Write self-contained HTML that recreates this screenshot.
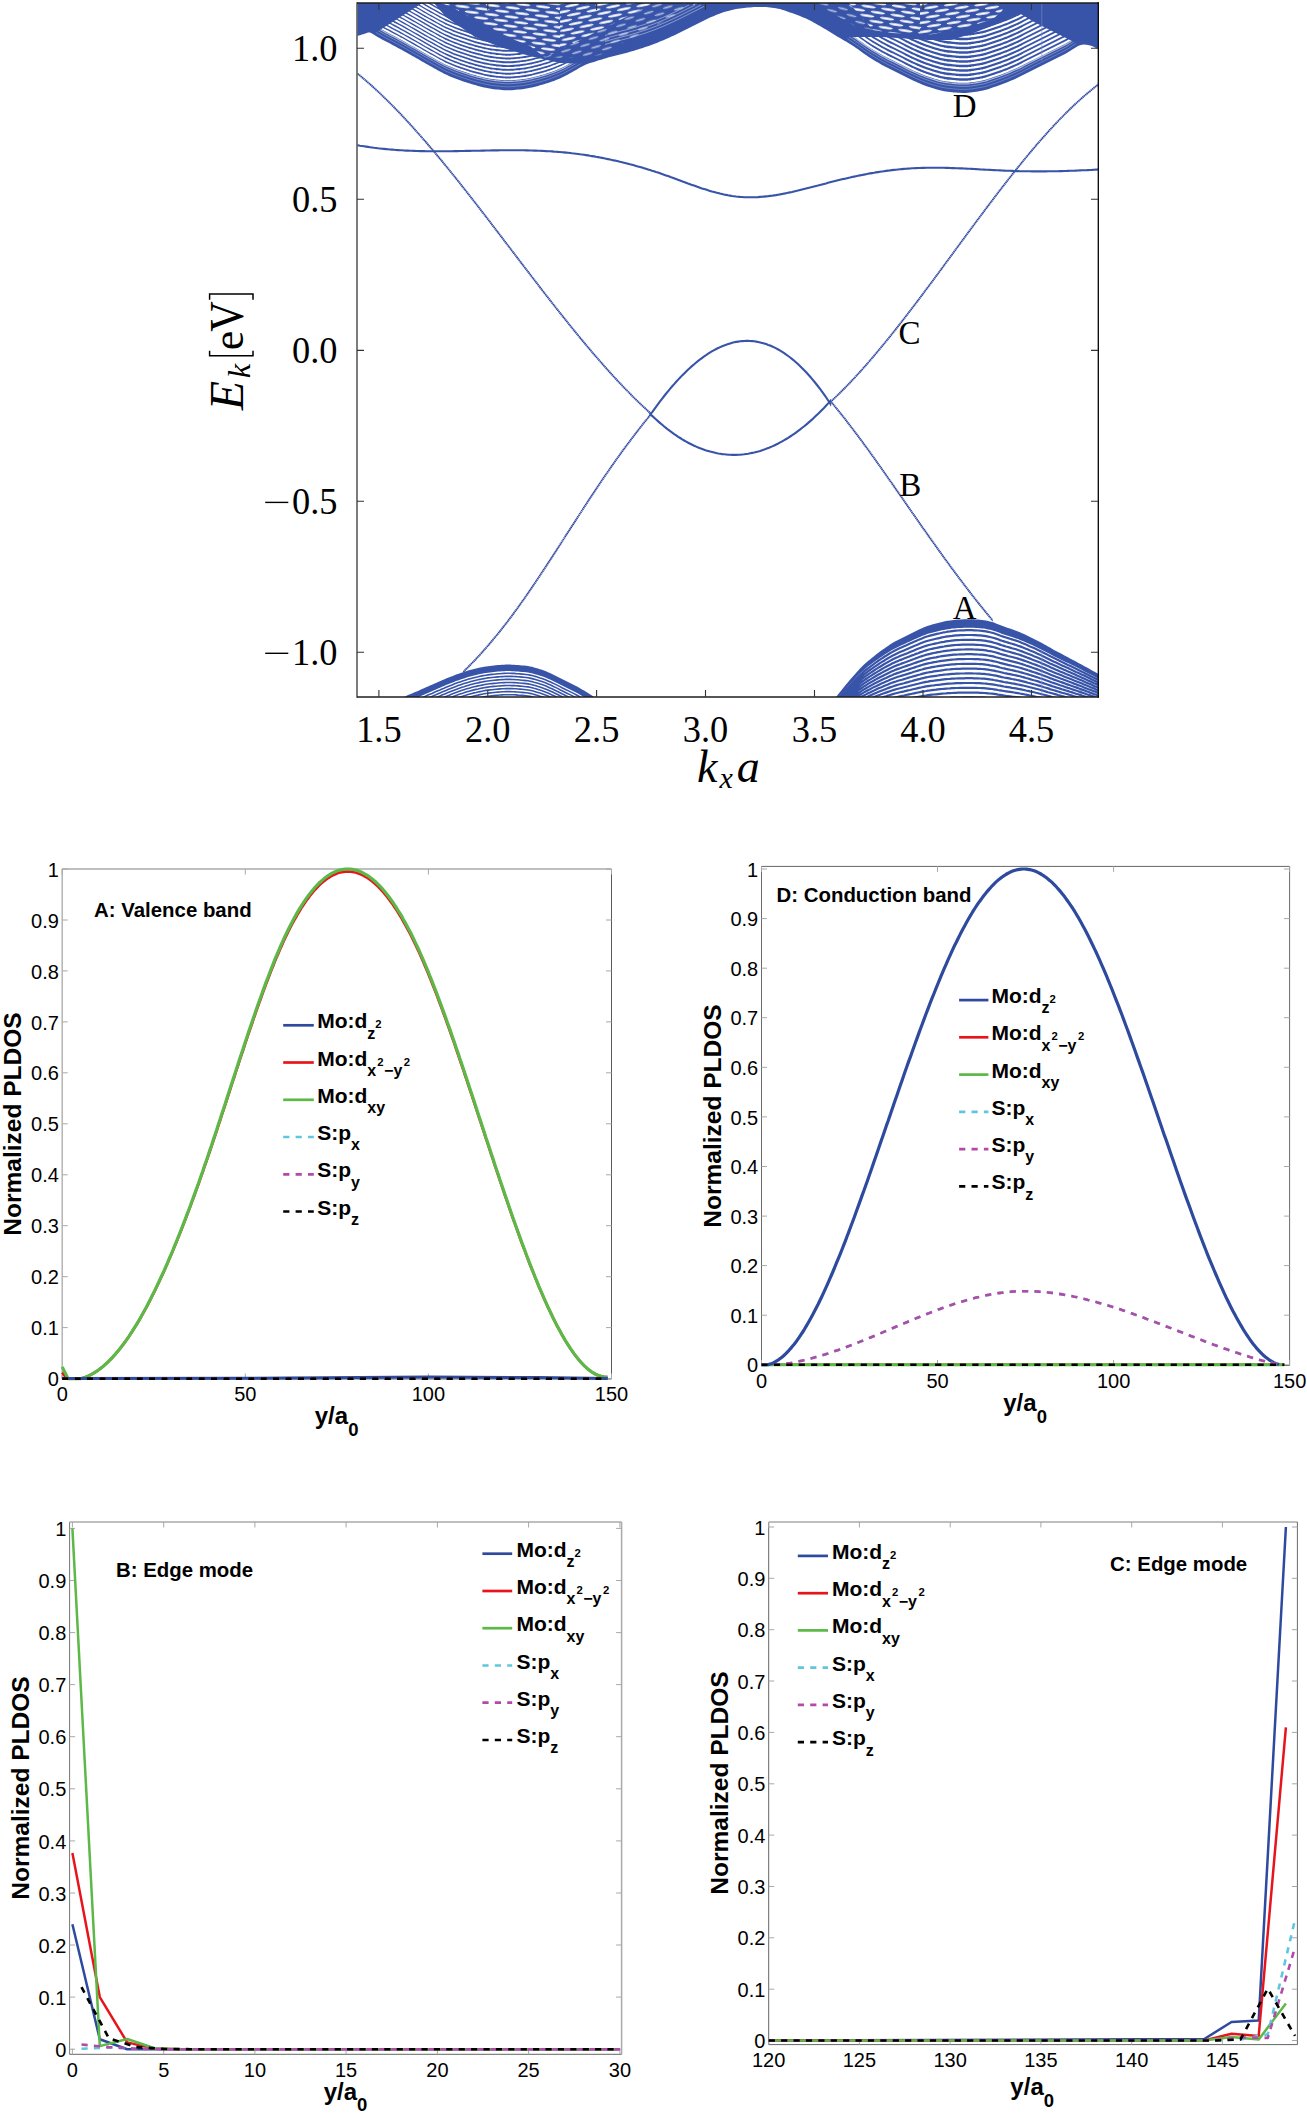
<!DOCTYPE html><html><head><meta charset="utf-8"><style>html,body{margin:0;padding:0;background:#fff;}svg{display:block}</style></head><body>
<svg width="1307" height="2114" viewBox="0 0 1307 2114">
<rect width="100%" height="100%" fill="#fff"/>
<defs>
<clipPath id="frame"><rect x="357" y="3" width="741" height="694"/></clipPath>
<clipPath id="r2"><path d="M372 35 L424 2 L433 2 L446 17 L475 37 L500 47 L530 56 L560 63 L590 64 L590 61.6 L588 62.2 L586 63 L584 63.9 L582 64.9 L580 66.1 L578 67.3 L576 68.4 L574 69.6 L572 70.7 L570 71.8 L568 72.9 L566 74 L564 75 L562 76 L560 76.9 L558 77.8 L556 78.6 L554 79.4 L552 80.1 L550 80.8 L548 81.5 L546 82.1 L544 82.7 L542 83.3 L540 83.8 L538 84.4 L536 84.9 L534 85.4 L532 85.9 L530 86.3 L528 86.7 L526 87.1 L524 87.4 L522 87.7 L520 87.9 L518 88.1 L516 88.3 L514 88.5 L512 88.7 L510 88.8 L508 88.8 L506 88.8 L504 88.7 L502 88.5 L500 88.3 L498 88.1 L496 87.9 L494 87.7 L492 87.4 L490 87.1 L488 86.7 L486 86.3 L484 85.9 L482 85.4 L480 84.9 L478 84.4 L476 83.8 L474 83.3 L472 82.7 L470 82.1 L468 81.5 L466 80.8 L464 80.2 L462 79.5 L460 78.8 L458 78.1 L456 77.3 L454 76.6 L452 75.7 L450 74.9 L448 74 L446 73.1 L444 72.2 L442 71.1 L440 70.1 L438 68.9 L436 67.8 L434 66.7 L432 65.6 L430 64.5 L428 63.3 L426 62.2 L424 61.1 L422 59.9 L420 58.8 L418 57.6 L416 56.5 L414 55.3 L412 54.2 L410 53.1 L408 51.9 L406 50.8 L404 49.7 L402 48.6 L400 47.5 L398 46.4 L396 45.3 L394 44.3 L392 43.2 L390 42.1 L388 41.1 L386 40 L384 38.9 L382 37.9 L380 36.8 L378 35.7 L376 34.5 L374 33.3 L372 32.1Z"/></clipPath>
<clipPath id="r3"><path d="M437 2 L656 2 L545 57.5 L530 46 L515 40 L490 28 L468 16 L450 6Z"/></clipPath>
<clipPath id="r3f"><path d="M656 2 L700 2 L600 55 L575 58 L545 57.5Z"/></clipPath>
<clipPath id="r3u"><path d="M437 2 L700 2 L600 55 L575 58 L545 57.5 L530 46 L515 40 L490 28 L468 16 L450 6Z"/></clipPath>
<clipPath id="r2b"><path d="M846 37 L882 37 L928 40 L951 40 L971 34 L989 27 L1003 21.5 L1011 17 L1020 13.5 L1035 22.5 L1046 28 L1056 33 L1067 38.6 L1076 43 L1076 45.7 L1074 46.9 L1072 48.2 L1070 49.5 L1068 50.8 L1066 52 L1064 53 L1062 54 L1060 55 L1058 56 L1056 57 L1054 58 L1052 59 L1050 60 L1048 60.9 L1046 61.9 L1044 62.9 L1042 63.9 L1040 64.9 L1038 65.9 L1036 66.9 L1034 67.9 L1032 68.9 L1030 70 L1028 71 L1026 72 L1024 73.1 L1022 74.1 L1020 75.1 L1018 76.1 L1016 77 L1014 77.9 L1012 78.8 L1010 79.6 L1008 80.5 L1006 81.3 L1004 82 L1002 82.8 L1000 83.5 L998 84.2 L996 84.9 L994 85.6 L992 86.3 L990 87 L988 87.7 L986 88.3 L984 88.8 L982 89.2 L980 89.6 L978 89.9 L976 90.2 L974 90.6 L972 90.8 L970 91.1 L968 91.3 L966 91.4 L964 91.4 L962 91.4 L960 91.3 L958 91.2 L956 91.1 L954 90.9 L952 90.7 L950 90.5 L948 90.3 L946 90 L944 89.7 L942 89.3 L940 88.8 L938 88.3 L936 87.7 L934 87.1 L932 86.5 L930 85.8 L928 85.2 L926 84.5 L924 83.7 L922 82.9 L920 82.1 L918 81.2 L916 80.3 L914 79.4 L912 78.5 L910 77.6 L908 76.6 L906 75.6 L904 74.6 L902 73.5 L900 72.5 L898 71.5 L896 70.5 L894 69.5 L892 68.6 L890 67.6 L888 66.6 L886 65.6 L884 64.5 L882 63.4 L880 62.3 L878 61.1 L876 59.9 L874 58.7 L872 57.5 L870 56.2 L868 54.9 L866 53.6 L864 52.2 L862 50.7 L860 49.3 L858 47.8 L856 46.4 L854 45.1 L852 43.8 L850 42.5Z"/></clipPath>
<clipPath id="r3b"><path d="M848 2 L1006 2 L1002 11 L993 19 L965 28 L928 35 L892 33 L873 30Z"/></clipPath>
<clipPath id="r3bf"><path d="M812 2 L848 2 L873 30 L855 26 L832 13Z"/></clipPath>
<clipPath id="r3bu"><path d="M812 2 L1006 2 L1002 11 L993 19 L965 28 L928 35 L892 33 L873 30 L855 26 L832 13Z"/></clipPath>
</defs>
<g clip-path="url(#frame)">
<path d="M356 2 L1099 2 L1098 49.3 L1096 48 L1094 47 L1092 46.1 L1090 45.5 L1088 45 L1086 44.7 L1084 44.6 L1082 44.8 L1080 45.3 L1078 46.1 L1076 47.2 L1074 48.4 L1072 49.7 L1070 51 L1068 52.3 L1066 53.5 L1064 54.5 L1062 55.5 L1060 56.5 L1058 57.5 L1056 58.5 L1054 59.5 L1052 60.5 L1050 61.5 L1048 62.4 L1046 63.4 L1044 64.4 L1042 65.4 L1040 66.4 L1038 67.4 L1036 68.4 L1034 69.4 L1032 70.4 L1030 71.5 L1028 72.5 L1026 73.5 L1024 74.6 L1022 75.6 L1020 76.6 L1018 77.6 L1016 78.5 L1014 79.4 L1012 80.3 L1010 81.1 L1008 82 L1006 82.8 L1004 83.5 L1002 84.3 L1000 85 L998 85.7 L996 86.4 L994 87.1 L992 87.8 L990 88.5 L988 89.2 L986 89.8 L984 90.3 L982 90.7 L980 91.1 L978 91.4 L976 91.7 L974 92.1 L972 92.3 L970 92.6 L968 92.8 L966 92.9 L964 92.9 L962 92.9 L960 92.8 L958 92.7 L956 92.6 L954 92.4 L952 92.2 L950 92 L948 91.8 L946 91.5 L944 91.2 L942 90.8 L940 90.3 L938 89.8 L936 89.2 L934 88.6 L932 88 L930 87.3 L928 86.7 L926 86 L924 85.2 L922 84.4 L920 83.6 L918 82.7 L916 81.8 L914 80.9 L912 80 L910 79.1 L908 78.1 L906 77.1 L904 76.1 L902 75 L900 74 L898 73 L896 72 L894 71 L892 70.1 L890 69.1 L888 68.1 L886 67.1 L884 66 L882 64.9 L880 63.8 L878 62.6 L876 61.4 L874 60.2 L872 59 L870 57.7 L868 56.4 L866 55.1 L864 53.7 L862 52.2 L860 50.8 L858 49.3 L856 47.9 L854 46.6 L852 45.3 L850 44 L848 42.8 L846 41.6 L844 40.4 L842 39.2 L840 38.1 L838 36.9 L836 35.7 L834 34.5 L832 33.2 L830 32 L828 30.8 L826 29.6 L824 28.4 L822 27.3 L820 26.1 L818 25 L816 23.8 L814 22.7 L812 21.6 L810 20.5 L808 19.5 L806 18.6 L804 17.7 L802 16.9 L800 16 L798 15.3 L796 14.5 L794 13.8 L792 13.1 L790 12.4 L788 11.7 L786 11 L784 10.3 L782 9.7 L780 9.1 L778 8.7 L776 8.3 L774 8 L772 7.8 L770 7.5 L768 7.3 L766 7.1 L764 7 L762 6.9 L760 6.9 L758 6.9 L756 7 L754 7.1 L752 7.3 L750 7.4 L748 7.6 L746 7.8 L744 8 L742 8.2 L740 8.4 L738 8.7 L736 9 L734 9.4 L732 9.9 L730 10.4 L728 10.9 L726 11.5 L724 12.1 L722 12.7 L720 13.4 L718 14.2 L716 15 L714 15.9 L712 16.7 L710 17.6 L708 18.5 L706 19.5 L704 20.4 L702 21.4 L700 22.4 L698 23.5 L696 24.5 L694 25.5 L692 26.5 L690 27.5 L688 28.5 L686 29.5 L684 30.5 L682 31.5 L680 32.5 L678 33.5 L676 34.5 L674 35.4 L672 36.3 L670 37.3 L668 38.2 L666 39.1 L664 39.9 L662 40.8 L660 41.6 L658 42.4 L656 43.2 L654 44 L652 44.7 L650 45.4 L648 46.2 L646 46.8 L644 47.5 L642 48.2 L640 48.8 L638 49.4 L636 50.1 L634 50.7 L632 51.2 L630 51.8 L628 52.4 L626 52.9 L624 53.4 L622 53.9 L620 54.4 L618 54.9 L616 55.4 L614 56 L612 56.5 L610 57.1 L608 57.6 L606 58.2 L604 58.8 L602 59.4 L600 60 L598 60.6 L596 61.3 L594 61.9 L592 62.5 L590 63.1 L588 63.7 L586 64.5 L584 65.4 L582 66.4 L580 67.6 L578 68.8 L576 69.9 L574 71.1 L572 72.2 L570 73.3 L568 74.4 L566 75.5 L564 76.5 L562 77.5 L560 78.4 L558 79.3 L556 80.1 L554 80.9 L552 81.6 L550 82.3 L548 83 L546 83.6 L544 84.2 L542 84.8 L540 85.3 L538 85.9 L536 86.4 L534 86.9 L532 87.4 L530 87.8 L528 88.2 L526 88.6 L524 88.9 L522 89.2 L520 89.4 L518 89.6 L516 89.8 L514 90 L512 90.2 L510 90.3 L508 90.3 L506 90.3 L504 90.2 L502 90 L500 89.8 L498 89.6 L496 89.4 L494 89.2 L492 88.9 L490 88.6 L488 88.2 L486 87.8 L484 87.4 L482 86.9 L480 86.4 L478 85.9 L476 85.3 L474 84.8 L472 84.2 L470 83.6 L468 83 L466 82.3 L464 81.7 L462 81 L460 80.3 L458 79.6 L456 78.8 L454 78.1 L452 77.2 L450 76.4 L448 75.5 L446 74.6 L444 73.7 L442 72.6 L440 71.6 L438 70.4 L436 69.3 L434 68.2 L432 67.1 L430 66 L428 64.8 L426 63.7 L424 62.6 L422 61.4 L420 60.3 L418 59.1 L416 58 L414 56.8 L412 55.7 L410 54.6 L408 53.4 L406 52.3 L404 51.2 L402 50.1 L400 49 L398 47.9 L396 46.8 L394 45.8 L392 44.7 L390 43.6 L388 42.6 L386 41.5 L384 40.4 L382 39.4 L380 38.3 L378 37.2 L376 36 L374 34.8 L372 33.6 L370 32.4 L368 32.6 L366 33.3 L364 34 L362 34.6 L360 35.2 L358 35.8 L356 36.3Z" fill="#3854a9"/>
<g clip-path="url(#r2)" fill="none" stroke="#fff"><path d="M370 28.9 L373 30.7 L376 32.5 L379 34.2 L382 35.9 L385 37.5 L388 39.1 L391 40.7 L394 42.3 L397 43.8 L400 45.5 L403 47.1 L406 48.8 L409 50.5 L412 52.2 L415 53.9 L418 55.6 L421 57.3 L424 59.1 L427 60.8 L430 62.5 L433 64.1 L436 65.8 L439 67.5 L442 69.1 L445 70.7 L448 72 L451 73.3 L454 74.6 L457 75.7 L460 76.8 L463 77.8 L466 78.8 L469 79.8 L472 80.7 L475 81.6 L478 82.4 L481 83.1 L484 83.9 L487 84.5 L490 85.1 L493 85.5 L496 85.9 L499 86.2 L502 86.5 L505 86.7 L508 86.8 L511 86.7 L514 86.5 L517 86.2 L520 85.9 L523 85.5 L526 85.1 L529 84.5 L532 83.9 L535 83.1 L538 82.4 L541 81.6 L544 80.7 L547 79.8 L550 78.8 L553 77.7 L556 76.6 L559 75.3 L562 74 L565 72.5 L568 70.9 L571 69.3 L574 67.6 L577 65.9 L580 64.1 L583 62.4 L586 61 L589 59.9 L592 59 L595 58.1 L598 57.1" stroke-width="0.8" stroke-opacity="0.3"/><path d="M370 25.9 L373 27.7 L376 29.5 L379 31.2 L382 32.9 L385 34.5 L388 36.1 L391 37.7 L394 39.3 L397 40.8 L400 42.5 L403 44.1 L406 45.8 L409 47.5 L412 49.2 L415 50.9 L418 52.6 L421 54.3 L424 56.1 L427 57.8 L430 59.5 L433 61.1 L436 62.8 L439 64.5 L442 66.1 L445 67.7 L448 69 L451 70.3 L454 71.6 L457 72.7 L460 73.8 L463 74.8 L466 75.8 L469 76.8 L472 77.7 L475 78.6 L478 79.4 L481 80.1 L484 80.9 L487 81.5 L490 82.1 L493 82.5 L496 82.9 L499 83.2 L502 83.5 L505 83.7 L508 83.8 L511 83.7 L514 83.5 L517 83.2 L520 82.9 L523 82.5 L526 82.1 L529 81.5 L532 80.9 L535 80.1 L538 79.4 L541 78.6 L544 77.7 L547 76.8 L550 75.8 L553 74.7 L556 73.6 L559 72.3 L562 71 L565 69.5 L568 67.9 L571 66.3 L574 64.6 L577 62.9 L580 61.1 L583 59.4 L586 58 L589 56.9 L592 56 L595 55.1 L598 54.1" stroke-width="0.9" stroke-opacity="0.35"/><path d="M370 23.6 L373 25.4 L376 27.2 L379 28.9 L382 30.6 L385 32.2 L388 33.8 L391 35.4 L394 37 L397 38.5 L400 40.2 L403 41.8 L406 43.5 L409 45.2 L412 46.9 L415 48.6 L418 50.3 L421 52 L424 53.8 L427 55.5 L430 57.2 L433 58.8 L436 60.5 L439 62.2 L442 63.8 L445 65.4 L448 66.7 L451 68 L454 69.3 L457 70.4 L460 71.5 L463 72.5 L466 73.5 L469 74.5 L472 75.4 L475 76.3 L478 77.1 L481 77.8 L484 78.6 L487 79.2 L490 79.8 L493 80.2 L496 80.6 L499 80.9 L502 81.2 L505 81.4 L508 81.5 L511 81.4 L514 81.2 L517 80.9 L520 80.6 L523 80.2 L526 79.8 L529 79.2 L532 78.6 L535 77.8 L538 77.1 L541 76.3 L544 75.4 L547 74.5 L550 73.5 L553 72.4 L556 71.3 L559 70 L562 68.7 L565 67.2 L568 65.6 L571 64 L574 62.3 L577 60.6 L580 58.8 L583 57.1 L586 55.7 L589 54.6 L592 53.7 L595 52.8 L598 51.8" stroke-width="1.1" stroke-opacity="0.6"/><path d="M370 21.5 L373 23.3 L376 25.1 L379 26.8 L382 28.5 L385 30.1 L388 31.7 L391 33.3 L394 34.9 L397 36.4 L400 38.1 L403 39.7 L406 41.4 L409 43.1 L412 44.8 L415 46.5 L418 48.2 L421 49.9 L424 51.7 L427 53.4 L430 55.1 L433 56.7 L436 58.4 L439 60.1 L442 61.7 L445 63.3 L448 64.6 L451 65.9 L454 67.2 L457 68.3 L460 69.4 L463 70.4 L466 71.4 L469 72.4 L472 73.3 L475 74.2 L478 75 L481 75.7 L484 76.5 L487 77.1 L490 77.7 L493 78.1 L496 78.5 L499 78.8 L502 79.1 L505 79.3 L508 79.4 L511 79.3 L514 79.1 L517 78.8 L520 78.5 L523 78.1 L526 77.7 L529 77.1 L532 76.5 L535 75.7 L538 75 L541 74.2 L544 73.3 L547 72.4 L550 71.4 L553 70.3 L556 69.2 L559 67.9 L562 66.6 L565 65.1 L568 63.5 L571 61.9 L574 60.2 L577 58.5 L580 56.7 L583 55 L586 53.6 L589 52.5 L592 51.6 L595 50.7 L598 49.7" stroke-width="1.9" stroke-opacity="1"/><path d="M370 17.7 L373 19.5 L376 21.3 L379 23 L382 24.7 L385 26.3 L388 27.9 L391 29.5 L394 31.1 L397 32.6 L400 34.3 L403 35.9 L406 37.6 L409 39.3 L412 41 L415 42.7 L418 44.4 L421 46.1 L424 47.9 L427 49.6 L430 51.3 L433 52.9 L436 54.6 L439 56.3 L442 57.9 L445 59.5 L448 60.8 L451 62.1 L454 63.4 L457 64.5 L460 65.6 L463 66.6 L466 67.6 L469 68.6 L472 69.5 L475 70.4 L478 71.2 L481 71.9 L484 72.7 L487 73.3 L490 73.9 L493 74.3 L496 74.7 L499 75 L502 75.3 L505 75.5 L508 75.6 L511 75.5 L514 75.3 L517 75 L520 74.7 L523 74.3 L526 73.9 L529 73.3 L532 72.7 L535 71.9 L538 71.2 L541 70.4 L544 69.5 L547 68.6 L550 67.6 L553 66.5 L556 65.4 L559 64.1 L562 62.8 L565 61.3 L568 59.7 L571 58.1 L574 56.4 L577 54.7 L580 52.9 L583 51.2 L586 49.8 L589 48.7 L592 47.8 L595 46.9 L598 45.9" stroke-width="1.9" stroke-opacity="1"/><path d="M370 13.9 L373 15.7 L376 17.5 L379 19.2 L382 20.9 L385 22.5 L388 24.1 L391 25.7 L394 27.3 L397 28.8 L400 30.5 L403 32.1 L406 33.8 L409 35.5 L412 37.2 L415 38.9 L418 40.6 L421 42.3 L424 44.1 L427 45.8 L430 47.5 L433 49.1 L436 50.8 L439 52.5 L442 54.1 L445 55.7 L448 57 L451 58.3 L454 59.6 L457 60.7 L460 61.8 L463 62.8 L466 63.8 L469 64.8 L472 65.7 L475 66.6 L478 67.4 L481 68.1 L484 68.9 L487 69.5 L490 70.1 L493 70.5 L496 70.9 L499 71.2 L502 71.5 L505 71.7 L508 71.8 L511 71.7 L514 71.5 L517 71.2 L520 70.9 L523 70.5 L526 70.1 L529 69.5 L532 68.9 L535 68.1 L538 67.4 L541 66.6 L544 65.7 L547 64.8 L550 63.8 L553 62.7 L556 61.6 L559 60.3 L562 59 L565 57.5 L568 55.9 L571 54.3 L574 52.6 L577 50.9 L580 49.1 L583 47.4 L586 46 L589 44.9 L592 44 L595 43.1 L598 42.1" stroke-width="1.9" stroke-opacity="1"/><path d="M370 10.1 L373 11.9 L376 13.7 L379 15.4 L382 17.1 L385 18.7 L388 20.3 L391 21.9 L394 23.5 L397 25 L400 26.7 L403 28.3 L406 30 L409 31.7 L412 33.4 L415 35.1 L418 36.8 L421 38.5 L424 40.3 L427 42 L430 43.7 L433 45.3 L436 47 L439 48.7 L442 50.3 L445 51.9 L448 53.2 L451 54.5 L454 55.8 L457 56.9 L460 58 L463 59 L466 60 L469 61 L472 61.9 L475 62.8 L478 63.6 L481 64.3 L484 65.1 L487 65.7 L490 66.3 L493 66.7 L496 67.1 L499 67.4 L502 67.7 L505 67.9 L508 68 L511 67.9 L514 67.7 L517 67.4 L520 67.1 L523 66.7 L526 66.3 L529 65.7 L532 65.1 L535 64.3 L538 63.6 L541 62.8 L544 61.9 L547 61 L550 60 L553 58.9 L556 57.8 L559 56.5 L562 55.2 L565 53.7 L568 52.1 L571 50.5 L574 48.8 L577 47.1 L580 45.3 L583 43.6 L586 42.2 L589 41.1 L592 40.2 L595 39.3 L598 38.3" stroke-width="1.9" stroke-opacity="1"/><path d="M370 6.3 L373 8.1 L376 9.9 L379 11.6 L382 13.3 L385 14.9 L388 16.5 L391 18.1 L394 19.7 L397 21.2 L400 22.9 L403 24.5 L406 26.2 L409 27.9 L412 29.6 L415 31.3 L418 33 L421 34.7 L424 36.5 L427 38.2 L430 39.9 L433 41.5 L436 43.2 L439 44.9 L442 46.5 L445 48.1 L448 49.4 L451 50.7 L454 52 L457 53.1 L460 54.2 L463 55.2 L466 56.2 L469 57.2 L472 58.1 L475 59 L478 59.8 L481 60.5 L484 61.3 L487 61.9 L490 62.5 L493 62.9 L496 63.3 L499 63.6 L502 63.9 L505 64.1 L508 64.2 L511 64.1 L514 63.9 L517 63.6 L520 63.3 L523 62.9 L526 62.5 L529 61.9 L532 61.3 L535 60.5 L538 59.8 L541 59 L544 58.1 L547 57.2 L550 56.2 L553 55.1 L556 54 L559 52.7 L562 51.4 L565 49.9 L568 48.3 L571 46.7 L574 45 L577 43.3 L580 41.5 L583 39.8 L586 38.4 L589 37.3 L592 36.4 L595 35.5 L598 34.5" stroke-width="1.9" stroke-opacity="1"/><path d="M370 2.5 L373 4.3 L376 6.1 L379 7.8 L382 9.5 L385 11.1 L388 12.7 L391 14.3 L394 15.9 L397 17.4 L400 19.1 L403 20.7 L406 22.4 L409 24.1 L412 25.8 L415 27.5 L418 29.2 L421 30.9 L424 32.7 L427 34.4 L430 36.1 L433 37.7 L436 39.4 L439 41.1 L442 42.7 L445 44.3 L448 45.6 L451 46.9 L454 48.2 L457 49.3 L460 50.4 L463 51.4 L466 52.4 L469 53.4 L472 54.3 L475 55.2 L478 56 L481 56.7 L484 57.5 L487 58.1 L490 58.7 L493 59.1 L496 59.5 L499 59.8 L502 60.1 L505 60.3 L508 60.4 L511 60.3 L514 60.1 L517 59.8 L520 59.5 L523 59.1 L526 58.7 L529 58.1 L532 57.5 L535 56.7 L538 56 L541 55.2 L544 54.3 L547 53.4 L550 52.4 L553 51.3 L556 50.2 L559 48.9 L562 47.6 L565 46.1 L568 44.5 L571 42.9 L574 41.2 L577 39.5 L580 37.7 L583 36 L586 34.6 L589 33.5 L592 32.6 L595 31.7 L598 30.7" stroke-width="1.9" stroke-opacity="1"/><path d="M370 -1.3 L373 0.5 L376 2.3 L379 4 L382 5.7 L385 7.3 L388 8.9 L391 10.5 L394 12.1 L397 13.6 L400 15.3 L403 16.9 L406 18.6 L409 20.3 L412 22 L415 23.7 L418 25.4 L421 27.1 L424 28.9 L427 30.6 L430 32.3 L433 33.9 L436 35.6 L439 37.3 L442 38.9 L445 40.5 L448 41.8 L451 43.1 L454 44.4 L457 45.5 L460 46.6 L463 47.6 L466 48.6 L469 49.6 L472 50.5 L475 51.4 L478 52.2 L481 52.9 L484 53.7 L487 54.3 L490 54.9 L493 55.3 L496 55.7 L499 56 L502 56.3 L505 56.5 L508 56.6 L511 56.5 L514 56.3 L517 56 L520 55.7 L523 55.3 L526 54.9 L529 54.3 L532 53.7 L535 52.9 L538 52.2 L541 51.4 L544 50.5 L547 49.6 L550 48.6 L553 47.5 L556 46.4 L559 45.1 L562 43.8 L565 42.3 L568 40.7 L571 39.1 L574 37.4 L577 35.7 L580 33.9 L583 32.2 L586 30.8 L589 29.7 L592 28.8 L595 27.9 L598 26.9" stroke-width="1.9" stroke-opacity="1"/><path d="M370 -5.1 L373 -3.3 L376 -1.5 L379 0.2 L382 1.9 L385 3.5 L388 5.1 L391 6.7 L394 8.3 L397 9.8 L400 11.5 L403 13.1 L406 14.8 L409 16.5 L412 18.2 L415 19.9 L418 21.6 L421 23.3 L424 25.1 L427 26.8 L430 28.5 L433 30.1 L436 31.8 L439 33.5 L442 35.1 L445 36.7 L448 38 L451 39.3 L454 40.6 L457 41.7 L460 42.8 L463 43.8 L466 44.8 L469 45.8 L472 46.7 L475 47.6 L478 48.4 L481 49.1 L484 49.9 L487 50.5 L490 51.1 L493 51.5 L496 51.9 L499 52.2 L502 52.5 L505 52.7 L508 52.8 L511 52.7 L514 52.5 L517 52.2 L520 51.9 L523 51.5 L526 51.1 L529 50.5 L532 49.9 L535 49.1 L538 48.4 L541 47.6 L544 46.7 L547 45.8 L550 44.8 L553 43.7 L556 42.6 L559 41.3 L562 40 L565 38.5 L568 36.9 L571 35.3 L574 33.6 L577 31.9 L580 30.1 L583 28.4 L586 27 L589 25.9 L592 25 L595 24.1 L598 23.1" stroke-width="1.9" stroke-opacity="1"/><path d="M370 -8.9 L373 -7.1 L376 -5.3 L379 -3.6 L382 -1.9 L385 -0.3 L388 1.3 L391 2.9 L394 4.5 L397 6 L400 7.7 L403 9.3 L406 11 L409 12.7 L412 14.4 L415 16.1 L418 17.8 L421 19.5 L424 21.3 L427 23 L430 24.7 L433 26.3 L436 28 L439 29.7 L442 31.3 L445 32.9 L448 34.2 L451 35.5 L454 36.8 L457 37.9 L460 39 L463 40 L466 41 L469 42 L472 42.9 L475 43.8 L478 44.6 L481 45.3 L484 46.1 L487 46.7 L490 47.3 L493 47.7 L496 48.1 L499 48.4 L502 48.7 L505 48.9 L508 49 L511 48.9 L514 48.7 L517 48.4 L520 48.1 L523 47.7 L526 47.3 L529 46.7 L532 46.1 L535 45.3 L538 44.6 L541 43.8 L544 42.9 L547 42 L550 41 L553 39.9 L556 38.8 L559 37.5 L562 36.2 L565 34.7 L568 33.1 L571 31.5 L574 29.8 L577 28.1 L580 26.3 L583 24.6 L586 23.2 L589 22.1 L592 21.2 L595 20.3 L598 19.3" stroke-width="1.9" stroke-opacity="1"/><path d="M370 -12.7 L373 -10.9 L376 -9.1 L379 -7.4 L382 -5.7 L385 -4.1 L388 -2.5 L391 -0.9 L394 0.7 L397 2.2 L400 3.9 L403 5.5 L406 7.2 L409 8.9 L412 10.6 L415 12.3 L418 14 L421 15.7 L424 17.5 L427 19.2 L430 20.9 L433 22.5 L436 24.2 L439 25.9 L442 27.5 L445 29.1 L448 30.4 L451 31.7 L454 33 L457 34.1 L460 35.2 L463 36.2 L466 37.2 L469 38.2 L472 39.1 L475 40 L478 40.8 L481 41.5 L484 42.3 L487 42.9 L490 43.5 L493 43.9 L496 44.3 L499 44.6 L502 44.9 L505 45.1 L508 45.2 L511 45.1 L514 44.9 L517 44.6 L520 44.3 L523 43.9 L526 43.5 L529 42.9 L532 42.3 L535 41.5 L538 40.8 L541 40 L544 39.1 L547 38.2 L550 37.2 L553 36.1 L556 35 L559 33.7 L562 32.4 L565 30.9 L568 29.3 L571 27.7 L574 26 L577 24.3 L580 22.5 L583 20.8 L586 19.4 L589 18.3 L592 17.4 L595 16.5 L598 15.5" stroke-width="1.9" stroke-opacity="1"/><path d="M370 -16.5 L373 -14.7 L376 -12.9 L379 -11.2 L382 -9.5 L385 -7.9 L388 -6.3 L391 -4.7 L394 -3.1 L397 -1.6 L400 0.1 L403 1.7 L406 3.4 L409 5.1 L412 6.8 L415 8.5 L418 10.2 L421 11.9 L424 13.7 L427 15.4 L430 17.1 L433 18.7 L436 20.4 L439 22.1 L442 23.7 L445 25.3 L448 26.6 L451 27.9 L454 29.2 L457 30.3 L460 31.4 L463 32.4 L466 33.4 L469 34.4 L472 35.3 L475 36.2 L478 37 L481 37.7 L484 38.5 L487 39.1 L490 39.7 L493 40.1 L496 40.5 L499 40.8 L502 41.1 L505 41.3 L508 41.4 L511 41.3 L514 41.1 L517 40.8 L520 40.5 L523 40.1 L526 39.7 L529 39.1 L532 38.5 L535 37.7 L538 37 L541 36.2 L544 35.3 L547 34.4 L550 33.4 L553 32.3 L556 31.2 L559 29.9 L562 28.6 L565 27.1 L568 25.5 L571 23.9 L574 22.2 L577 20.5 L580 18.7 L583 17 L586 15.6 L589 14.5 L592 13.6 L595 12.7 L598 11.7" stroke-width="1.9" stroke-opacity="1"/><path d="M370 -20.3 L373 -18.5 L376 -16.7 L379 -15 L382 -13.3 L385 -11.7 L388 -10.1 L391 -8.5 L394 -6.9 L397 -5.4 L400 -3.7 L403 -2.1 L406 -0.4 L409 1.3 L412 3 L415 4.7 L418 6.4 L421 8.1 L424 9.9 L427 11.6 L430 13.3 L433 14.9 L436 16.6 L439 18.3 L442 19.9 L445 21.5 L448 22.8 L451 24.1 L454 25.4 L457 26.5 L460 27.6 L463 28.6 L466 29.6 L469 30.6 L472 31.5 L475 32.4 L478 33.2 L481 33.9 L484 34.7 L487 35.3 L490 35.9 L493 36.3 L496 36.7 L499 37 L502 37.3 L505 37.5 L508 37.6 L511 37.5 L514 37.3 L517 37 L520 36.7 L523 36.3 L526 35.9 L529 35.3 L532 34.7 L535 33.9 L538 33.2 L541 32.4 L544 31.5 L547 30.6 L550 29.6 L553 28.5 L556 27.4 L559 26.1 L562 24.8 L565 23.3 L568 21.7 L571 20.1 L574 18.4 L577 16.7 L580 14.9 L583 13.2 L586 11.8 L589 10.7 L592 9.8 L595 8.9 L598 7.9" stroke-width="1.9" stroke-opacity="1"/><path d="M370 -24.1 L373 -22.3 L376 -20.5 L379 -18.8 L382 -17.1 L385 -15.5 L388 -13.9 L391 -12.3 L394 -10.7 L397 -9.2 L400 -7.5 L403 -5.9 L406 -4.2 L409 -2.5 L412 -0.8 L415 0.9 L418 2.6 L421 4.3 L424 6.1 L427 7.8 L430 9.5 L433 11.1 L436 12.8 L439 14.5 L442 16.1 L445 17.7 L448 19 L451 20.3 L454 21.6 L457 22.7 L460 23.8 L463 24.8 L466 25.8 L469 26.8 L472 27.7 L475 28.6 L478 29.4 L481 30.1 L484 30.9 L487 31.5 L490 32.1 L493 32.5 L496 32.9 L499 33.2 L502 33.5 L505 33.7 L508 33.8 L511 33.7 L514 33.5 L517 33.2 L520 32.9 L523 32.5 L526 32.1 L529 31.5 L532 30.9 L535 30.1 L538 29.4 L541 28.6 L544 27.7 L547 26.8 L550 25.8 L553 24.7 L556 23.6 L559 22.3 L562 21 L565 19.5 L568 17.9 L571 16.3 L574 14.6 L577 12.9 L580 11.1 L583 9.4 L586 8 L589 6.9 L592 6 L595 5.1 L598 4.1" stroke-width="1.9" stroke-opacity="1"/><path d="M370 -27.9 L373 -26.1 L376 -24.3 L379 -22.6 L382 -20.9 L385 -19.3 L388 -17.7 L391 -16.1 L394 -14.5 L397 -13 L400 -11.3 L403 -9.7 L406 -8 L409 -6.3 L412 -4.6 L415 -2.9 L418 -1.2 L421 0.5 L424 2.3 L427 4 L430 5.7 L433 7.3 L436 9 L439 10.7 L442 12.3 L445 13.9 L448 15.2 L451 16.5 L454 17.8 L457 18.9 L460 20 L463 21 L466 22 L469 23 L472 23.9 L475 24.8 L478 25.6 L481 26.3 L484 27.1 L487 27.7 L490 28.3 L493 28.7 L496 29.1 L499 29.4 L502 29.7 L505 29.9 L508 30 L511 29.9 L514 29.7 L517 29.4 L520 29.1 L523 28.7 L526 28.3 L529 27.7 L532 27.1 L535 26.3 L538 25.6 L541 24.8 L544 23.9 L547 23 L550 22 L553 20.9 L556 19.8 L559 18.5 L562 17.2 L565 15.7 L568 14.1 L571 12.5 L574 10.8 L577 9.1 L580 7.3 L583 5.6 L586 4.2 L589 3.1 L592 2.2 L595 1.3 L598 0.3" stroke-width="1.9" stroke-opacity="1"/><path d="M370 -31.7 L373 -29.9 L376 -28.1 L379 -26.4 L382 -24.7 L385 -23.1 L388 -21.5 L391 -19.9 L394 -18.3 L397 -16.8 L400 -15.1 L403 -13.5 L406 -11.8 L409 -10.1 L412 -8.4 L415 -6.7 L418 -5 L421 -3.3 L424 -1.5 L427 0.2 L430 1.9 L433 3.5 L436 5.2 L439 6.9 L442 8.5 L445 10.1 L448 11.4 L451 12.7 L454 14 L457 15.1 L460 16.2 L463 17.2 L466 18.2 L469 19.2 L472 20.1 L475 21 L478 21.8 L481 22.5 L484 23.3 L487 23.9 L490 24.5 L493 24.9 L496 25.3 L499 25.6 L502 25.9 L505 26.1 L508 26.2 L511 26.1 L514 25.9 L517 25.6 L520 25.3 L523 24.9 L526 24.5 L529 23.9 L532 23.3 L535 22.5 L538 21.8 L541 21 L544 20.1 L547 19.2 L550 18.2 L553 17.1 L556 16 L559 14.7 L562 13.4 L565 11.9 L568 10.3 L571 8.7 L574 7 L577 5.3 L580 3.5 L583 1.8 L586 0.4 L589 -0.7 L592 -1.6 L595 -2.5 L598 -3.5" stroke-width="1.9" stroke-opacity="1"/><path d="M370 -35.5 L373 -33.7 L376 -31.9 L379 -30.2 L382 -28.5 L385 -26.9 L388 -25.3 L391 -23.7 L394 -22.1 L397 -20.6 L400 -18.9 L403 -17.3 L406 -15.6 L409 -13.9 L412 -12.2 L415 -10.5 L418 -8.8 L421 -7.1 L424 -5.3 L427 -3.6 L430 -1.9 L433 -0.3 L436 1.4 L439 3.1 L442 4.7 L445 6.3 L448 7.6 L451 8.9 L454 10.2 L457 11.3 L460 12.4 L463 13.4 L466 14.4 L469 15.4 L472 16.3 L475 17.2 L478 18 L481 18.7 L484 19.5 L487 20.1 L490 20.7 L493 21.1 L496 21.5 L499 21.8 L502 22.1 L505 22.3 L508 22.4 L511 22.3 L514 22.1 L517 21.8 L520 21.5 L523 21.1 L526 20.7 L529 20.1 L532 19.5 L535 18.7 L538 18 L541 17.2 L544 16.3 L547 15.4 L550 14.4 L553 13.3 L556 12.2 L559 10.9 L562 9.6 L565 8.1 L568 6.5 L571 4.9 L574 3.2 L577 1.5 L580 -0.3 L583 -2 L586 -3.4 L589 -4.5 L592 -5.4 L595 -6.3 L598 -7.3" stroke-width="1.9" stroke-opacity="1"/><path d="M370 -39.3 L373 -37.5 L376 -35.7 L379 -34 L382 -32.3 L385 -30.7 L388 -29.1 L391 -27.5 L394 -25.9 L397 -24.4 L400 -22.7 L403 -21.1 L406 -19.4 L409 -17.7 L412 -16 L415 -14.3 L418 -12.6 L421 -10.9 L424 -9.1 L427 -7.4 L430 -5.7 L433 -4.1 L436 -2.4 L439 -0.7 L442 0.9 L445 2.5 L448 3.8 L451 5.1 L454 6.4 L457 7.5 L460 8.6 L463 9.6 L466 10.6 L469 11.6 L472 12.5 L475 13.4 L478 14.2 L481 14.9 L484 15.7 L487 16.3 L490 16.9 L493 17.3 L496 17.7 L499 18 L502 18.3 L505 18.5 L508 18.6 L511 18.5 L514 18.3 L517 18 L520 17.7 L523 17.3 L526 16.9 L529 16.3 L532 15.7 L535 14.9 L538 14.2 L541 13.4 L544 12.5 L547 11.6 L550 10.6 L553 9.5 L556 8.4 L559 7.1 L562 5.8 L565 4.3 L568 2.7 L571 1.1 L574 -0.6 L577 -2.3 L580 -4.1 L583 -5.8 L586 -7.2 L589 -8.3 L592 -9.2 L595 -10.1 L598 -11.1" stroke-width="1.9" stroke-opacity="1"/><path d="M370 -43.1 L373 -41.3 L376 -39.5 L379 -37.8 L382 -36.1 L385 -34.5 L388 -32.9 L391 -31.3 L394 -29.7 L397 -28.2 L400 -26.5 L403 -24.9 L406 -23.2 L409 -21.5 L412 -19.8 L415 -18.1 L418 -16.4 L421 -14.7 L424 -12.9 L427 -11.2 L430 -9.5 L433 -7.9 L436 -6.2 L439 -4.5 L442 -2.9 L445 -1.3 L448 0 L451 1.3 L454 2.6 L457 3.7 L460 4.8 L463 5.8 L466 6.8 L469 7.8 L472 8.7 L475 9.6 L478 10.4 L481 11.1 L484 11.9 L487 12.5 L490 13.1 L493 13.5 L496 13.9 L499 14.2 L502 14.5 L505 14.7 L508 14.8 L511 14.7 L514 14.5 L517 14.2 L520 13.9 L523 13.5 L526 13.1 L529 12.5 L532 11.9 L535 11.1 L538 10.4 L541 9.6 L544 8.7 L547 7.8 L550 6.8 L553 5.7 L556 4.6 L559 3.3 L562 2 L565 0.5 L568 -1.1 L571 -2.7 L574 -4.4 L577 -6.1 L580 -7.9 L583 -9.6 L586 -11 L589 -12.1 L592 -13 L595 -13.9 L598 -14.9" stroke-width="1.9" stroke-opacity="1"/><path d="M370 -46.9 L373 -45.1 L376 -43.3 L379 -41.6 L382 -39.9 L385 -38.3 L388 -36.7 L391 -35.1 L394 -33.5 L397 -32 L400 -30.3 L403 -28.7 L406 -27 L409 -25.3 L412 -23.6 L415 -21.9 L418 -20.2 L421 -18.5 L424 -16.7 L427 -15 L430 -13.3 L433 -11.7 L436 -10 L439 -8.3 L442 -6.7 L445 -5.1 L448 -3.8 L451 -2.5 L454 -1.2 L457 -0.1 L460 1 L463 2 L466 3 L469 4 L472 4.9 L475 5.8 L478 6.6 L481 7.3 L484 8.1 L487 8.7 L490 9.3 L493 9.7 L496 10.1 L499 10.4 L502 10.7 L505 10.9 L508 11 L511 10.9 L514 10.7 L517 10.4 L520 10.1 L523 9.7 L526 9.3 L529 8.7 L532 8.1 L535 7.3 L538 6.6 L541 5.8 L544 4.9 L547 4 L550 3 L553 1.9 L556 0.8 L559 -0.5 L562 -1.8 L565 -3.3 L568 -4.9 L571 -6.5 L574 -8.2 L577 -9.9 L580 -11.7 L583 -13.4 L586 -14.8 L589 -15.9 L592 -16.8 L595 -17.7 L598 -18.7" stroke-width="1.9" stroke-opacity="1"/><path d="M370 -50.7 L373 -48.9 L376 -47.1 L379 -45.4 L382 -43.7 L385 -42.1 L388 -40.5 L391 -38.9 L394 -37.3 L397 -35.8 L400 -34.1 L403 -32.5 L406 -30.8 L409 -29.1 L412 -27.4 L415 -25.7 L418 -24 L421 -22.3 L424 -20.5 L427 -18.8 L430 -17.1 L433 -15.5 L436 -13.8 L439 -12.1 L442 -10.5 L445 -8.9 L448 -7.6 L451 -6.3 L454 -5 L457 -3.9 L460 -2.8 L463 -1.8 L466 -0.8 L469 0.2 L472 1.1 L475 2 L478 2.8 L481 3.5 L484 4.3 L487 4.9 L490 5.5 L493 5.9 L496 6.3 L499 6.6 L502 6.9 L505 7.1 L508 7.2 L511 7.1 L514 6.9 L517 6.6 L520 6.3 L523 5.9 L526 5.5 L529 4.9 L532 4.3 L535 3.5 L538 2.8 L541 2 L544 1.1 L547 0.2 L550 -0.8 L553 -1.9 L556 -3 L559 -4.3 L562 -5.6 L565 -7.1 L568 -8.7 L571 -10.3 L574 -12 L577 -13.7 L580 -15.5 L583 -17.2 L586 -18.6 L589 -19.7 L592 -20.6 L595 -21.5 L598 -22.5" stroke-width="1.9" stroke-opacity="1"/><path d="M370 -54.5 L373 -52.7 L376 -50.9 L379 -49.2 L382 -47.5 L385 -45.9 L388 -44.3 L391 -42.7 L394 -41.1 L397 -39.6 L400 -37.9 L403 -36.3 L406 -34.6 L409 -32.9 L412 -31.2 L415 -29.5 L418 -27.8 L421 -26.1 L424 -24.3 L427 -22.6 L430 -20.9 L433 -19.3 L436 -17.6 L439 -15.9 L442 -14.3 L445 -12.7 L448 -11.4 L451 -10.1 L454 -8.8 L457 -7.7 L460 -6.6 L463 -5.6 L466 -4.6 L469 -3.6 L472 -2.7 L475 -1.8 L478 -1 L481 -0.3 L484 0.5 L487 1.1 L490 1.7 L493 2.1 L496 2.5 L499 2.8 L502 3.1 L505 3.3 L508 3.4 L511 3.3 L514 3.1 L517 2.8 L520 2.5 L523 2.1 L526 1.7 L529 1.1 L532 0.5 L535 -0.3 L538 -1 L541 -1.8 L544 -2.7 L547 -3.6 L550 -4.6 L553 -5.7 L556 -6.8 L559 -8.1 L562 -9.4 L565 -10.9 L568 -12.5 L571 -14.1 L574 -15.8 L577 -17.5 L580 -19.3 L583 -21 L586 -22.4 L589 -23.5 L592 -24.4 L595 -25.3 L598 -26.3" stroke-width="1.9" stroke-opacity="1"/><path d="M370 -58.3 L373 -56.5 L376 -54.7 L379 -53 L382 -51.3 L385 -49.7 L388 -48.1 L391 -46.5 L394 -44.9 L397 -43.4 L400 -41.7 L403 -40.1 L406 -38.4 L409 -36.7 L412 -35 L415 -33.3 L418 -31.6 L421 -29.9 L424 -28.1 L427 -26.4 L430 -24.7 L433 -23.1 L436 -21.4 L439 -19.7 L442 -18.1 L445 -16.5 L448 -15.2 L451 -13.9 L454 -12.6 L457 -11.5 L460 -10.4 L463 -9.4 L466 -8.4 L469 -7.4 L472 -6.5 L475 -5.6 L478 -4.8 L481 -4.1 L484 -3.3 L487 -2.7 L490 -2.1 L493 -1.7 L496 -1.3 L499 -1 L502 -0.7 L505 -0.5 L508 -0.4 L511 -0.5 L514 -0.7 L517 -1 L520 -1.3 L523 -1.7 L526 -2.1 L529 -2.7 L532 -3.3 L535 -4.1 L538 -4.8 L541 -5.6 L544 -6.5 L547 -7.4 L550 -8.4 L553 -9.5 L556 -10.6 L559 -11.9 L562 -13.2 L565 -14.7 L568 -16.3 L571 -17.9 L574 -19.6 L577 -21.3 L580 -23.1 L583 -24.8 L586 -26.2 L589 -27.3 L592 -28.2 L595 -29.1 L598 -30.1" stroke-width="1.9" stroke-opacity="1"/></g>
<g clip-path="url(#r2b)" fill="none" stroke="#fff"><path d="M845 37.5 L848 39.3 L851 41.1 L854 43.1 L857 45.1 L860 47.3 L863 49.4 L866 51.6 L869 53.6 L872 55.5 L875 57.3 L878 59.1 L881 60.9 L884 62.5 L887 64.1 L890 65.6 L893 67 L896 68.5 L899 70 L902 71.5 L905 73.1 L908 74.6 L911 76.1 L914 77.4 L917 78.8 L920 80.1 L923 81.3 L926 82.5 L929 83.5 L932 84.5 L935 85.4 L938 86.3 L941 87.1 L944 87.7 L947 88.2 L950 88.5 L953 88.8 L956 89.1 L959 89.3 L962 89.4 L965 89.4 L968 89.3 L971 89 L974 88.6 L977 88.1 L980 87.6 L983 87 L986 86.3 L989 85.3 L992 84.3 L995 83.3 L998 82.2 L1001 81.2 L1004 80 L1007 78.9 L1010 77.6 L1013 76.3 L1016 75 L1019 73.6 L1022 72.1 L1025 70.5 L1028 69 L1031 67.5 L1034 65.9 L1037 64.4 L1040 62.9 L1043 61.4 L1046 59.9 L1049 58.5 L1052 57 L1055 55.5 L1058 54 L1061 52.5 L1064 51 L1067 49.4 L1070 47.5 L1073 45.5 L1076 43.7 L1079 42.2" stroke-width="0.8" stroke-opacity="0.3"/><path d="M845 34.5 L848 36.3 L851 38.1 L854 40.1 L857 42.1 L860 44.3 L863 46.4 L866 48.6 L869 50.6 L872 52.5 L875 54.3 L878 56.1 L881 57.9 L884 59.5 L887 61.1 L890 62.6 L893 64 L896 65.5 L899 67 L902 68.5 L905 70.1 L908 71.6 L911 73.1 L914 74.4 L917 75.8 L920 77.1 L923 78.3 L926 79.5 L929 80.5 L932 81.5 L935 82.4 L938 83.3 L941 84.1 L944 84.7 L947 85.2 L950 85.5 L953 85.8 L956 86.1 L959 86.3 L962 86.4 L965 86.4 L968 86.3 L971 86 L974 85.6 L977 85.1 L980 84.6 L983 84 L986 83.3 L989 82.3 L992 81.3 L995 80.3 L998 79.2 L1001 78.2 L1004 77 L1007 75.9 L1010 74.6 L1013 73.3 L1016 72 L1019 70.6 L1022 69.1 L1025 67.5 L1028 66 L1031 64.5 L1034 62.9 L1037 61.4 L1040 59.9 L1043 58.4 L1046 56.9 L1049 55.5 L1052 54 L1055 52.5 L1058 51 L1061 49.5 L1064 48 L1067 46.4 L1070 44.5 L1073 42.5 L1076 40.7 L1079 39.2" stroke-width="0.9" stroke-opacity="0.35"/><path d="M845 32 L848 33.8 L851 35.6 L854 37.6 L857 39.6 L860 41.8 L863 43.9 L866 46.1 L869 48.1 L872 50 L875 51.8 L878 53.6 L881 55.4 L884 57 L887 58.6 L890 60.1 L893 61.5 L896 63 L899 64.5 L902 66 L905 67.6 L908 69.1 L911 70.6 L914 71.9 L917 73.3 L920 74.6 L923 75.8 L926 77 L929 78 L932 79 L935 79.9 L938 80.8 L941 81.6 L944 82.2 L947 82.7 L950 83 L953 83.3 L956 83.6 L959 83.8 L962 83.9 L965 83.9 L968 83.8 L971 83.5 L974 83.1 L977 82.6 L980 82.1 L983 81.5 L986 80.8 L989 79.8 L992 78.8 L995 77.8 L998 76.7 L1001 75.7 L1004 74.5 L1007 73.4 L1010 72.1 L1013 70.8 L1016 69.5 L1019 68.1 L1022 66.6 L1025 65 L1028 63.5 L1031 62 L1034 60.4 L1037 58.9 L1040 57.4 L1043 55.9 L1046 54.4 L1049 53 L1052 51.5 L1055 50 L1058 48.5 L1061 47 L1064 45.5 L1067 43.9 L1070 42 L1073 40 L1076 38.2 L1079 36.7" stroke-width="1.2" stroke-opacity="0.6"/><path d="M845 29.8 L848 31.6 L851 33.4 L854 35.4 L857 37.4 L860 39.6 L863 41.7 L866 43.9 L869 45.9 L872 47.8 L875 49.6 L878 51.4 L881 53.2 L884 54.8 L887 56.4 L890 57.9 L893 59.3 L896 60.8 L899 62.3 L902 63.8 L905 65.4 L908 66.9 L911 68.4 L914 69.7 L917 71.1 L920 72.4 L923 73.6 L926 74.8 L929 75.8 L932 76.8 L935 77.7 L938 78.6 L941 79.4 L944 80 L947 80.5 L950 80.8 L953 81.1 L956 81.4 L959 81.6 L962 81.7 L965 81.7 L968 81.6 L971 81.3 L974 80.9 L977 80.4 L980 79.9 L983 79.3 L986 78.6 L989 77.6 L992 76.6 L995 75.6 L998 74.5 L1001 73.5 L1004 72.3 L1007 71.2 L1010 69.9 L1013 68.6 L1016 67.3 L1019 65.9 L1022 64.4 L1025 62.8 L1028 61.3 L1031 59.8 L1034 58.2 L1037 56.7 L1040 55.2 L1043 53.7 L1046 52.2 L1049 50.8 L1052 49.3 L1055 47.8 L1058 46.3 L1061 44.8 L1064 43.3 L1067 41.7 L1070 39.8 L1073 37.8 L1076 36 L1079 34.5" stroke-width="2.1" stroke-opacity="1"/><path d="M845 25.3 L848 27.1 L851 28.9 L854 30.9 L857 32.9 L860 35.1 L863 37.2 L866 39.4 L869 41.4 L872 43.3 L875 45.1 L878 46.9 L881 48.7 L884 50.3 L887 51.9 L890 53.4 L893 54.8 L896 56.3 L899 57.8 L902 59.3 L905 60.9 L908 62.4 L911 63.9 L914 65.2 L917 66.6 L920 67.9 L923 69.1 L926 70.3 L929 71.3 L932 72.3 L935 73.2 L938 74.1 L941 74.9 L944 75.5 L947 76 L950 76.3 L953 76.6 L956 76.9 L959 77.1 L962 77.2 L965 77.2 L968 77.1 L971 76.8 L974 76.4 L977 75.9 L980 75.4 L983 74.8 L986 74.1 L989 73.1 L992 72.1 L995 71.1 L998 70 L1001 69 L1004 67.8 L1007 66.7 L1010 65.4 L1013 64.1 L1016 62.8 L1019 61.4 L1022 59.9 L1025 58.3 L1028 56.8 L1031 55.3 L1034 53.7 L1037 52.2 L1040 50.7 L1043 49.2 L1046 47.7 L1049 46.3 L1052 44.8 L1055 43.3 L1058 41.8 L1061 40.3 L1064 38.8 L1067 37.2 L1070 35.3 L1073 33.3 L1076 31.5 L1079 30" stroke-width="2.1" stroke-opacity="1"/><path d="M845 20.8 L848 22.6 L851 24.4 L854 26.4 L857 28.4 L860 30.6 L863 32.7 L866 34.9 L869 36.9 L872 38.8 L875 40.6 L878 42.4 L881 44.2 L884 45.8 L887 47.4 L890 48.9 L893 50.3 L896 51.8 L899 53.3 L902 54.8 L905 56.4 L908 57.9 L911 59.4 L914 60.7 L917 62.1 L920 63.4 L923 64.6 L926 65.8 L929 66.8 L932 67.8 L935 68.7 L938 69.6 L941 70.4 L944 71 L947 71.5 L950 71.8 L953 72.1 L956 72.4 L959 72.6 L962 72.7 L965 72.7 L968 72.6 L971 72.3 L974 71.9 L977 71.4 L980 70.9 L983 70.3 L986 69.6 L989 68.6 L992 67.6 L995 66.6 L998 65.5 L1001 64.5 L1004 63.3 L1007 62.2 L1010 60.9 L1013 59.6 L1016 58.3 L1019 56.9 L1022 55.4 L1025 53.8 L1028 52.3 L1031 50.8 L1034 49.2 L1037 47.7 L1040 46.2 L1043 44.7 L1046 43.2 L1049 41.8 L1052 40.3 L1055 38.8 L1058 37.3 L1061 35.8 L1064 34.3 L1067 32.7 L1070 30.8 L1073 28.8 L1076 27 L1079 25.5" stroke-width="2.1" stroke-opacity="1"/><path d="M845 16.3 L848 18.1 L851 19.9 L854 21.9 L857 23.9 L860 26.1 L863 28.2 L866 30.4 L869 32.4 L872 34.3 L875 36.1 L878 37.9 L881 39.7 L884 41.3 L887 42.9 L890 44.4 L893 45.8 L896 47.3 L899 48.8 L902 50.3 L905 51.9 L908 53.4 L911 54.9 L914 56.2 L917 57.6 L920 58.9 L923 60.1 L926 61.3 L929 62.3 L932 63.3 L935 64.2 L938 65.1 L941 65.9 L944 66.5 L947 67 L950 67.3 L953 67.6 L956 67.9 L959 68.1 L962 68.2 L965 68.2 L968 68.1 L971 67.8 L974 67.4 L977 66.9 L980 66.4 L983 65.8 L986 65.1 L989 64.1 L992 63.1 L995 62.1 L998 61 L1001 60 L1004 58.8 L1007 57.7 L1010 56.4 L1013 55.1 L1016 53.8 L1019 52.4 L1022 50.9 L1025 49.3 L1028 47.8 L1031 46.3 L1034 44.7 L1037 43.2 L1040 41.7 L1043 40.2 L1046 38.7 L1049 37.3 L1052 35.8 L1055 34.3 L1058 32.8 L1061 31.3 L1064 29.8 L1067 28.2 L1070 26.3 L1073 24.3 L1076 22.5 L1079 21" stroke-width="2.1" stroke-opacity="1"/><path d="M845 11.8 L848 13.6 L851 15.4 L854 17.4 L857 19.4 L860 21.6 L863 23.7 L866 25.9 L869 27.9 L872 29.8 L875 31.6 L878 33.4 L881 35.2 L884 36.8 L887 38.4 L890 39.9 L893 41.3 L896 42.8 L899 44.3 L902 45.8 L905 47.4 L908 48.9 L911 50.4 L914 51.7 L917 53.1 L920 54.4 L923 55.6 L926 56.8 L929 57.8 L932 58.8 L935 59.7 L938 60.6 L941 61.4 L944 62 L947 62.5 L950 62.8 L953 63.1 L956 63.4 L959 63.6 L962 63.7 L965 63.7 L968 63.6 L971 63.3 L974 62.9 L977 62.4 L980 61.9 L983 61.3 L986 60.6 L989 59.6 L992 58.6 L995 57.6 L998 56.5 L1001 55.5 L1004 54.3 L1007 53.2 L1010 51.9 L1013 50.6 L1016 49.3 L1019 47.9 L1022 46.4 L1025 44.8 L1028 43.3 L1031 41.8 L1034 40.2 L1037 38.7 L1040 37.2 L1043 35.7 L1046 34.2 L1049 32.8 L1052 31.3 L1055 29.8 L1058 28.3 L1061 26.8 L1064 25.3 L1067 23.7 L1070 21.8 L1073 19.8 L1076 18 L1079 16.5" stroke-width="2.1" stroke-opacity="1"/><path d="M845 7.3 L848 9.1 L851 10.9 L854 12.9 L857 14.9 L860 17.1 L863 19.2 L866 21.4 L869 23.4 L872 25.3 L875 27.1 L878 28.9 L881 30.7 L884 32.3 L887 33.9 L890 35.4 L893 36.8 L896 38.3 L899 39.8 L902 41.3 L905 42.9 L908 44.4 L911 45.9 L914 47.2 L917 48.6 L920 49.9 L923 51.1 L926 52.3 L929 53.3 L932 54.3 L935 55.2 L938 56.1 L941 56.9 L944 57.5 L947 58 L950 58.3 L953 58.6 L956 58.9 L959 59.1 L962 59.2 L965 59.2 L968 59.1 L971 58.8 L974 58.4 L977 57.9 L980 57.4 L983 56.8 L986 56.1 L989 55.1 L992 54.1 L995 53.1 L998 52 L1001 51 L1004 49.8 L1007 48.7 L1010 47.4 L1013 46.1 L1016 44.8 L1019 43.4 L1022 41.9 L1025 40.3 L1028 38.8 L1031 37.3 L1034 35.7 L1037 34.2 L1040 32.7 L1043 31.2 L1046 29.7 L1049 28.3 L1052 26.8 L1055 25.3 L1058 23.8 L1061 22.3 L1064 20.8 L1067 19.2 L1070 17.3 L1073 15.3 L1076 13.5 L1079 12" stroke-width="2.1" stroke-opacity="1"/><path d="M845 2.8 L848 4.6 L851 6.4 L854 8.4 L857 10.4 L860 12.6 L863 14.7 L866 16.9 L869 18.9 L872 20.8 L875 22.6 L878 24.4 L881 26.2 L884 27.8 L887 29.4 L890 30.9 L893 32.3 L896 33.8 L899 35.3 L902 36.8 L905 38.4 L908 39.9 L911 41.4 L914 42.7 L917 44.1 L920 45.4 L923 46.6 L926 47.8 L929 48.8 L932 49.8 L935 50.7 L938 51.6 L941 52.4 L944 53 L947 53.5 L950 53.8 L953 54.1 L956 54.4 L959 54.6 L962 54.7 L965 54.7 L968 54.6 L971 54.3 L974 53.9 L977 53.4 L980 52.9 L983 52.3 L986 51.6 L989 50.6 L992 49.6 L995 48.6 L998 47.5 L1001 46.5 L1004 45.3 L1007 44.2 L1010 42.9 L1013 41.6 L1016 40.3 L1019 38.9 L1022 37.4 L1025 35.8 L1028 34.3 L1031 32.8 L1034 31.2 L1037 29.7 L1040 28.2 L1043 26.7 L1046 25.2 L1049 23.8 L1052 22.3 L1055 20.8 L1058 19.3 L1061 17.8 L1064 16.3 L1067 14.7 L1070 12.8 L1073 10.8 L1076 9 L1079 7.5" stroke-width="2.1" stroke-opacity="1"/><path d="M845 -1.7 L848 0.1 L851 1.9 L854 3.9 L857 5.9 L860 8.1 L863 10.2 L866 12.4 L869 14.4 L872 16.3 L875 18.1 L878 19.9 L881 21.7 L884 23.3 L887 24.9 L890 26.4 L893 27.8 L896 29.3 L899 30.8 L902 32.3 L905 33.9 L908 35.4 L911 36.9 L914 38.2 L917 39.6 L920 40.9 L923 42.1 L926 43.3 L929 44.3 L932 45.3 L935 46.2 L938 47.1 L941 47.9 L944 48.5 L947 49 L950 49.3 L953 49.6 L956 49.9 L959 50.1 L962 50.2 L965 50.2 L968 50.1 L971 49.8 L974 49.4 L977 48.9 L980 48.4 L983 47.8 L986 47.1 L989 46.1 L992 45.1 L995 44.1 L998 43 L1001 42 L1004 40.8 L1007 39.7 L1010 38.4 L1013 37.1 L1016 35.8 L1019 34.4 L1022 32.9 L1025 31.3 L1028 29.8 L1031 28.3 L1034 26.7 L1037 25.2 L1040 23.7 L1043 22.2 L1046 20.7 L1049 19.3 L1052 17.8 L1055 16.3 L1058 14.8 L1061 13.3 L1064 11.8 L1067 10.2 L1070 8.3 L1073 6.3 L1076 4.5 L1079 3" stroke-width="2.1" stroke-opacity="1"/><path d="M845 -6.2 L848 -4.4 L851 -2.6 L854 -0.6 L857 1.4 L860 3.6 L863 5.7 L866 7.9 L869 9.9 L872 11.8 L875 13.6 L878 15.4 L881 17.2 L884 18.8 L887 20.4 L890 21.9 L893 23.3 L896 24.8 L899 26.3 L902 27.8 L905 29.4 L908 30.9 L911 32.4 L914 33.7 L917 35.1 L920 36.4 L923 37.6 L926 38.8 L929 39.8 L932 40.8 L935 41.7 L938 42.6 L941 43.4 L944 44 L947 44.5 L950 44.8 L953 45.1 L956 45.4 L959 45.6 L962 45.7 L965 45.7 L968 45.6 L971 45.3 L974 44.9 L977 44.4 L980 43.9 L983 43.3 L986 42.6 L989 41.6 L992 40.6 L995 39.6 L998 38.5 L1001 37.5 L1004 36.3 L1007 35.2 L1010 33.9 L1013 32.6 L1016 31.3 L1019 29.9 L1022 28.4 L1025 26.8 L1028 25.3 L1031 23.8 L1034 22.2 L1037 20.7 L1040 19.2 L1043 17.7 L1046 16.2 L1049 14.8 L1052 13.3 L1055 11.8 L1058 10.3 L1061 8.8 L1064 7.3 L1067 5.7 L1070 3.8 L1073 1.8 L1076 -0 L1079 -1.5" stroke-width="2.1" stroke-opacity="1"/><path d="M845 -10.7 L848 -8.9 L851 -7.1 L854 -5.1 L857 -3.1 L860 -0.9 L863 1.2 L866 3.4 L869 5.4 L872 7.3 L875 9.1 L878 10.9 L881 12.7 L884 14.3 L887 15.9 L890 17.4 L893 18.8 L896 20.3 L899 21.8 L902 23.3 L905 24.9 L908 26.4 L911 27.9 L914 29.2 L917 30.6 L920 31.9 L923 33.1 L926 34.3 L929 35.3 L932 36.3 L935 37.2 L938 38.1 L941 38.9 L944 39.5 L947 40 L950 40.3 L953 40.6 L956 40.9 L959 41.1 L962 41.2 L965 41.2 L968 41.1 L971 40.8 L974 40.4 L977 39.9 L980 39.4 L983 38.8 L986 38.1 L989 37.1 L992 36.1 L995 35.1 L998 34 L1001 33 L1004 31.8 L1007 30.7 L1010 29.4 L1013 28.1 L1016 26.8 L1019 25.4 L1022 23.9 L1025 22.3 L1028 20.8 L1031 19.3 L1034 17.7 L1037 16.2 L1040 14.7 L1043 13.2 L1046 11.7 L1049 10.3 L1052 8.8 L1055 7.3 L1058 5.8 L1061 4.3 L1064 2.8 L1067 1.2 L1070 -0.7 L1073 -2.7 L1076 -4.5 L1079 -6" stroke-width="2.1" stroke-opacity="1"/><path d="M845 -15.2 L848 -13.4 L851 -11.6 L854 -9.6 L857 -7.6 L860 -5.4 L863 -3.3 L866 -1.1 L869 0.9 L872 2.8 L875 4.6 L878 6.4 L881 8.2 L884 9.8 L887 11.4 L890 12.9 L893 14.3 L896 15.8 L899 17.3 L902 18.8 L905 20.4 L908 21.9 L911 23.4 L914 24.7 L917 26.1 L920 27.4 L923 28.6 L926 29.8 L929 30.8 L932 31.8 L935 32.7 L938 33.6 L941 34.4 L944 35 L947 35.5 L950 35.8 L953 36.1 L956 36.4 L959 36.6 L962 36.7 L965 36.7 L968 36.6 L971 36.3 L974 35.9 L977 35.4 L980 34.9 L983 34.3 L986 33.6 L989 32.6 L992 31.6 L995 30.6 L998 29.5 L1001 28.5 L1004 27.3 L1007 26.2 L1010 24.9 L1013 23.6 L1016 22.3 L1019 20.9 L1022 19.4 L1025 17.8 L1028 16.3 L1031 14.8 L1034 13.2 L1037 11.7 L1040 10.2 L1043 8.7 L1046 7.2 L1049 5.8 L1052 4.3 L1055 2.8 L1058 1.3 L1061 -0.2 L1064 -1.7 L1067 -3.3 L1070 -5.2 L1073 -7.2 L1076 -9 L1079 -10.5" stroke-width="2.1" stroke-opacity="1"/><path d="M845 -19.7 L848 -17.9 L851 -16.1 L854 -14.1 L857 -12.1 L860 -9.9 L863 -7.8 L866 -5.6 L869 -3.6 L872 -1.7 L875 0.1 L878 1.9 L881 3.7 L884 5.3 L887 6.9 L890 8.4 L893 9.8 L896 11.3 L899 12.8 L902 14.3 L905 15.9 L908 17.4 L911 18.9 L914 20.2 L917 21.6 L920 22.9 L923 24.1 L926 25.3 L929 26.3 L932 27.3 L935 28.2 L938 29.1 L941 29.9 L944 30.5 L947 31 L950 31.3 L953 31.6 L956 31.9 L959 32.1 L962 32.2 L965 32.2 L968 32.1 L971 31.8 L974 31.4 L977 30.9 L980 30.4 L983 29.8 L986 29.1 L989 28.1 L992 27.1 L995 26.1 L998 25 L1001 24 L1004 22.8 L1007 21.7 L1010 20.4 L1013 19.1 L1016 17.8 L1019 16.4 L1022 14.9 L1025 13.3 L1028 11.8 L1031 10.3 L1034 8.7 L1037 7.2 L1040 5.7 L1043 4.2 L1046 2.7 L1049 1.3 L1052 -0.2 L1055 -1.7 L1058 -3.2 L1061 -4.7 L1064 -6.2 L1067 -7.8 L1070 -9.7 L1073 -11.7 L1076 -13.5 L1079 -15" stroke-width="2.1" stroke-opacity="1"/><path d="M845 -24.2 L848 -22.4 L851 -20.6 L854 -18.6 L857 -16.6 L860 -14.4 L863 -12.3 L866 -10.1 L869 -8.1 L872 -6.2 L875 -4.4 L878 -2.6 L881 -0.8 L884 0.8 L887 2.4 L890 3.9 L893 5.3 L896 6.8 L899 8.3 L902 9.8 L905 11.4 L908 12.9 L911 14.4 L914 15.7 L917 17.1 L920 18.4 L923 19.6 L926 20.8 L929 21.8 L932 22.8 L935 23.7 L938 24.6 L941 25.4 L944 26 L947 26.5 L950 26.8 L953 27.1 L956 27.4 L959 27.6 L962 27.7 L965 27.7 L968 27.6 L971 27.3 L974 26.9 L977 26.4 L980 25.9 L983 25.3 L986 24.6 L989 23.6 L992 22.6 L995 21.6 L998 20.5 L1001 19.5 L1004 18.3 L1007 17.2 L1010 15.9 L1013 14.6 L1016 13.3 L1019 11.9 L1022 10.4 L1025 8.8 L1028 7.3 L1031 5.8 L1034 4.2 L1037 2.7 L1040 1.2 L1043 -0.3 L1046 -1.8 L1049 -3.2 L1052 -4.7 L1055 -6.2 L1058 -7.7 L1061 -9.2 L1064 -10.7 L1067 -12.3 L1070 -14.2 L1073 -16.2 L1076 -18 L1079 -19.5" stroke-width="2.1" stroke-opacity="1"/><path d="M845 -28.7 L848 -26.9 L851 -25.1 L854 -23.1 L857 -21.1 L860 -18.9 L863 -16.8 L866 -14.6 L869 -12.6 L872 -10.7 L875 -8.9 L878 -7.1 L881 -5.3 L884 -3.7 L887 -2.1 L890 -0.6 L893 0.8 L896 2.3 L899 3.8 L902 5.3 L905 6.9 L908 8.4 L911 9.9 L914 11.2 L917 12.6 L920 13.9 L923 15.1 L926 16.3 L929 17.3 L932 18.3 L935 19.2 L938 20.1 L941 20.9 L944 21.5 L947 22 L950 22.3 L953 22.6 L956 22.9 L959 23.1 L962 23.2 L965 23.2 L968 23.1 L971 22.8 L974 22.4 L977 21.9 L980 21.4 L983 20.8 L986 20.1 L989 19.1 L992 18.1 L995 17.1 L998 16 L1001 15 L1004 13.8 L1007 12.7 L1010 11.4 L1013 10.1 L1016 8.8 L1019 7.4 L1022 5.9 L1025 4.3 L1028 2.8 L1031 1.3 L1034 -0.3 L1037 -1.8 L1040 -3.3 L1043 -4.8 L1046 -6.3 L1049 -7.7 L1052 -9.2 L1055 -10.7 L1058 -12.2 L1061 -13.7 L1064 -15.2 L1067 -16.8 L1070 -18.7 L1073 -20.7 L1076 -22.5 L1079 -24" stroke-width="2.1" stroke-opacity="1"/><path d="M845 -33.2 L848 -31.4 L851 -29.6 L854 -27.6 L857 -25.6 L860 -23.4 L863 -21.3 L866 -19.1 L869 -17.1 L872 -15.2 L875 -13.4 L878 -11.6 L881 -9.8 L884 -8.2 L887 -6.6 L890 -5.1 L893 -3.7 L896 -2.2 L899 -0.7 L902 0.8 L905 2.4 L908 3.9 L911 5.4 L914 6.7 L917 8.1 L920 9.4 L923 10.6 L926 11.8 L929 12.8 L932 13.8 L935 14.7 L938 15.6 L941 16.4 L944 17 L947 17.5 L950 17.8 L953 18.1 L956 18.4 L959 18.6 L962 18.7 L965 18.7 L968 18.6 L971 18.3 L974 17.9 L977 17.4 L980 16.9 L983 16.3 L986 15.6 L989 14.6 L992 13.6 L995 12.6 L998 11.5 L1001 10.5 L1004 9.3 L1007 8.2 L1010 6.9 L1013 5.6 L1016 4.3 L1019 2.9 L1022 1.4 L1025 -0.2 L1028 -1.7 L1031 -3.2 L1034 -4.8 L1037 -6.3 L1040 -7.8 L1043 -9.3 L1046 -10.8 L1049 -12.2 L1052 -13.7 L1055 -15.2 L1058 -16.7 L1061 -18.2 L1064 -19.7 L1067 -21.3 L1070 -23.2 L1073 -25.2 L1076 -27 L1079 -28.5" stroke-width="2.1" stroke-opacity="1"/><path d="M845 -37.7 L848 -35.9 L851 -34.1 L854 -32.1 L857 -30.1 L860 -27.9 L863 -25.8 L866 -23.6 L869 -21.6 L872 -19.7 L875 -17.9 L878 -16.1 L881 -14.3 L884 -12.7 L887 -11.1 L890 -9.6 L893 -8.2 L896 -6.7 L899 -5.2 L902 -3.7 L905 -2.1 L908 -0.6 L911 0.9 L914 2.2 L917 3.6 L920 4.9 L923 6.1 L926 7.3 L929 8.3 L932 9.3 L935 10.2 L938 11.1 L941 11.9 L944 12.5 L947 13 L950 13.3 L953 13.6 L956 13.9 L959 14.1 L962 14.2 L965 14.2 L968 14.1 L971 13.8 L974 13.4 L977 12.9 L980 12.4 L983 11.8 L986 11.1 L989 10.1 L992 9.1 L995 8.1 L998 7 L1001 6 L1004 4.8 L1007 3.7 L1010 2.4 L1013 1.1 L1016 -0.2 L1019 -1.6 L1022 -3.1 L1025 -4.7 L1028 -6.2 L1031 -7.7 L1034 -9.3 L1037 -10.8 L1040 -12.3 L1043 -13.8 L1046 -15.3 L1049 -16.7 L1052 -18.2 L1055 -19.7 L1058 -21.2 L1061 -22.7 L1064 -24.2 L1067 -25.8 L1070 -27.7 L1073 -29.7 L1076 -31.5 L1079 -33" stroke-width="2.1" stroke-opacity="1"/><path d="M845 -42.2 L848 -40.4 L851 -38.6 L854 -36.6 L857 -34.6 L860 -32.4 L863 -30.3 L866 -28.1 L869 -26.1 L872 -24.2 L875 -22.4 L878 -20.6 L881 -18.8 L884 -17.2 L887 -15.6 L890 -14.1 L893 -12.7 L896 -11.2 L899 -9.7 L902 -8.2 L905 -6.6 L908 -5.1 L911 -3.6 L914 -2.3 L917 -0.9 L920 0.4 L923 1.6 L926 2.8 L929 3.8 L932 4.8 L935 5.7 L938 6.6 L941 7.4 L944 8 L947 8.5 L950 8.8 L953 9.1 L956 9.4 L959 9.6 L962 9.7 L965 9.7 L968 9.6 L971 9.3 L974 8.9 L977 8.4 L980 7.9 L983 7.3 L986 6.6 L989 5.6 L992 4.6 L995 3.6 L998 2.5 L1001 1.5 L1004 0.3 L1007 -0.8 L1010 -2.1 L1013 -3.4 L1016 -4.7 L1019 -6.1 L1022 -7.6 L1025 -9.2 L1028 -10.7 L1031 -12.2 L1034 -13.8 L1037 -15.3 L1040 -16.8 L1043 -18.3 L1046 -19.8 L1049 -21.2 L1052 -22.7 L1055 -24.2 L1058 -25.7 L1061 -27.2 L1064 -28.7 L1067 -30.3 L1070 -32.2 L1073 -34.2 L1076 -36 L1079 -37.5" stroke-width="2.1" stroke-opacity="1"/><path d="M845 -46.7 L848 -44.9 L851 -43.1 L854 -41.1 L857 -39.1 L860 -36.9 L863 -34.8 L866 -32.6 L869 -30.6 L872 -28.7 L875 -26.9 L878 -25.1 L881 -23.3 L884 -21.7 L887 -20.1 L890 -18.6 L893 -17.2 L896 -15.7 L899 -14.2 L902 -12.7 L905 -11.1 L908 -9.6 L911 -8.1 L914 -6.8 L917 -5.4 L920 -4.1 L923 -2.9 L926 -1.7 L929 -0.7 L932 0.3 L935 1.2 L938 2.1 L941 2.9 L944 3.5 L947 4 L950 4.3 L953 4.6 L956 4.9 L959 5.1 L962 5.2 L965 5.2 L968 5.1 L971 4.8 L974 4.4 L977 3.9 L980 3.4 L983 2.8 L986 2.1 L989 1.1 L992 0.1 L995 -0.9 L998 -2 L1001 -3 L1004 -4.2 L1007 -5.3 L1010 -6.6 L1013 -7.9 L1016 -9.2 L1019 -10.6 L1022 -12.1 L1025 -13.7 L1028 -15.2 L1031 -16.7 L1034 -18.3 L1037 -19.8 L1040 -21.3 L1043 -22.8 L1046 -24.3 L1049 -25.7 L1052 -27.2 L1055 -28.7 L1058 -30.2 L1061 -31.7 L1064 -33.2 L1067 -34.8 L1070 -36.7 L1073 -38.7 L1076 -40.5 L1079 -42" stroke-width="2.1" stroke-opacity="1"/></g>
<path d="M605 44.5 L608 43.6 L611 42.8 L614 42 L617 41.2 L620 40.4 L623 39.6 L626 38.9 L629 38.1 L632 37.2 L635 36.4 L638 35.4 L641 34.5 L644 33.5 L647 32.5 L650 31.4 L653 30.3 L656 29.2 L659 28 L662 26.8 L665 25.5 L668 24.2 L671 22.8 L674 21.4 L677 20 L680 18.5 L683 17.1 L686 15.5 L689 14 L692 12.5 L695 11 L698 9.5 L701 7.9 L704 6.4 M605 41.5 L608 40.6 L611 39.8 L614 39 L617 38.2 L620 37.4 L623 36.6 L626 35.9 L629 35.1 L632 34.2 L635 33.4 L638 32.4 L641 31.5 L644 30.5 L647 29.5 L650 28.4 L653 27.3 L656 26.2 L659 25 L662 23.8 L665 22.5 L668 21.2 L671 19.8 L674 18.4 L677 17 L680 15.5 L683 14.1 L686 12.5 L689 11 L692 9.5 L695 8 L698 6.5 L701 4.9 M605 38.5 L608 37.6 L611 36.8 L614 36 L617 35.2 L620 34.4 L623 33.6 L626 32.9 L629 32.1 L632 31.2 L635 30.4 L638 29.4 L641 28.5 L644 27.5 L647 26.5 L650 25.4 L653 24.3 L656 23.2 L659 22 L662 20.8 L665 19.5 L668 18.2 L671 16.8 L674 15.4 L677 14 L680 12.5 L683 11.1 L686 9.5 L689 8 L692 6.5 L695 5 M605 35.5 L608 34.6 L611 33.8 L614 33 L617 32.2 L620 31.4 L623 30.6 L626 29.9 L629 29.1 L632 28.2 L635 27.4 L638 26.4 L641 25.5 L644 24.5 L647 23.5 L650 22.4 L653 21.3 L656 20.2 L659 19 L662 17.8 L665 16.5 L668 15.2 L671 13.8 L674 12.4 L677 11 L680 9.5 L683 8.1 L686 6.5 L689 5" fill="none" stroke="#fff" stroke-width="0.9" stroke-opacity="0.45"/>
<defs><pattern id="lA" width="20" height="9.2" patternUnits="userSpaceOnUse" patternTransform="rotate(6.8)"><g fill="#fff" fill-opacity="1.0"><ellipse cx="10.0" cy="2.3" rx="7.2" ry="1.25"/><ellipse cx="0" cy="6.8999999999999995" rx="7.2" ry="1.25"/><ellipse cx="20" cy="6.8999999999999995" rx="7.2" ry="1.25"/></g></pattern><pattern id="lB" width="20" height="9.2" patternUnits="userSpaceOnUse" patternTransform="rotate(-11.3)"><g fill="#fff" fill-opacity="1.0"><ellipse cx="10.0" cy="2.3" rx="7.2" ry="1.25"/><ellipse cx="0" cy="6.8999999999999995" rx="7.2" ry="1.25"/><ellipse cx="20" cy="6.8999999999999995" rx="7.2" ry="1.25"/></g></pattern><pattern id="lBf" width="20" height="9.2" patternUnits="userSpaceOnUse" patternTransform="rotate(-16)"><g fill="#fff" fill-opacity="0.6"><ellipse cx="10.0" cy="2.3" rx="5" ry="1.0"/><ellipse cx="0" cy="6.8999999999999995" rx="5" ry="1.0"/><ellipse cx="20" cy="6.8999999999999995" rx="5" ry="1.0"/></g></pattern><pattern id="lC" width="20" height="9.2" patternUnits="userSpaceOnUse" patternTransform="rotate(8.5)"><g fill="#fff" fill-opacity="1.0"><ellipse cx="10.0" cy="2.3" rx="7.2" ry="1.25"/><ellipse cx="0" cy="6.8999999999999995" rx="7.2" ry="1.25"/><ellipse cx="20" cy="6.8999999999999995" rx="7.2" ry="1.25"/></g></pattern><pattern id="lD" width="20" height="9.2" patternUnits="userSpaceOnUse" patternTransform="rotate(-8.5)"><g fill="#fff" fill-opacity="1.0"><ellipse cx="10.0" cy="2.3" rx="7.2" ry="1.25"/><ellipse cx="0" cy="6.8999999999999995" rx="7.2" ry="1.25"/><ellipse cx="20" cy="6.8999999999999995" rx="7.2" ry="1.25"/></g></pattern><pattern id="lCf" width="20" height="9.2" patternUnits="userSpaceOnUse" patternTransform="rotate(14)"><g fill="#fff" fill-opacity="0.6"><ellipse cx="10.0" cy="2.3" rx="5" ry="1.0"/><ellipse cx="0" cy="6.8999999999999995" rx="5" ry="1.0"/><ellipse cx="20" cy="6.8999999999999995" rx="5" ry="1.0"/></g></pattern></defs>
<clipPath id="xl1"><rect x="0" y="0" width="560" height="200"/></clipPath><clipPath id="xr1"><rect x="560" y="0" width="300" height="200"/></clipPath>
<clipPath id="xl2"><rect x="700" y="0" width="220" height="200"/></clipPath><clipPath id="xr2"><rect x="920" y="0" width="300" height="200"/></clipPath>
<g clip-path="url(#xl1)"><path d="M437 2 L656 2 L545 57.5 L530 46 L515 40 L490 28 L468 16 L450 6Z" fill="url(#lA)"/></g>
<g clip-path="url(#xr1)"><path d="M437 2 L656 2 L545 57.5 L530 46 L515 40 L490 28 L468 16 L450 6Z" fill="url(#lB)"/></g>
<path d="M656 2 L700 2 L600 55 L575 58 L545 57.5Z" fill="url(#lBf)"/>
<g clip-path="url(#xl2)"><path d="M848 2 L1006 2 L1002 11 L993 19 L965 28 L928 35 L892 33 L873 30Z" fill="url(#lC)"/></g>
<g clip-path="url(#xr2)"><path d="M848 2 L1006 2 L1002 11 L993 19 L965 28 L928 35 L892 33 L873 30Z" fill="url(#lD)"/></g>
<path d="M812 2 L848 2 L873 30 L855 26 L832 13Z" fill="url(#lCf)"/>
<path d="M398 700 L400 698.9 L402 697.9 L404 696.9 L406 695.9 L408 695.1 L410 694.2 L412 693.4 L414 692.5 L416 691.7 L418 690.9 L420 690 L422 689.1 L424 688.2 L426 687.3 L428 686.4 L430 685.5 L432 684.7 L434 683.8 L436 682.9 L438 682 L440 681.2 L442 680.3 L444 679.5 L446 678.6 L448 677.8 L450 677 L452 676.2 L454 675.4 L456 674.6 L458 673.9 L460 673.2 L462 672.5 L464 671.9 L466 671.2 L468 670.6 L470 670 L472 669.5 L474 669 L476 668.5 L478 668.1 L480 667.6 L482 667.2 L484 666.8 L486 666.5 L488 666.2 L490 665.9 L492 665.7 L494 665.5 L496 665.3 L498 665.1 L500 665 L502 664.8 L504 664.7 L506 664.6 L508 664.6 L510 664.6 L512 664.7 L514 664.7 L516 664.9 L518 665 L520 665.2 L522 665.4 L524 665.6 L526 665.8 L528 666 L530 666.4 L532 666.8 L534 667.4 L536 667.9 L538 668.5 L540 669.2 L542 669.8 L544 670.5 L546 671.3 L548 672.2 L550 673.1 L552 674 L554 674.9 L556 675.9 L558 676.9 L560 677.9 L562 679 L564 680 L566 681 L568 681.9 L570 682.9 L572 683.9 L574 684.9 L576 686 L578 687.1 L580 688.3 L582 689.4 L584 690.6 L586 691.8 L588 693 L590 694.3 L592 695.6 L594 696.9 L596 698.2 L598 699.6 L600 701 L600 707.5 L598 706.1 L596 704.7 L594 703.4 L592 702.1 L590 700.8 L588 699.5 L586 698.3 L584 697.1 L582 695.9 L580 694.8 L578 693.6 L576 692.5 L574 691.4 L572 690.4 L570 689.4 L568 688.4 L566 687.5 L564 686.5 L562 685.5 L560 684.4 L558 683.4 L556 682.4 L554 681.4 L552 680.5 L550 679.6 L548 678.7 L546 677.8 L544 677 L542 676.3 L540 675.7 L538 675 L536 674.4 L534 673.9 L532 673.3 L530 672.9 L528 672.5 L526 672.3 L524 672.1 L522 671.9 L520 671.7 L518 671.5 L516 671.4 L514 671.2 L512 671.2 L510 671.1 L508 671.1 L506 671.1 L504 671.2 L502 671.3 L500 671.5 L498 671.6 L496 671.8 L494 672 L492 672.2 L490 672.4 L488 672.7 L486 673 L484 673.3 L482 673.7 L480 674.1 L478 674.6 L476 675 L474 675.5 L472 676 L470 676.5 L468 677.1 L466 677.7 L464 678.4 L462 679 L460 679.7 L458 680.4 L456 681.1 L454 681.9 L452 682.7 L450 683.5 L448 684.3 L446 685.1 L444 686 L442 686.8 L440 687.7 L438 688.5 L436 689.4 L434 690.3 L432 691.2 L430 692 L428 692.9 L426 693.8 L424 694.7 L422 695.6 L420 696.5 L418 697.4 L416 698.2 L414 699 L412 699.9 L410 700.7 L408 701.6 L406 702.4 L404 703.4 L402 704.4 L400 705.4 L398 706.5Z" fill="#3854a9"/>
<path d="M398 708.7 L400 707.6 L402 706.6 L404 705.6 L406 704.6 L408 703.8 L410 702.9 L412 702.1 L414 701.2 L416 700.4 L418 699.6 L420 698.7 L422 697.8 L424 696.9 L426 696 L428 695.1 L430 694.2 L432 693.4 L434 692.5 L436 691.6 L438 690.7 L440 689.9 L442 689 L444 688.2 L446 687.3 L448 686.5 L450 685.7 L452 684.9 L454 684.1 L456 683.3 L458 682.6 L460 681.9 L462 681.2 L464 680.6 L466 679.9 L468 679.3 L470 678.7 L472 678.2 L474 677.7 L476 677.2 L478 676.8 L480 676.3 L482 675.9 L484 675.5 L486 675.2 L488 674.9 L490 674.6 L492 674.4 L494 674.2 L496 674 L498 673.8 L500 673.7 L502 673.5 L504 673.4 L506 673.3 L508 673.3 L510 673.3 L512 673.4 L514 673.4 L516 673.6 L518 673.7 L520 673.9 L522 674.1 L524 674.3 L526 674.5 L528 674.7 L530 675.1 L532 675.5 L534 676.1 L536 676.6 L538 677.2 L540 677.9 L542 678.5 L544 679.2 L546 680 L548 680.9 L550 681.8 L552 682.7 L554 683.6 L556 684.6 L558 685.6 L560 686.6 L562 687.7 L564 688.7 L566 689.7 L568 690.6 L570 691.6 L572 692.6 L574 693.6 L576 694.7 L578 695.8 L580 697 L582 698.1 L584 699.3 L586 700.5 L588 701.7 L590 703 L592 704.3 L594 705.6 L596 706.9 L598 708.3 L600 709.7 M398 711.8 L400 710.7 L402 709.6 L404 708.6 L406 707.7 L408 706.8 L410 705.9 L412 705.1 L414 704.3 L416 703.4 L418 702.6 L420 701.8 L422 700.9 L424 700 L426 699.1 L428 698.2 L430 697.3 L432 696.4 L434 695.5 L436 694.7 L438 693.8 L440 692.9 L442 692.1 L444 691.2 L446 690.4 L448 689.6 L450 688.8 L452 688 L454 687.2 L456 686.4 L458 685.6 L460 684.9 L462 684.2 L464 683.6 L466 683 L468 682.4 L470 681.8 L472 681.2 L474 680.7 L476 680.2 L478 679.8 L480 679.4 L482 679 L484 678.6 L486 678.2 L488 677.9 L490 677.7 L492 677.5 L494 677.3 L496 677.1 L498 676.9 L500 676.7 L502 676.6 L504 676.5 L506 676.4 L508 676.4 L510 676.4 L512 676.4 L514 676.5 L516 676.6 L518 676.8 L520 676.9 L522 677.1 L524 677.3 L526 677.5 L528 677.8 L530 678.1 L532 678.6 L534 679.1 L536 679.7 L538 680.3 L540 680.9 L542 681.6 L544 682.3 L546 683.1 L548 683.9 L550 684.8 L552 685.7 L554 686.7 L556 687.6 L558 688.6 L560 689.7 L562 690.7 L564 691.7 L566 692.7 L568 693.7 L570 694.6 L572 695.6 L574 696.7 L576 697.8 L578 698.9 L580 700 L582 701.2 L584 702.3 L586 703.5 L588 704.8 L590 706 L592 707.3 L594 708.6 L596 710 L598 711.3 L600 712.8 M398 714.8 L400 713.7 L402 712.7 L404 711.7 L406 710.7 L408 709.9 L410 709 L412 708.2 L414 707.3 L416 706.5 L418 705.7 L420 704.8 L422 703.9 L424 703 L426 702.1 L428 701.2 L430 700.3 L432 699.5 L434 698.6 L436 697.7 L438 696.8 L440 696 L442 695.1 L444 694.3 L446 693.4 L448 692.6 L450 691.8 L452 691 L454 690.2 L456 689.4 L458 688.7 L460 688 L462 687.3 L464 686.7 L466 686 L468 685.4 L470 684.8 L472 684.3 L474 683.8 L476 683.3 L478 682.9 L480 682.4 L482 682 L484 681.6 L486 681.3 L488 681 L490 680.7 L492 680.5 L494 680.3 L496 680.1 L498 679.9 L500 679.8 L502 679.6 L504 679.5 L506 679.4 L508 679.4 L510 679.4 L512 679.5 L514 679.5 L516 679.7 L518 679.8 L520 680 L522 680.2 L524 680.4 L526 680.6 L528 680.8 L530 681.2 L532 681.6 L534 682.2 L536 682.7 L538 683.3 L540 684 L542 684.6 L544 685.3 L546 686.1 L548 687 L550 687.9 L552 688.8 L554 689.7 L556 690.7 L558 691.7 L560 692.7 L562 693.8 L564 694.8 L566 695.8 L568 696.7 L570 697.7 L572 698.7 L574 699.7 L576 700.8 L578 701.9 L580 703.1 L582 704.2 L584 705.4 L586 706.6 L588 707.8 L590 709.1 L592 710.4 L594 711.7 L596 713 L598 714.4 L600 715.8 M398 717.9 L400 716.8 L402 715.7 L404 714.7 L406 713.8 L408 712.9 L410 712 L412 711.2 L414 710.4 L416 709.5 L418 708.7 L420 707.9 L422 707 L424 706.1 L426 705.2 L428 704.3 L430 703.4 L432 702.5 L434 701.6 L436 700.8 L438 699.9 L440 699 L442 698.2 L444 697.3 L446 696.5 L448 695.7 L450 694.9 L452 694.1 L454 693.3 L456 692.5 L458 691.7 L460 691 L462 690.3 L464 689.7 L466 689.1 L468 688.5 L470 687.9 L472 687.3 L474 686.8 L476 686.4 L478 685.9 L480 685.5 L482 685.1 L484 684.7 L486 684.3 L488 684 L490 683.8 L492 683.6 L494 683.4 L496 683.2 L498 683 L500 682.8 L502 682.7 L504 682.6 L506 682.5 L508 682.5 L510 682.5 L512 682.5 L514 682.6 L516 682.7 L518 682.9 L520 683 L522 683.2 L524 683.4 L526 683.6 L528 683.9 L530 684.2 L532 684.7 L534 685.2 L536 685.8 L538 686.4 L540 687 L542 687.7 L544 688.4 L546 689.2 L548 690 L550 690.9 L552 691.8 L554 692.8 L556 693.7 L558 694.7 L560 695.8 L562 696.8 L564 697.8 L566 698.8 L568 699.8 L570 700.7 L572 701.7 L574 702.8 L576 703.9 L578 705 L580 706.1 L582 707.3 L584 708.4 L586 709.6 L588 710.9 L590 712.1 L592 713.4 L594 714.7 L596 716.1 L598 717.4 L600 718.9 M398 720.9 L400 719.8 L402 718.8 L404 717.8 L406 716.8 L408 716 L410 715.1 L412 714.3 L414 713.4 L416 712.6 L418 711.8 L420 710.9 L422 710 L424 709.1 L426 708.2 L428 707.3 L430 706.4 L432 705.6 L434 704.7 L436 703.8 L438 702.9 L440 702.1 L442 701.2 L444 700.4 L446 699.5 L448 698.7 L450 697.9 L452 697.1 L454 696.3 L456 695.5 L458 694.8 L460 694.1 L462 693.4 L464 692.8 L466 692.1 L468 691.5 L470 690.9 L472 690.4 L474 689.9 L476 689.4 L478 689 L480 688.5 L482 688.1 L484 687.7 L486 687.4 L488 687.1 L490 686.8 L492 686.6 L494 686.4 L496 686.2 L498 686 L500 685.9 L502 685.7 L504 685.6 L506 685.5 L508 685.5 L510 685.5 L512 685.6 L514 685.6 L516 685.8 L518 685.9 L520 686.1 L522 686.3 L524 686.5 L526 686.7 L528 686.9 L530 687.3 L532 687.7 L534 688.3 L536 688.8 L538 689.4 L540 690.1 L542 690.7 L544 691.4 L546 692.2 L548 693.1 L550 694 L552 694.9 L554 695.8 L556 696.8 L558 697.8 L560 698.8 L562 699.9 L564 700.9 L566 701.9 L568 702.8 L570 703.8 L572 704.8 L574 705.8 L576 706.9 L578 708 L580 709.2 L582 710.3 L584 711.5 L586 712.7 L588 713.9 L590 715.2 L592 716.5 L594 717.8 L596 719.1 L598 720.5 L600 721.9 M398 724 L400 722.9 L402 721.8 L404 720.8 L406 719.9 L408 719 L410 718.1 L412 717.3 L414 716.5 L416 715.6 L418 714.8 L420 714 L422 713.1 L424 712.2 L426 711.3 L428 710.4 L430 709.5 L432 708.6 L434 707.7 L436 706.9 L438 706 L440 705.1 L442 704.3 L444 703.4 L446 702.6 L448 701.8 L450 701 L452 700.2 L454 699.4 L456 698.6 L458 697.8 L460 697.1 L462 696.4 L464 695.8 L466 695.2 L468 694.6 L470 694 L472 693.4 L474 692.9 L476 692.5 L478 692 L480 691.6 L482 691.2 L484 690.8 L486 690.4 L488 690.1 L490 689.9 L492 689.7 L494 689.5 L496 689.3 L498 689.1 L500 688.9 L502 688.8 L504 688.7 L506 688.6 L508 688.6 L510 688.6 L512 688.6 L514 688.7 L516 688.8 L518 689 L520 689.1 L522 689.3 L524 689.5 L526 689.7 L528 690 L530 690.3 L532 690.8 L534 691.3 L536 691.9 L538 692.5 L540 693.1 L542 693.8 L544 694.5 L546 695.3 L548 696.1 L550 697 L552 697.9 L554 698.9 L556 699.8 L558 700.8 L560 701.9 L562 702.9 L564 703.9 L566 704.9 L568 705.9 L570 706.8 L572 707.8 L574 708.9 L576 710 L578 711.1 L580 712.2 L582 713.4 L584 714.5 L586 715.7 L588 717 L590 718.2 L592 719.5 L594 720.8 L596 722.2 L598 723.5 L600 725 M398 727 L400 725.9 L402 724.9 L404 723.9 L406 722.9 L408 722.1 L410 721.2 L412 720.4 L414 719.5 L416 718.7 L418 717.9 L420 717 L422 716.1 L424 715.2 L426 714.3 L428 713.4 L430 712.5 L432 711.7 L434 710.8 L436 709.9 L438 709 L440 708.2 L442 707.3 L444 706.5 L446 705.6 L448 704.8 L450 704 L452 703.2 L454 702.4 L456 701.6 L458 700.9 L460 700.2 L462 699.5 L464 698.9 L466 698.2 L468 697.6 L470 697 L472 696.5 L474 696 L476 695.5 L478 695.1 L480 694.6 L482 694.2 L484 693.8 L486 693.5 L488 693.2 L490 692.9 L492 692.7 L494 692.5 L496 692.3 L498 692.1 L500 692 L502 691.8 L504 691.7 L506 691.6 L508 691.6 L510 691.6 L512 691.7 L514 691.7 L516 691.9 L518 692 L520 692.2 L522 692.4 L524 692.6 L526 692.8 L528 693 L530 693.4 L532 693.8 L534 694.4 L536 694.9 L538 695.5 L540 696.2 L542 696.8 L544 697.5 L546 698.3 L548 699.2 L550 700.1 L552 701 L554 701.9 L556 702.9 L558 703.9 L560 704.9 L562 706 L564 707 L566 708 L568 708.9 L570 709.9 L572 710.9 L574 711.9 L576 713 L578 714.1 L580 715.3 L582 716.4 L584 717.6 L586 718.8 L588 720 L590 721.3 L592 722.6 L594 723.9 L596 725.2 L598 726.6 L600 728 M398 730 L400 729 L402 727.9 L404 726.9 L406 726 L408 725.1 L410 724.2 L412 723.4 L414 722.6 L416 721.7 L418 720.9 L420 720 L422 719.2 L424 718.3 L426 717.4 L428 716.5 L430 715.6 L432 714.7 L434 713.8 L436 713 L438 712.1 L440 711.2 L442 710.4 L444 709.5 L446 708.7 L448 707.9 L450 707 L452 706.3 L454 705.5 L456 704.7 L458 703.9 L460 703.2 L462 702.5 L464 701.9 L466 701.3 L468 700.7 L470 700.1 L472 699.5 L474 699 L476 698.5 L478 698.1 L480 697.7 L482 697.3 L484 696.9 L486 696.5 L488 696.2 L490 696 L492 695.8 L494 695.6 L496 695.4 L498 695.2 L500 695 L502 694.9 L504 694.8 L506 694.7 L508 694.7 L510 694.7 L512 694.7 L514 694.8 L516 694.9 L518 695.1 L520 695.2 L522 695.4 L524 695.6 L526 695.8 L528 696.1 L530 696.4 L532 696.9 L534 697.4 L536 698 L538 698.6 L540 699.2 L542 699.9 L544 700.6 L546 701.4 L548 702.2 L550 703.1 L552 704 L554 705 L556 705.9 L558 706.9 L560 708 L562 709 L564 710 L566 711 L568 712 L570 712.9 L572 713.9 L574 715 L576 716.1 L578 717.2 L580 718.3 L582 719.5 L584 720.6 L586 721.8 L588 723.1 L590 724.3 L592 725.6 L594 726.9 L596 728.3 L598 729.6 L600 731 M398 733.1 L400 732 L402 731 L404 730 L406 729 L408 728.2 L410 727.3 L412 726.5 L414 725.6 L416 724.8 L418 724 L420 723.1 L422 722.2 L424 721.3 L426 720.4 L428 719.5 L430 718.6 L432 717.8 L434 716.9 L436 716 L438 715.1 L440 714.3 L442 713.4 L444 712.6 L446 711.7 L448 710.9 L450 710.1 L452 709.3 L454 708.5 L456 707.7 L458 707 L460 706.3 L462 705.6 L464 705 L466 704.3 L468 703.7 L470 703.1 L472 702.6 L474 702.1 L476 701.6 L478 701.2 L480 700.7 L482 700.3 L484 699.9 L486 699.6 L488 699.3 L490 699 L492 698.8 L494 698.6 L496 698.4 L498 698.2 L500 698.1 L502 697.9 L504 697.8 L506 697.7 L508 697.7 L510 697.7 L512 697.8 L514 697.8 L516 698 L518 698.1 L520 698.3 L522 698.5 L524 698.7 L526 698.9 L528 699.1 L530 699.5 L532 699.9 L534 700.5 L536 701 L538 701.6 L540 702.3 L542 702.9 L544 703.6 L546 704.4 L548 705.3 L550 706.2 L552 707.1 L554 708 L556 709 L558 710 L560 711 L562 712.1 L564 713.1 L566 714.1 L568 715 L570 716 L572 717 L574 718 L576 719.1 L578 720.2 L580 721.4 L582 722.5 L584 723.7 L586 724.9 L588 726.1 L590 727.4 L592 728.7 L594 730 L596 731.3 L598 732.7 L600 734.1" fill="none" stroke="#3854a9" stroke-width="1.6"/>
<path d="M826 710 L828 707.3 L830 704.7 L832 702.1 L834 699.5 L836 696.9 L838 694.4 L840 691.9 L842 689.4 L844 687 L846 684.5 L848 682.2 L850 679.8 L852 677.5 L854 675.2 L856 672.9 L858 670.7 L860 668.5 L862 666.5 L864 664.6 L866 662.8 L868 661.1 L870 659.4 L872 657.8 L874 656.2 L876 654.6 L878 653.1 L880 651.6 L882 650.1 L884 648.7 L886 647.3 L888 645.9 L890 644.6 L892 643.3 L894 642.1 L896 640.9 L898 639.9 L900 638.9 L902 637.9 L904 636.9 L906 635.9 L908 634.9 L910 633.9 L912 632.9 L914 632 L916 631 L918 630.1 L920 629.1 L922 628.2 L924 627.3 L926 626.5 L928 625.8 L930 625.2 L932 624.6 L934 624 L936 623.5 L938 623 L940 622.5 L942 622 L944 621.6 L946 621.1 L948 620.8 L950 620.5 L952 620.2 L954 619.9 L956 619.7 L958 619.6 L960 619.5 L962 619.4 L964 619.3 L966 619.2 L968 619.2 L970 619.2 L972 619.2 L974 619.3 L976 619.4 L978 619.6 L980 619.7 L982 619.9 L984 620.2 L986 620.6 L988 621 L990 621.5 L992 622 L994 622.6 L996 623.4 L998 624.2 L1000 625 L1002 625.8 L1004 626.6 L1006 627.3 L1008 627.9 L1010 628.6 L1012 629.3 L1014 630 L1016 630.7 L1018 631.5 L1020 632.3 L1022 633.2 L1024 634.1 L1026 635.1 L1028 636 L1030 637 L1032 637.9 L1034 638.9 L1036 639.9 L1038 640.9 L1040 642 L1042 643 L1044 644.2 L1046 645.3 L1048 646.5 L1050 647.6 L1052 648.8 L1054 649.9 L1056 651 L1058 652 L1060 653.1 L1062 654.1 L1064 655.2 L1066 656.3 L1068 657.3 L1070 658.4 L1072 659.5 L1074 660.5 L1076 661.6 L1078 662.7 L1080 663.8 L1082 664.8 L1084 665.9 L1086 667 L1088 668.1 L1090 669.2 L1092 670.4 L1094 671.5 L1096 672.6 L1098 673.8 L1100 675 L1100 679.6 L1098 678.5 L1096 677.4 L1094 676.3 L1092 675.3 L1090 674.2 L1088 673.2 L1086 672.2 L1084 671.2 L1082 670.1 L1080 669.1 L1078 668.1 L1076 667.1 L1074 666.1 L1072 665.1 L1070 664.1 L1068 663.1 L1066 662.2 L1064 661.2 L1062 660.2 L1060 659.2 L1058 658.2 L1056 657.2 L1054 656.2 L1052 655.2 L1050 654.1 L1048 653.1 L1046 652 L1044 650.9 L1042 649.9 L1040 648.9 L1038 647.9 L1036 646.9 L1034 646 L1032 645.1 L1030 644.2 L1028 643.3 L1026 642.4 L1024 641.5 L1022 640.7 L1020 639.9 L1018 639.1 L1016 638.4 L1014 637.7 L1012 637.1 L1010 636.4 L1008 635.8 L1006 635.2 L1004 634.5 L1002 633.9 L1000 633.1 L998 632.3 L996 631.6 L994 630.9 L992 630.3 L990 629.8 L988 629.4 L986 629 L984 628.6 L982 628.4 L980 628.2 L978 628 L976 627.9 L974 627.8 L972 627.7 L970 627.7 L968 627.7 L966 627.7 L964 627.8 L962 627.9 L960 627.9 L958 628 L956 628.2 L954 628.4 L952 628.6 L950 628.9 L948 629.2 L946 629.5 L944 629.9 L942 630.3 L940 630.8 L938 631.2 L936 631.7 L934 632.2 L932 632.7 L930 633.2 L928 633.8 L926 634.5 L924 635.2 L922 636 L920 636.9 L918 637.8 L916 638.7 L914 639.6 L912 640.5 L910 641.4 L908 642.3 L906 643.3 L904 644.2 L902 645.1 L900 646 L898 646.9 L896 647.9 L894 649 L892 650.1 L890 651.3 L888 652.6 L886 653.8 L884 655.1 L882 656.5 L880 657.8 L878 659.2 L876 660.6 L874 662.1 L872 663.6 L870 665.1 L868 666.6 L866 668.2 L864 669.9 L862 671.7 L860 673.5 L858 675.5 L856 677.6 L854 679.7 L852 681.9 L850 684.1 L848 686.2 L846 688.4 L844 690.7 L842 693 L840 695.3 L838 697.6 L836 700 L834 702.3 L832 704.7 L830 707.2 L828 709.6 L826 712.1Z" fill="#3854a9"/>
<path d="M826 712.7 L828 710.3 L830 707.9 L832 705.5 L834 703.2 L836 700.8 L838 698.6 L840 696.3 L842 694 L844 691.8 L846 689.6 L848 687.4 L850 685.3 L852 683.2 L854 681.1 L856 679 L858 677 L860 675 L862 673.2 L864 671.4 L866 669.8 L868 668.3 L870 666.8 L872 665.3 L874 663.8 L876 662.4 L878 661 L880 659.6 L882 658.3 L884 657 L886 655.8 L888 654.5 L890 653.3 L892 652.1 L894 651 L896 650 L898 649 L900 648.1 L902 647.2 L904 646.3 L906 645.4 L908 644.5 L910 643.6 L912 642.7 L914 641.8 L916 640.9 L918 640.1 L920 639.2 L922 638.4 L924 637.6 L926 636.8 L928 636.2 L930 635.6 L932 635.1 L934 634.6 L936 634.1 L938 633.7 L940 633.2 L942 632.8 L944 632.3 L946 632 L948 631.6 L950 631.4 L952 631.1 L954 630.9 L956 630.7 L958 630.5 L960 630.4 L962 630.4 L964 630.3 L966 630.2 L968 630.2 L970 630.2 L972 630.2 L974 630.3 L976 630.4 L978 630.5 L980 630.7 L982 630.8 L984 631.1 L986 631.4 L988 631.8 L990 632.3 L992 632.8 L994 633.3 L996 634 L998 634.7 L1000 635.5 L1002 636.2 L1004 636.9 L1006 637.5 L1008 638.1 L1010 638.8 L1012 639.4 L1014 640 L1016 640.6 L1018 641.3 L1020 642.1 L1022 642.9 L1024 643.7 L1026 644.6 L1028 645.5 L1030 646.4 L1032 647.2 L1034 648.1 L1036 649 L1038 649.9 L1040 650.9 L1042 651.9 L1044 652.9 L1046 653.9 L1048 655 L1050 656 L1052 657.1 L1054 658.1 L1056 659.1 L1058 660 L1060 661 L1062 662 L1064 662.9 L1066 663.9 L1068 664.9 L1070 665.8 L1072 666.8 L1074 667.8 L1076 668.7 L1078 669.7 L1080 670.7 L1082 671.7 L1084 672.7 L1086 673.7 L1088 674.7 L1090 675.7 L1092 676.7 L1094 677.7 L1096 678.8 L1098 679.8 L1100 680.9 M826 713.9 L828 711.6 L830 709.3 L832 707 L834 704.8 L836 702.6 L838 700.4 L840 698.2 L842 696 L844 693.9 L846 691.8 L848 689.7 L850 687.7 L852 685.7 L854 683.6 L856 681.7 L858 679.7 L860 677.9 L862 676.1 L864 674.4 L866 672.9 L868 671.4 L870 670 L872 668.6 L874 667.2 L876 665.8 L878 664.5 L880 663.2 L882 661.9 L884 660.7 L886 659.4 L888 658.2 L890 657.1 L892 656 L894 654.9 L896 653.9 L898 653 L900 652.1 L902 651.3 L904 650.4 L906 649.6 L908 648.7 L910 647.8 L912 646.9 L914 646.1 L916 645.3 L918 644.4 L920 643.6 L922 642.8 L924 642 L926 641.3 L928 640.7 L930 640.2 L932 639.7 L934 639.2 L936 638.7 L938 638.3 L940 637.9 L942 637.4 L944 637 L946 636.7 L948 636.4 L950 636.1 L952 635.9 L954 635.6 L956 635.4 L958 635.3 L960 635.2 L962 635.2 L964 635.1 L966 635 L968 635 L970 635 L972 635 L974 635.1 L976 635.2 L978 635.3 L980 635.4 L982 635.6 L984 635.9 L986 636.2 L988 636.6 L990 637 L992 637.5 L994 638 L996 638.6 L998 639.3 L1000 640.1 L1002 640.8 L1004 641.4 L1006 642 L1008 642.6 L1010 643.2 L1012 643.8 L1014 644.4 L1016 645 L1018 645.7 L1020 646.4 L1022 647.1 L1024 647.9 L1026 648.8 L1028 649.6 L1030 650.5 L1032 651.3 L1034 652.1 L1036 653 L1038 653.9 L1040 654.8 L1042 655.7 L1044 656.7 L1046 657.7 L1048 658.7 L1050 659.7 L1052 660.7 L1054 661.7 L1056 662.6 L1058 663.5 L1060 664.5 L1062 665.4 L1064 666.3 L1066 667.2 L1068 668.1 L1070 669.1 L1072 670 L1074 670.9 L1076 671.9 L1078 672.8 L1080 673.7 L1082 674.7 L1084 675.6 L1086 676.6 L1088 677.5 L1090 678.5 L1092 679.5 L1094 680.4 L1096 681.4 L1098 682.5 L1100 683.5 M826 715.1 L828 712.9 L830 710.7 L832 708.5 L834 706.4 L836 704.3 L838 702.2 L840 700.1 L842 698 L844 696 L846 694 L848 692 L850 690.1 L852 688.2 L854 686.2 L856 684.3 L858 682.5 L860 680.7 L862 679 L864 677.4 L866 675.9 L868 674.5 L870 673.2 L872 671.8 L874 670.5 L876 669.2 L878 667.9 L880 666.7 L882 665.5 L884 664.3 L886 663.1 L888 662 L890 660.9 L892 659.8 L894 658.8 L896 657.8 L898 657 L900 656.1 L902 655.3 L904 654.5 L906 653.7 L908 652.9 L910 652 L912 651.2 L914 650.4 L916 649.6 L918 648.8 L920 648 L922 647.2 L924 646.5 L926 645.9 L928 645.3 L930 644.7 L932 644.3 L934 643.8 L936 643.4 L938 643 L940 642.5 L942 642.1 L944 641.8 L946 641.4 L948 641.1 L950 640.9 L952 640.6 L954 640.4 L956 640.2 L958 640.1 L960 640 L962 639.9 L964 639.9 L966 639.8 L968 639.8 L970 639.8 L972 639.8 L974 639.9 L976 640 L978 640.1 L980 640.2 L982 640.4 L984 640.6 L986 640.9 L988 641.3 L990 641.7 L992 642.1 L994 642.7 L996 643.3 L998 643.9 L1000 644.6 L1002 645.3 L1004 645.9 L1006 646.5 L1008 647 L1010 647.6 L1012 648.2 L1014 648.7 L1016 649.3 L1018 650 L1020 650.7 L1022 651.4 L1024 652.2 L1026 653 L1028 653.8 L1030 654.5 L1032 655.3 L1034 656.2 L1036 657 L1038 657.8 L1040 658.7 L1042 659.6 L1044 660.5 L1046 661.5 L1048 662.4 L1050 663.4 L1052 664.3 L1054 665.2 L1056 666.1 L1058 667 L1060 667.9 L1062 668.8 L1064 669.7 L1066 670.5 L1068 671.4 L1070 672.3 L1072 673.2 L1074 674.1 L1076 675 L1078 675.9 L1080 676.8 L1082 677.7 L1084 678.6 L1086 679.5 L1088 680.4 L1090 681.3 L1092 682.2 L1094 683.2 L1096 684.1 L1098 685.1 L1100 686.1 M826 716.3 L828 714.2 L830 712.1 L832 710 L834 708 L836 706 L838 704 L840 702 L842 700.1 L844 698.1 L846 696.2 L848 694.3 L850 692.5 L852 690.6 L854 688.8 L856 687 L858 685.2 L860 683.5 L862 681.9 L864 680.4 L866 679 L868 677.7 L870 676.4 L872 675.1 L874 673.8 L876 672.6 L878 671.4 L880 670.2 L882 669 L884 667.9 L886 666.8 L888 665.7 L890 664.7 L892 663.6 L894 662.7 L896 661.8 L898 660.9 L900 660.1 L902 659.4 L904 658.6 L906 657.8 L908 657 L910 656.2 L912 655.4 L914 654.7 L916 653.9 L918 653.2 L920 652.4 L922 651.7 L924 651 L926 650.4 L928 649.8 L930 649.3 L932 648.8 L934 648.4 L936 648 L938 647.6 L940 647.2 L942 646.8 L944 646.5 L946 646.1 L948 645.8 L950 645.6 L952 645.4 L954 645.2 L956 645 L958 644.9 L960 644.8 L962 644.7 L964 644.7 L966 644.6 L968 644.6 L970 644.6 L972 644.6 L974 644.7 L976 644.8 L978 644.9 L980 645 L982 645.2 L984 645.4 L986 645.7 L988 646 L990 646.4 L992 646.8 L994 647.3 L996 647.9 L998 648.5 L1000 649.2 L1002 649.8 L1004 650.4 L1006 651 L1008 651.5 L1010 652 L1012 652.6 L1014 653.1 L1016 653.7 L1018 654.3 L1020 654.9 L1022 655.6 L1024 656.4 L1026 657.1 L1028 657.9 L1030 658.6 L1032 659.4 L1034 660.2 L1036 661 L1038 661.8 L1040 662.6 L1042 663.4 L1044 664.3 L1046 665.2 L1048 666.1 L1050 667.1 L1052 667.9 L1054 668.8 L1056 669.7 L1058 670.5 L1060 671.4 L1062 672.2 L1064 673 L1066 673.9 L1068 674.7 L1070 675.6 L1072 676.4 L1074 677.2 L1076 678.1 L1078 678.9 L1080 679.8 L1082 680.6 L1084 681.5 L1086 682.4 L1088 683.2 L1090 684.1 L1092 685 L1094 685.9 L1096 686.8 L1098 687.7 L1100 688.7 M826 717.5 L828 715.5 L830 713.5 L832 711.5 L834 709.6 L836 707.7 L838 705.8 L840 703.9 L842 702.1 L844 700.2 L846 698.4 L848 696.6 L850 694.9 L852 693.1 L854 691.4 L856 689.7 L858 688 L860 686.4 L862 684.9 L864 683.4 L866 682.1 L868 680.8 L870 679.6 L872 678.4 L874 677.2 L876 676 L878 674.8 L880 673.7 L882 672.6 L884 671.5 L886 670.5 L888 669.5 L890 668.4 L892 667.5 L894 666.6 L896 665.7 L898 664.9 L900 664.2 L902 663.4 L904 662.7 L906 662 L908 661.2 L910 660.5 L912 659.7 L914 659 L916 658.2 L918 657.5 L920 656.8 L922 656.1 L924 655.5 L926 654.9 L928 654.3 L930 653.9 L932 653.4 L934 653 L936 652.6 L938 652.2 L940 651.9 L942 651.5 L944 651.2 L946 650.9 L948 650.6 L950 650.4 L952 650.1 L954 649.9 L956 649.8 L958 649.7 L960 649.6 L962 649.5 L964 649.5 L966 649.4 L968 649.4 L970 649.4 L972 649.4 L974 649.5 L976 649.6 L978 649.7 L980 649.8 L982 649.9 L984 650.1 L986 650.4 L988 650.8 L990 651.1 L992 651.5 L994 652 L996 652.5 L998 653.1 L1000 653.8 L1002 654.4 L1004 654.9 L1006 655.4 L1008 656 L1010 656.5 L1012 657 L1014 657.5 L1016 658 L1018 658.6 L1020 659.2 L1022 659.9 L1024 660.6 L1026 661.3 L1028 662 L1030 662.7 L1032 663.5 L1034 664.2 L1036 664.9 L1038 665.7 L1040 666.5 L1042 667.3 L1044 668.1 L1046 669 L1048 669.9 L1050 670.7 L1052 671.6 L1054 672.4 L1056 673.2 L1058 674 L1060 674.8 L1062 675.6 L1064 676.4 L1066 677.2 L1068 678 L1070 678.8 L1072 679.6 L1074 680.4 L1076 681.2 L1078 682 L1080 682.8 L1082 683.6 L1084 684.5 L1086 685.3 L1088 686.1 L1090 686.9 L1092 687.8 L1094 688.6 L1096 689.5 L1098 690.3 L1100 691.2 M826 718.7 L828 716.8 L830 714.9 L832 713.1 L834 711.2 L836 709.4 L838 707.6 L840 705.8 L842 704.1 L844 702.3 L846 700.6 L848 698.9 L850 697.3 L852 695.6 L854 694 L856 692.3 L858 690.7 L860 689.2 L862 687.8 L864 686.4 L866 685.2 L868 683.9 L870 682.8 L872 681.6 L874 680.5 L876 679.4 L878 678.3 L880 677.2 L882 676.2 L884 675.2 L886 674.2 L888 673.2 L890 672.2 L892 671.3 L894 670.5 L896 669.6 L898 668.9 L900 668.2 L902 667.5 L904 666.8 L906 666.1 L908 665.4 L910 664.7 L912 664 L914 663.3 L916 662.6 L918 661.9 L920 661.2 L922 660.6 L924 660 L926 659.4 L928 658.9 L930 658.4 L932 658 L934 657.6 L936 657.3 L938 656.9 L940 656.5 L942 656.2 L944 655.9 L946 655.6 L948 655.3 L950 655.1 L952 654.9 L954 654.7 L956 654.6 L958 654.5 L960 654.4 L962 654.3 L964 654.3 L966 654.2 L968 654.2 L970 654.2 L972 654.2 L974 654.3 L976 654.4 L978 654.5 L980 654.6 L982 654.7 L984 654.9 L986 655.2 L988 655.5 L990 655.8 L992 656.2 L994 656.6 L996 657.2 L998 657.7 L1000 658.3 L1002 658.9 L1004 659.4 L1006 659.9 L1008 660.4 L1010 660.9 L1012 661.4 L1014 661.9 L1016 662.4 L1018 662.9 L1020 663.5 L1022 664.1 L1024 664.8 L1026 665.5 L1028 666.1 L1030 666.8 L1032 667.5 L1034 668.2 L1036 668.9 L1038 669.6 L1040 670.4 L1042 671.1 L1044 671.9 L1046 672.7 L1048 673.6 L1050 674.4 L1052 675.2 L1054 676 L1056 676.8 L1058 677.5 L1060 678.3 L1062 679 L1064 679.8 L1066 680.5 L1068 681.3 L1070 682 L1072 682.8 L1074 683.6 L1076 684.3 L1078 685.1 L1080 685.8 L1082 686.6 L1084 687.4 L1086 688.2 L1088 689 L1090 689.7 L1092 690.5 L1094 691.3 L1096 692.1 L1098 693 L1100 693.8 M826 719.9 L828 718.1 L830 716.3 L832 714.6 L834 712.8 L836 711.1 L838 709.4 L840 707.7 L842 706.1 L844 704.4 L846 702.8 L848 701.2 L850 699.7 L852 698.1 L854 696.5 L856 695 L858 693.5 L860 692.1 L862 690.7 L864 689.4 L866 688.2 L868 687.1 L870 686 L872 684.9 L874 683.8 L876 682.8 L878 681.7 L880 680.7 L882 679.7 L884 678.8 L886 677.9 L888 676.9 L890 676 L892 675.2 L894 674.3 L896 673.6 L898 672.9 L900 672.2 L902 671.5 L904 670.9 L906 670.2 L908 669.6 L910 668.9 L912 668.2 L914 667.6 L916 666.9 L918 666.3 L920 665.6 L922 665 L924 664.4 L926 663.9 L928 663.4 L930 663 L932 662.6 L934 662.2 L936 661.9 L938 661.5 L940 661.2 L942 660.9 L944 660.6 L946 660.3 L948 660.1 L950 659.9 L952 659.7 L954 659.5 L956 659.3 L958 659.2 L960 659.2 L962 659.1 L964 659.1 L966 659 L968 659 L970 659 L972 659 L974 659.1 L976 659.1 L978 659.2 L980 659.3 L982 659.5 L984 659.7 L986 659.9 L988 660.2 L990 660.5 L992 660.9 L994 661.3 L996 661.8 L998 662.3 L1000 662.9 L1002 663.4 L1004 663.9 L1006 664.4 L1008 664.9 L1010 665.3 L1012 665.8 L1014 666.2 L1016 666.7 L1018 667.2 L1020 667.8 L1022 668.4 L1024 669 L1026 669.6 L1028 670.3 L1030 670.9 L1032 671.6 L1034 672.2 L1036 672.9 L1038 673.6 L1040 674.3 L1042 675 L1044 675.7 L1046 676.5 L1048 677.3 L1050 678.1 L1052 678.8 L1054 679.6 L1056 680.3 L1058 681 L1060 681.7 L1062 682.4 L1064 683.1 L1066 683.9 L1068 684.6 L1070 685.3 L1072 686 L1074 686.7 L1076 687.4 L1078 688.1 L1080 688.9 L1082 689.6 L1084 690.3 L1086 691.1 L1088 691.8 L1090 692.6 L1092 693.3 L1094 694.1 L1096 694.8 L1098 695.6 L1100 696.4 M826 721.1 L828 719.4 L830 717.7 L832 716.1 L834 714.4 L836 712.8 L838 711.2 L840 709.7 L842 708.1 L844 706.5 L846 705 L848 703.5 L850 702 L852 700.6 L854 699.1 L856 697.7 L858 696.3 L860 694.9 L862 693.6 L864 692.4 L866 691.3 L868 690.2 L870 689.2 L872 688.1 L874 687.1 L876 686.2 L878 685.2 L880 684.2 L882 683.3 L884 682.4 L886 681.5 L888 680.7 L890 679.8 L892 679 L894 678.2 L896 677.5 L898 676.8 L900 676.2 L902 675.6 L904 675 L906 674.4 L908 673.7 L910 673.1 L912 672.5 L914 671.8 L916 671.2 L918 670.6 L920 670 L922 669.5 L924 668.9 L926 668.4 L928 668 L930 667.6 L932 667.2 L934 666.8 L936 666.5 L938 666.2 L940 665.9 L942 665.6 L944 665.3 L946 665 L948 664.8 L950 664.6 L952 664.4 L954 664.3 L956 664.1 L958 664 L960 664 L962 663.9 L964 663.9 L966 663.8 L968 663.8 L970 663.8 L972 663.8 L974 663.9 L976 663.9 L978 664 L980 664.1 L982 664.2 L984 664.4 L986 664.7 L988 664.9 L990 665.3 L992 665.6 L994 666 L996 666.4 L998 666.9 L1000 667.5 L1002 668 L1004 668.4 L1006 668.9 L1008 669.3 L1010 669.7 L1012 670.2 L1014 670.6 L1016 671.1 L1018 671.5 L1020 672.1 L1022 672.6 L1024 673.2 L1026 673.8 L1028 674.4 L1030 675 L1032 675.6 L1034 676.2 L1036 676.9 L1038 677.5 L1040 678.2 L1042 678.8 L1044 679.5 L1046 680.3 L1048 681 L1050 681.7 L1052 682.5 L1054 683.1 L1056 683.8 L1058 684.5 L1060 685.2 L1062 685.8 L1064 686.5 L1066 687.2 L1068 687.9 L1070 688.5 L1072 689.2 L1074 689.9 L1076 690.5 L1078 691.2 L1080 691.9 L1082 692.6 L1084 693.3 L1086 694 L1088 694.7 L1090 695.4 L1092 696.1 L1094 696.8 L1096 697.5 L1098 698.2 L1100 699 M826 722.3 L828 720.7 L830 719.1 L832 717.6 L834 716 L836 714.5 L838 713 L840 711.6 L842 710.1 L844 708.7 L846 707.2 L848 705.8 L850 704.4 L852 703.1 L854 701.7 L856 700.3 L858 699 L860 697.7 L862 696.5 L864 695.4 L866 694.4 L868 693.3 L870 692.4 L872 691.4 L874 690.5 L876 689.5 L878 688.6 L880 687.7 L882 686.9 L884 686 L886 685.2 L888 684.4 L890 683.6 L892 682.8 L894 682.1 L896 681.5 L898 680.8 L900 680.2 L902 679.7 L904 679.1 L906 678.5 L908 677.9 L910 677.3 L912 676.7 L914 676.1 L916 675.6 L918 675 L920 674.5 L922 673.9 L924 673.4 L926 672.9 L928 672.5 L930 672.1 L932 671.8 L934 671.4 L936 671.1 L938 670.8 L940 670.6 L942 670.3 L944 670 L946 669.7 L948 669.5 L950 669.4 L952 669.2 L954 669 L956 668.9 L958 668.8 L960 668.8 L962 668.7 L964 668.7 L966 668.6 L968 668.6 L970 668.6 L972 668.6 L974 668.7 L976 668.7 L978 668.8 L980 668.9 L982 669 L984 669.2 L986 669.4 L988 669.7 L990 670 L992 670.3 L994 670.6 L996 671.1 L998 671.5 L1000 672 L1002 672.5 L1004 673 L1006 673.4 L1008 673.8 L1010 674.2 L1012 674.6 L1014 675 L1016 675.4 L1018 675.8 L1020 676.3 L1022 676.9 L1024 677.4 L1026 678 L1028 678.5 L1030 679.1 L1032 679.7 L1034 680.3 L1036 680.8 L1038 681.4 L1040 682.1 L1042 682.7 L1044 683.4 L1046 684 L1048 684.7 L1050 685.4 L1052 686.1 L1054 686.7 L1056 687.4 L1058 688 L1060 688.6 L1062 689.3 L1064 689.9 L1066 690.5 L1068 691.1 L1070 691.8 L1072 692.4 L1074 693 L1076 693.7 L1078 694.3 L1080 694.9 L1082 695.6 L1084 696.2 L1086 696.9 L1088 697.5 L1090 698.2 L1092 698.8 L1094 699.5 L1096 700.2 L1098 700.9 L1100 701.6 M826 723.5 L828 722 L830 720.5 L832 719.1 L834 717.7 L836 716.3 L838 714.9 L840 713.5 L842 712.1 L844 710.8 L846 709.4 L848 708.1 L850 706.8 L852 705.5 L854 704.3 L856 703 L858 701.8 L860 700.6 L862 699.5 L864 698.4 L866 697.4 L868 696.5 L870 695.6 L872 694.7 L874 693.8 L876 692.9 L878 692.1 L880 691.3 L882 690.5 L884 689.7 L886 688.9 L888 688.1 L890 687.4 L892 686.7 L894 686 L896 685.4 L898 684.8 L900 684.2 L902 683.7 L904 683.2 L906 682.6 L908 682.1 L910 681.5 L912 681 L914 680.4 L916 679.9 L918 679.4 L920 678.9 L922 678.3 L924 677.9 L926 677.4 L928 677 L930 676.7 L932 676.4 L934 676.1 L936 675.8 L938 675.5 L940 675.2 L942 675 L944 674.7 L946 674.5 L948 674.3 L950 674.1 L952 673.9 L954 673.8 L956 673.7 L958 673.6 L960 673.5 L962 673.5 L964 673.5 L966 673.4 L968 673.4 L970 673.4 L972 673.4 L974 673.5 L976 673.5 L978 673.6 L980 673.7 L982 673.8 L984 673.9 L986 674.2 L988 674.4 L990 674.7 L992 675 L994 675.3 L996 675.7 L998 676.1 L1000 676.6 L1002 677.1 L1004 677.5 L1006 677.8 L1008 678.2 L1010 678.6 L1012 679 L1014 679.3 L1016 679.7 L1018 680.2 L1020 680.6 L1022 681.1 L1024 681.6 L1026 682.1 L1028 682.7 L1030 683.2 L1032 683.7 L1034 684.3 L1036 684.8 L1038 685.4 L1040 685.9 L1042 686.5 L1044 687.2 L1046 687.8 L1048 688.4 L1050 689.1 L1052 689.7 L1054 690.3 L1056 690.9 L1058 691.5 L1060 692.1 L1062 692.7 L1064 693.2 L1066 693.8 L1068 694.4 L1070 695 L1072 695.6 L1074 696.2 L1076 696.8 L1078 697.4 L1080 698 L1082 698.6 L1084 699.2 L1086 699.8 L1088 700.4 L1090 701 L1092 701.6 L1094 702.2 L1096 702.9 L1098 703.5 L1100 704.2 M826 724.7 L828 723.3 L830 721.9 L832 720.6 L834 719.3 L836 718 L838 716.7 L840 715.4 L842 714.1 L844 712.9 L846 711.6 L848 710.4 L850 709.2 L852 708 L854 706.8 L856 705.7 L858 704.5 L860 703.4 L862 702.4 L864 701.4 L866 700.5 L868 699.6 L870 698.8 L872 697.9 L874 697.1 L876 696.3 L878 695.5 L880 694.8 L882 694 L884 693.3 L886 692.6 L888 691.9 L890 691.2 L892 690.5 L894 689.9 L896 689.3 L898 688.8 L900 688.3 L902 687.8 L904 687.3 L906 686.8 L908 686.3 L910 685.7 L912 685.2 L914 684.7 L916 684.2 L918 683.8 L920 683.3 L922 682.8 L924 682.3 L926 681.9 L928 681.6 L930 681.2 L932 680.9 L934 680.7 L936 680.4 L938 680.1 L940 679.9 L942 679.6 L944 679.4 L946 679.2 L948 679 L950 678.9 L952 678.7 L954 678.6 L956 678.5 L958 678.4 L960 678.3 L962 678.3 L964 678.3 L966 678.2 L968 678.2 L970 678.2 L972 678.2 L974 678.3 L976 678.3 L978 678.4 L980 678.5 L982 678.6 L984 678.7 L986 678.9 L988 679.1 L990 679.4 L992 679.6 L994 680 L996 680.3 L998 680.7 L1000 681.2 L1002 681.6 L1004 682 L1006 682.3 L1008 682.7 L1010 683 L1012 683.4 L1014 683.7 L1016 684.1 L1018 684.5 L1020 684.9 L1022 685.3 L1024 685.8 L1026 686.3 L1028 686.8 L1030 687.3 L1032 687.8 L1034 688.3 L1036 688.8 L1038 689.3 L1040 689.8 L1042 690.4 L1044 691 L1046 691.6 L1048 692.2 L1050 692.7 L1052 693.3 L1054 693.9 L1056 694.4 L1058 695 L1060 695.5 L1062 696.1 L1064 696.6 L1066 697.2 L1068 697.7 L1070 698.3 L1072 698.8 L1074 699.3 L1076 699.9 L1078 700.4 L1080 701 L1082 701.6 L1084 702.1 L1086 702.7 L1088 703.2 L1090 703.8 L1092 704.4 L1094 704.9 L1096 705.5 L1098 706.1 L1100 706.7 M826 725.8 L828 724.6 L830 723.3 L832 722.1 L834 720.9 L836 719.7 L838 718.5 L840 717.3 L842 716.1 L844 715 L846 713.8 L848 712.7 L850 711.6 L852 710.5 L854 709.4 L856 708.3 L858 707.3 L860 706.3 L862 705.3 L864 704.4 L866 703.6 L868 702.8 L870 702 L872 701.2 L874 700.5 L876 699.7 L878 699 L880 698.3 L882 697.6 L884 696.9 L886 696.3 L888 695.6 L890 695 L892 694.4 L894 693.8 L896 693.3 L898 692.8 L900 692.3 L902 691.8 L904 691.4 L906 690.9 L908 690.4 L910 690 L912 689.5 L914 689 L916 688.6 L918 688.1 L920 687.7 L922 687.2 L924 686.8 L926 686.4 L928 686.1 L930 685.8 L932 685.5 L934 685.3 L936 685 L938 684.8 L940 684.6 L942 684.3 L944 684.1 L946 683.9 L948 683.7 L950 683.6 L952 683.5 L954 683.3 L956 683.2 L958 683.2 L960 683.1 L962 683.1 L964 683 L966 683 L968 683 L970 683 L972 683 L974 683 L976 683.1 L978 683.2 L980 683.2 L982 683.3 L984 683.5 L986 683.6 L988 683.9 L990 684.1 L992 684.3 L994 684.6 L996 685 L998 685.4 L1000 685.7 L1002 686.1 L1004 686.5 L1006 686.8 L1008 687.1 L1010 687.4 L1012 687.8 L1014 688.1 L1016 688.4 L1018 688.8 L1020 689.2 L1022 689.6 L1024 690 L1026 690.5 L1028 690.9 L1030 691.4 L1032 691.8 L1034 692.3 L1036 692.8 L1038 693.2 L1040 693.7 L1042 694.3 L1044 694.8 L1046 695.3 L1048 695.9 L1050 696.4 L1052 697 L1054 697.5 L1056 698 L1058 698.5 L1060 699 L1062 699.5 L1064 700 L1066 700.5 L1068 701 L1070 701.5 L1072 702 L1074 702.5 L1076 703 L1078 703.5 L1080 704 L1082 704.5 L1084 705.1 L1086 705.6 L1088 706.1 L1090 706.6 L1092 707.1 L1094 707.7 L1096 708.2 L1098 708.8 L1100 709.3 M826 727 L828 725.9 L830 724.7 L832 723.6 L834 722.5 L836 721.4 L838 720.3 L840 719.2 L842 718.1 L844 717.1 L846 716 L848 715 L850 714 L852 713 L854 712 L856 711 L858 710 L860 709.1 L862 708.2 L864 707.4 L866 706.6 L868 705.9 L870 705.2 L872 704.5 L874 703.8 L876 703.1 L878 702.4 L880 701.8 L882 701.2 L884 700.6 L886 699.9 L888 699.4 L890 698.8 L892 698.2 L894 697.7 L896 697.2 L898 696.7 L900 696.3 L902 695.9 L904 695.5 L906 695 L908 694.6 L910 694.2 L912 693.7 L914 693.3 L916 692.9 L918 692.5 L920 692.1 L922 691.7 L924 691.3 L926 691 L928 690.6 L930 690.4 L932 690.1 L934 689.9 L936 689.7 L938 689.4 L940 689.2 L942 689 L944 688.8 L946 688.6 L948 688.5 L950 688.4 L952 688.2 L954 688.1 L956 688 L958 688 L960 687.9 L962 687.9 L964 687.8 L966 687.8 L968 687.8 L970 687.8 L972 687.8 L974 687.8 L976 687.9 L978 688 L980 688 L982 688.1 L984 688.2 L986 688.4 L988 688.6 L990 688.8 L992 689 L994 689.3 L996 689.6 L998 690 L1000 690.3 L1002 690.7 L1004 691 L1006 691.3 L1008 691.6 L1010 691.9 L1012 692.2 L1014 692.5 L1016 692.8 L1018 693.1 L1020 693.5 L1022 693.8 L1024 694.2 L1026 694.7 L1028 695.1 L1030 695.5 L1032 695.9 L1034 696.3 L1036 696.7 L1038 697.2 L1040 697.6 L1042 698.1 L1044 698.6 L1046 699.1 L1048 699.6 L1050 700.1 L1052 700.6 L1054 701.1 L1056 701.5 L1058 702 L1060 702.4 L1062 702.9 L1064 703.4 L1066 703.8 L1068 704.3 L1070 704.7 L1072 705.2 L1074 705.7 L1076 706.1 L1078 706.6 L1080 707.1 L1082 707.5 L1084 708 L1086 708.5 L1088 708.9 L1090 709.4 L1092 709.9 L1094 710.4 L1096 710.9 L1098 711.4 L1100 711.9 M826 728.2 L828 727.2 L830 726.1 L832 725.1 L834 724.1 L836 723.1 L838 722.1 L840 721.1 L842 720.2 L844 719.2 L846 718.2 L848 717.3 L850 716.4 L852 715.5 L854 714.6 L856 713.7 L858 712.8 L860 711.9 L862 711.2 L864 710.4 L866 709.7 L868 709 L870 708.4 L872 707.7 L874 707.1 L876 706.5 L878 705.9 L880 705.3 L882 704.7 L884 704.2 L886 703.6 L888 703.1 L890 702.6 L892 702.1 L894 701.6 L896 701.1 L898 700.7 L900 700.3 L902 699.9 L904 699.6 L906 699.2 L908 698.8 L910 698.4 L912 698 L914 697.6 L916 697.2 L918 696.9 L920 696.5 L922 696.1 L924 695.8 L926 695.5 L928 695.2 L930 694.9 L932 694.7 L934 694.5 L936 694.3 L938 694.1 L940 693.9 L942 693.7 L944 693.5 L946 693.4 L948 693.2 L950 693.1 L952 693 L954 692.9 L956 692.8 L958 692.7 L960 692.7 L962 692.7 L964 692.6 L966 692.6 L968 692.6 L970 692.6 L972 692.6 L974 692.6 L976 692.7 L978 692.7 L980 692.8 L982 692.9 L984 693 L986 693.1 L988 693.3 L990 693.5 L992 693.7 L994 693.9 L996 694.2 L998 694.6 L1000 694.9 L1002 695.2 L1004 695.5 L1006 695.8 L1008 696 L1010 696.3 L1012 696.6 L1014 696.8 L1016 697.1 L1018 697.4 L1020 697.7 L1022 698.1 L1024 698.4 L1026 698.8 L1028 699.2 L1030 699.6 L1032 700 L1034 700.3 L1036 700.7 L1038 701.1 L1040 701.5 L1042 702 L1044 702.4 L1046 702.8 L1048 703.3 L1050 703.8 L1052 704.2 L1054 704.6 L1056 705.1 L1058 705.5 L1060 705.9 L1062 706.3 L1064 706.7 L1066 707.1 L1068 707.6 L1070 708 L1072 708.4 L1074 708.8 L1076 709.2 L1078 709.7 L1080 710.1 L1082 710.5 L1084 710.9 L1086 711.4 L1088 711.8 L1090 712.2 L1092 712.7 L1094 713.1 L1096 713.6 L1098 714 L1100 714.5 M826 729.4 L828 728.5 L830 727.5 L832 726.6 L834 725.7 L836 724.8 L838 723.9 L840 723 L842 722.2 L844 721.3 L846 720.4 L848 719.6 L850 718.8 L852 718 L854 717.1 L856 716.3 L858 715.5 L860 714.8 L862 714.1 L864 713.4 L866 712.8 L868 712.2 L870 711.6 L872 711 L874 710.4 L876 709.9 L878 709.4 L880 708.8 L882 708.3 L884 707.8 L886 707.3 L888 706.8 L890 706.4 L892 705.9 L894 705.5 L896 705.1 L898 704.7 L900 704.3 L902 704 L904 703.7 L906 703.3 L908 703 L910 702.6 L912 702.2 L914 701.9 L916 701.6 L918 701.2 L920 700.9 L922 700.6 L924 700.3 L926 700 L928 699.7 L930 699.5 L932 699.3 L934 699.1 L936 698.9 L938 698.7 L940 698.6 L942 698.4 L944 698.2 L946 698.1 L948 698 L950 697.9 L952 697.7 L954 697.7 L956 697.6 L958 697.5 L960 697.5 L962 697.5 L964 697.4 L966 697.4 L968 697.4 L970 697.4 L972 697.4 L974 697.4 L976 697.5 L978 697.5 L980 697.6 L982 697.6 L984 697.7 L986 697.9 L988 698 L990 698.2 L992 698.4 L994 698.6 L996 698.9 L998 699.2 L1000 699.5 L1002 699.7 L1004 700 L1006 700.2 L1008 700.5 L1010 700.7 L1012 701 L1014 701.2 L1016 701.5 L1018 701.7 L1020 702 L1022 702.3 L1024 702.7 L1026 703 L1028 703.3 L1030 703.7 L1032 704 L1034 704.4 L1036 704.7 L1038 705.1 L1040 705.4 L1042 705.8 L1044 706.2 L1046 706.6 L1048 707 L1050 707.4 L1052 707.8 L1054 708.2 L1056 708.6 L1058 709 L1060 709.4 L1062 709.7 L1064 710.1 L1066 710.5 L1068 710.8 L1070 711.2 L1072 711.6 L1074 712 L1076 712.4 L1078 712.7 L1080 713.1 L1082 713.5 L1084 713.9 L1086 714.3 L1088 714.7 L1090 715 L1092 715.4 L1094 715.8 L1096 716.2 L1098 716.7 L1100 717.1 M826 730.6 L828 729.8 L830 728.9 L832 728.1 L834 727.3 L836 726.5 L838 725.7 L840 724.9 L842 724.2 L844 723.4 L846 722.6 L848 721.9 L850 721.2 L852 720.4 L854 719.7 L856 719 L858 718.3 L860 717.6 L862 717 L864 716.4 L866 715.8 L868 715.3 L870 714.8 L872 714.3 L874 713.8 L876 713.3 L878 712.8 L880 712.3 L882 711.9 L884 711.4 L886 711 L888 710.6 L890 710.1 L892 709.7 L894 709.4 L896 709 L898 708.7 L900 708.4 L902 708.1 L904 707.8 L906 707.4 L908 707.1 L910 706.8 L912 706.5 L914 706.2 L916 705.9 L918 705.6 L920 705.3 L922 705 L924 704.7 L926 704.5 L928 704.3 L930 704.1 L932 703.9 L934 703.7 L936 703.5 L938 703.4 L940 703.2 L942 703.1 L944 702.9 L946 702.8 L948 702.7 L950 702.6 L952 702.5 L954 702.4 L956 702.4 L958 702.3 L960 702.3 L962 702.3 L964 702.2 L966 702.2 L968 702.2 L970 702.2 L972 702.2 L974 702.2 L976 702.3 L978 702.3 L980 702.4 L982 702.4 L984 702.5 L986 702.6 L988 702.8 L990 702.9 L992 703.1 L994 703.3 L996 703.5 L998 703.8 L1000 704 L1002 704.3 L1004 704.5 L1006 704.7 L1008 704.9 L1010 705.1 L1012 705.4 L1014 705.6 L1016 705.8 L1018 706 L1020 706.3 L1022 706.6 L1024 706.9 L1026 707.2 L1028 707.5 L1030 707.8 L1032 708.1 L1034 708.4 L1036 708.7 L1038 709 L1040 709.3 L1042 709.7 L1044 710 L1046 710.4 L1048 710.7 L1050 711.1 L1052 711.5 L1054 711.8 L1056 712.1 L1058 712.5 L1060 712.8 L1062 713.1 L1064 713.5 L1066 713.8 L1068 714.1 L1070 714.5 L1072 714.8 L1074 715.1 L1076 715.5 L1078 715.8 L1080 716.1 L1082 716.5 L1084 716.8 L1086 717.2 L1088 717.5 L1090 717.9 L1092 718.2 L1094 718.6 L1096 718.9 L1098 719.3 L1100 719.7 M826 731.8 L828 731.1 L830 730.4 L832 729.6 L834 728.9 L836 728.2 L838 727.5 L840 726.9 L842 726.2 L844 725.5 L846 724.9 L848 724.2 L850 723.6 L852 722.9 L854 722.3 L856 721.7 L858 721.1 L860 720.5 L862 719.9 L864 719.4 L866 718.9 L868 718.4 L870 718 L872 717.5 L874 717.1 L876 716.7 L878 716.3 L880 715.9 L882 715.5 L884 715.1 L886 714.7 L888 714.3 L890 713.9 L892 713.6 L894 713.3 L896 712.9 L898 712.6 L900 712.4 L902 712.1 L904 711.8 L906 711.6 L908 711.3 L910 711 L912 710.8 L914 710.5 L916 710.2 L918 710 L920 709.7 L922 709.5 L924 709.2 L926 709 L928 708.8 L930 708.6 L932 708.5 L934 708.3 L936 708.2 L938 708 L940 707.9 L942 707.8 L944 707.6 L946 707.5 L948 707.4 L950 707.3 L952 707.3 L954 707.2 L956 707.1 L958 707.1 L960 707.1 L962 707 L964 707 L966 707 L968 707 L970 707 L972 707 L974 707 L976 707.1 L978 707.1 L980 707.1 L982 707.2 L984 707.3 L986 707.4 L988 707.5 L990 707.6 L992 707.8 L994 707.9 L996 708.1 L998 708.4 L1000 708.6 L1002 708.8 L1004 709 L1006 709.2 L1008 709.4 L1010 709.6 L1012 709.8 L1014 709.9 L1016 710.1 L1018 710.3 L1020 710.6 L1022 710.8 L1024 711.1 L1026 711.3 L1028 711.6 L1030 711.9 L1032 712.1 L1034 712.4 L1036 712.7 L1038 712.9 L1040 713.2 L1042 713.5 L1044 713.8 L1046 714.1 L1048 714.5 L1050 714.8 L1052 715.1 L1054 715.4 L1056 715.7 L1058 716 L1060 716.3 L1062 716.5 L1064 716.8 L1066 717.1 L1068 717.4 L1070 717.7 L1072 718 L1074 718.3 L1076 718.6 L1078 718.9 L1080 719.2 L1082 719.5 L1084 719.8 L1086 720.1 L1088 720.4 L1090 720.7 L1092 721 L1094 721.3 L1096 721.6 L1098 721.9 L1100 722.2" fill="none" stroke="#3854a9" stroke-width="2.2"/>
<path d="M1041.8 3 V61 M1041.8 650 V697" stroke="#7d8fca" stroke-width="0.6"/>
<path d="M356 73.5 L358 74 L360 75.6 L362 77.3 L364 79 L366 80.7 L368 82.5 L370 84.2 L372 86 L374 87.8 L376 89.7 L378 91.5 L380 93.4 L382 95.3 L384 97.3 L386 99.2 L388 101.2 L390 103.2 L392 105.2 L394 107.2 L396 109.3 L398 111.3 L400 113.4 L402 115.5 L404 117.7 L406 119.8 L408 122 L410 124.2 L412 126.4 L414 128.6 L416 130.8 L418 133.1 L420 135.3 L422 137.6 L424 139.9 L426 142.2 L428 144.6 L430 146.9 L432 149.2 L434 151.6 L436 154 L438 156.4 L440 158.8 L442 161.2 L444 163.6 L446 166.1 L448 168.5 L450 171 L452 173.5 L454 175.9 L456 178.4 L458 180.9 L460 183.4 L462 186 L464 188.5 L466 191 L468 193.6 L470 196.1 L472 198.7 L474 201.2 L476 203.8 L478 206.4 L480 209 L482 211.6 L484 214.1 L486 216.7 L488 219.3 L490 221.9 L492 224.6 L494 227.2 L496 229.8 L498 232.4 L500 235 L502 237.6 L504 240.3 L506 242.9 L508 245.5 L510 248.1 L512 250.8 L514 253.4 L516 256 L518 258.6 L520 261.3 L522 263.9 L524 266.5 L526 269.1 L528 271.7 L530 274.3 L532 276.9 L534 279.5 L536 282.1 L538 284.7 L540 287.3 L542 289.9 L544 292.5 L546 295.1 L548 297.6 L550 300.2 L552 302.8 L554 305.3 L556 307.9 L558 310.4 L560 312.9 L562 315.4 L564 317.9 L566 320.4 L568 322.9 L570 325.4 L572 327.9 L574 330.3 L576 332.8 L578 335.2 L580 337.7 L582 340.1 L584 342.5 L586 344.9 L588 347.3 L590 349.6 L592 352 L594 354.3 L596 356.6 L598 358.9 L600 361.2 L602 363.5 L604 365.8 L606 368 L608 370.3 L610 372.5 L612 374.7 L614 376.9 L616 379 L618 381.2 L620 383.3 L622 385.4 L624 387.5 L626 389.6 L628 391.6 L630 393.6 L632 395.7 L634 397.7 L636 399.6 L638 401.6 L640 403.5 L642 405.4 L644 407.3 L646 409.1 L648 411 L650 412.8 L650.2 414.2" fill="none" stroke="#3049a2" stroke-width="1.9" stroke-dasharray="1.4 0.4"/>
<path d="M830.3 401.9 L832.3 400.2 L834.3 398.3 L836.3 396.4 L838.3 394.5 L840.3 392.5 L842.3 390.5 L844.3 388.5 L846.3 386.5 L848.3 384.4 L850.3 382.3 L852.3 380.2 L854.3 378.1 L856.3 375.9 L858.3 373.7 L860.3 371.5 L862.3 369.3 L864.3 367 L866.3 364.8 L868.3 362.5 L870.3 360.2 L872.3 357.8 L874.3 355.5 L876.3 353.1 L878.3 350.7 L880.3 348.3 L882.3 345.9 L884.3 343.5 L886.3 341 L888.3 338.6 L890.3 336.1 L892.3 333.6 L894.3 331.1 L896.3 328.6 L898.3 326 L900.3 323.5 L902.3 320.9 L904.3 318.3 L906.3 315.7 L908.3 313.1 L910.3 310.5 L912.3 307.9 L914.3 305.3 L916.3 302.7 L918.3 300 L920.3 297.4 L922.3 294.7 L924.3 292 L926.3 289.3 L928.3 286.7 L930.3 284 L932.3 281.3 L934.3 278.6 L936.3 275.9 L938.3 273.2 L940.3 270.5 L942.3 267.8 L944.3 265 L946.3 262.3 L948.3 259.6 L950.3 256.9 L952.3 254.2 L954.3 251.4 L956.3 248.7 L958.3 246 L960.3 243.3 L962.3 240.6 L964.3 237.8 L966.3 235.1 L968.3 232.4 L970.3 229.7 L972.3 227 L974.3 224.3 L976.3 221.6 L978.3 218.9 L980.3 216.2 L982.3 213.6 L984.3 210.9 L986.3 208.2 L988.3 205.6 L990.3 202.9 L992.3 200.3 L994.3 197.6 L996.3 195 L998.3 192.4 L1000.3 189.8 L1002.3 187.2 L1004.3 184.6 L1006.3 182.1 L1008.3 179.5 L1010.3 177 L1012.3 174.4 L1014.3 171.9 L1016.3 169.4 L1018.3 166.9 L1020.3 164.4 L1022.3 162 L1024.3 159.5 L1026.3 157.1 L1028.3 154.7 L1030.3 152.3 L1032.3 149.9 L1034.3 147.6 L1036.3 145.2 L1038.3 142.9 L1040.3 140.6 L1042.3 138.3 L1044.3 136.1 L1046.3 133.9 L1048.3 131.6 L1050.3 129.4 L1052.3 127.3 L1054.3 125.1 L1056.3 123 L1058.3 120.9 L1060.3 118.8 L1062.3 116.8 L1064.3 114.7 L1066.3 112.7 L1068.3 110.8 L1070.3 108.8 L1072.3 106.9 L1074.3 105 L1076.3 103.1 L1078.3 101.3 L1080.3 99.5 L1082.3 97.7 L1084.3 95.9 L1086.3 94.2 L1088.3 92.5 L1090.3 90.9 L1092.3 89.2 L1094.3 87.6 L1096.3 86.1 L1098.3 84.5 L1099 84" fill="none" stroke="#3049a2" stroke-width="1.9" stroke-dasharray="1.4 0.4"/>
<path d="M830.3 401.9 L832.3 403.3 L834.3 405.7 L836.3 408.2 L838.3 410.6 L840.3 413.1 L842.3 415.6 L844.3 418.1 L846.3 420.7 L848.3 423.3 L850.3 425.9 L852.3 428.5 L854.3 431.1 L856.3 433.8 L858.3 436.4 L860.3 439.1 L862.3 441.8 L864.3 444.6 L866.3 447.3 L868.3 450 L870.3 452.8 L872.3 455.6 L874.3 458.4 L876.3 461.2 L878.3 464 L880.3 466.8 L882.3 469.7 L884.3 472.5 L886.3 475.3 L888.3 478.2 L890.3 481.1 L892.3 483.9 L894.3 486.8 L896.3 489.7 L898.3 492.6 L900.3 495.4 L902.3 498.3 L904.3 501.2 L906.3 504.1 L908.3 507 L910.3 509.8 L912.3 512.7 L914.3 515.6 L916.3 518.5 L918.3 521.3 L920.3 524.2 L922.3 527.1 L924.3 529.9 L926.3 532.7 L928.3 535.6 L930.3 538.4 L932.3 541.2 L934.3 544 L936.3 546.8 L938.3 549.6 L940.3 552.4 L942.3 555.2 L944.3 558 L946.3 560.7 L948.3 563.4 L950.3 566.2 L952.3 568.9 L954.3 571.6 L956.3 574.3 L958.3 577 L960.3 579.6 L962.3 582.3 L964.3 584.9 L966.3 587.5 L968.3 590.1 L970.3 592.7 L972.3 595.3 L974.3 597.8 L976.3 600.4 L978.3 602.9 L980.3 605.4 L982.3 607.9 L984.3 610.3 L986.3 612.8 L988.3 615.2 L990.3 617.6 L992.3 620 L992.4 619.9" fill="none" stroke="#3049a2" stroke-width="1.9" stroke-dasharray="1.4 0.4"/>
<path d="M463.5 672 L465.5 669.6 L467.5 667.7 L469.5 665.7 L471.5 663.6 L473.5 661.6 L475.5 659.5 L477.5 657.3 L479.5 655.2 L481.5 653 L483.5 650.7 L485.5 648.5 L487.5 646.2 L489.5 643.9 L491.5 641.5 L493.5 639.1 L495.5 636.7 L497.5 634.3 L499.5 631.8 L501.5 629.3 L503.5 626.7 L505.5 624.2 L507.5 621.6 L509.5 618.9 L511.5 616.3 L513.5 613.6 L515.5 610.8 L517.5 608.1 L519.5 605.3 L521.5 602.5 L523.5 599.7 L525.5 596.8 L527.5 593.9 L529.5 591 L531.5 588.1 L533.5 585.1 L535.5 582.2 L537.5 579.2 L539.5 576.2 L541.5 573.1 L543.5 570.1 L545.5 567.1 L547.5 564 L549.5 560.9 L551.5 557.9 L553.5 554.8 L555.5 551.7 L557.5 548.6 L559.5 545.5 L561.5 542.4 L563.5 539.3 L565.5 536.1 L567.5 533 L569.5 529.9 L571.5 526.8 L573.5 523.7 L575.5 520.6 L577.5 517.5 L579.5 514.4 L581.5 511.3 L583.5 508.2 L585.5 505.2 L587.5 502.1 L589.5 499 L591.5 496 L593.5 493 L595.5 490 L597.5 487 L599.5 484 L601.5 481 L603.5 478 L605.5 475.1 L607.5 472.2 L609.5 469.3 L611.5 466.4 L613.5 463.6 L615.5 460.8 L617.5 457.9 L619.5 455.2 L621.5 452.4 L623.5 449.6 L625.5 446.9 L627.5 444.2 L629.5 441.6 L631.5 438.9 L633.5 436.3 L635.5 433.6 L637.5 431.1 L639.5 428.5 L641.5 425.9 L643.5 423.4 L645.5 420.9 L647.5 418.5 L649.5 416 L650.2 414.2" fill="none" stroke="#3049a2" stroke-width="1.9" stroke-dasharray="1.4 0.4"/>
<path d="M650.2 414.2 L652.2 415.9 L654.2 417.7 L656.2 419.6 L658.2 421.4 L660.2 423.1 L662.2 424.8 L664.2 426.5 L666.2 428.1 L668.2 429.7 L670.2 431.2 L672.2 432.6 L674.2 434.1 L676.2 435.4 L678.2 436.8 L680.2 438 L682.2 439.3 L684.2 440.5 L686.2 441.6 L688.2 442.7 L690.2 443.7 L692.2 444.7 L694.2 445.7 L696.2 446.6 L698.2 447.5 L700.2 448.3 L702.2 449 L704.2 449.7 L706.2 450.4 L708.2 451 L710.2 451.6 L712.2 452.1 L714.2 452.6 L716.2 453.1 L718.2 453.5 L720.2 453.8 L722.2 454.1 L724.2 454.3 L726.2 454.5 L728.2 454.7 L730.2 454.8 L732.2 454.9 L734.2 454.9 L736.2 454.9 L738.2 454.8 L740.2 454.7 L742.2 454.5 L744.2 454.3 L746.2 454 L748.2 453.7 L750.2 453.3 L752.2 452.9 L754.2 452.5 L756.2 452 L758.2 451.5 L760.2 450.9 L762.2 450.2 L764.2 449.6 L766.2 448.8 L768.2 448.1 L770.2 447.2 L772.2 446.4 L774.2 445.5 L776.2 444.5 L778.2 443.5 L780.2 442.4 L782.2 441.3 L784.2 440.2 L786.2 439 L788.2 437.8 L790.2 436.5 L792.2 435.2 L794.2 433.8 L796.2 432.4 L798.2 430.9 L800.2 429.4 L802.2 427.8 L804.2 426.2 L806.2 424.6 L808.2 422.9 L810.2 421.1 L812.2 419.4 L814.2 417.5 L816.2 415.6 L818.2 413.7 L820.2 411.7 L822.2 409.7 L824.2 407.7 L826.2 405.5 L828.2 403.4 L830.2 401.2 L830.3 401.9" fill="none" stroke="#3854a9" stroke-width="2.1"/>
<path d="M650.2 414.2 L652.2 412.1 L654.2 409.3 L656.2 406.6 L658.2 403.9 L660.2 401.2 L662.2 398.6 L664.2 396 L666.2 393.5 L668.2 391.1 L670.2 388.7 L672.2 386.3 L674.2 384.1 L676.2 381.8 L678.2 379.6 L680.2 377.5 L682.2 375.4 L684.2 373.4 L686.2 371.4 L688.2 369.5 L690.2 367.7 L692.2 365.9 L694.2 364.2 L696.2 362.5 L698.2 360.9 L700.2 359.3 L702.2 357.8 L704.2 356.4 L706.2 355 L708.2 353.7 L710.2 352.4 L712.2 351.2 L714.2 350.1 L716.2 349 L718.2 348 L720.2 347.1 L722.2 346.2 L724.2 345.4 L726.2 344.7 L728.2 344 L730.2 343.4 L732.2 342.8 L734.2 342.3 L736.2 341.9 L738.2 341.6 L740.2 341.3 L742.2 341.1 L744.2 341 L746.2 340.9 L748.2 340.9 L750.2 341 L752.2 341.1 L754.2 341.3 L756.2 341.6 L758.2 342 L760.2 342.4 L762.2 342.9 L764.2 343.5 L766.2 344.1 L768.2 344.9 L770.2 345.6 L772.2 346.5 L774.2 347.4 L776.2 348.4 L778.2 349.5 L780.2 350.7 L782.2 351.9 L784.2 353.2 L786.2 354.6 L788.2 356 L790.2 357.5 L792.2 359.1 L794.2 360.8 L796.2 362.5 L798.2 364.3 L800.2 366.2 L802.2 368.2 L804.2 370.2 L806.2 372.3 L808.2 374.5 L810.2 376.8 L812.2 379.1 L814.2 381.5 L816.2 384 L818.2 386.5 L820.2 389.2 L822.2 391.9 L824.2 394.7 L826.2 397.5 L828.2 400.5 L830.2 403.5 L830.3 401.9" fill="none" stroke="#3854a9" stroke-width="2.1"/>
<path d="M356 145.4 L358 145.3 L360 145.7 L362 146 L364 146.3 L366 146.6 L368 146.9 L370 147.2 L372 147.5 L374 147.8 L376 148 L378 148.3 L380 148.5 L382 148.7 L384 148.9 L386 149.1 L388 149.3 L390 149.5 L392 149.6 L394 149.8 L396 150 L398 150.1 L400 150.2 L402 150.3 L404 150.5 L406 150.6 L408 150.6 L410 150.7 L412 150.8 L414 150.9 L416 151 L418 151 L420 151.1 L422 151.1 L424 151.1 L426 151.2 L428 151.2 L430 151.2 L432 151.2 L434 151.3 L436 151.3 L438 151.3 L440 151.3 L442 151.3 L444 151.2 L446 151.2 L448 151.2 L450 151.2 L452 151.2 L454 151.1 L456 151.1 L458 151.1 L460 151 L462 151 L464 151 L466 150.9 L468 150.9 L470 150.9 L472 150.8 L474 150.8 L476 150.7 L478 150.7 L480 150.7 L482 150.6 L484 150.6 L486 150.5 L488 150.5 L490 150.5 L492 150.4 L494 150.4 L496 150.4 L498 150.4 L500 150.3 L502 150.3 L504 150.3 L506 150.3 L508 150.3 L510 150.3 L512 150.3 L514 150.3 L516 150.3 L518 150.3 L520 150.3 L522 150.3 L524 150.3 L526 150.4 L528 150.4 L530 150.5 L532 150.5 L534 150.6 L536 150.6 L538 150.7 L540 150.8 L542 150.9 L544 151 L546 151.1 L548 151.2 L550 151.3 L552 151.4 L554 151.6 L556 151.7 L558 151.9 L560 152 L562 152.2 L564 152.4 L566 152.6 L568 152.8 L570 153 L572 153.3 L574 153.5 L576 153.7 L578 154 L580 154.3 L582 154.5 L584 154.8 L586 155.1 L588 155.4 L590 155.8 L592 156.1 L594 156.4 L596 156.8 L598 157.1 L600 157.5 L602 157.9 L604 158.3 L606 158.7 L608 159.1 L610 159.5 L612 159.9 L614 160.4 L616 160.8 L618 161.3 L620 161.8 L622 162.2 L624 162.7 L626 163.2 L628 163.7 L630 164.3 L632 164.8 L634 165.3 L636 165.9 L638 166.5 L640 167 L642 167.6 L644 168.2 L646 168.8 L648 169.4 L650 170 L652 170.7 L654 171.3 L656 172 L658 172.6 L660 173.3 L662 174 L664 174.7 L666 175.4 L668 176.1 L670 176.8 L672 177.6 L674 178.3 L676 179 L678 179.8 L680 180.5 L682 181.3 L684 182 L686 182.7 L688 183.5 L690 184.2 L692 184.9 L694 185.6 L696 186.3 L698 187 L700 187.7 L702 188.4 L704 189 L706 189.6 L708 190.3 L710 190.9 L712 191.5 L714 192 L716 192.6 L718 193.1 L720 193.6 L722 194 L724 194.5 L726 194.9 L728 195.3 L730 195.6 L732 196 L734 196.2 L736 196.5 L738 196.7 L740 196.9 L742 197 L744 197.2 L746 197.2 L748 197.3 L750 197.3 L752 197.3 L754 197.2 L756 197.2 L758 197.1 L760 196.9 L762 196.8 L764 196.6 L766 196.4 L768 196.2 L770 195.9 L772 195.7 L774 195.4 L776 195.1 L778 194.7 L780 194.4 L782 194 L784 193.6 L786 193.2 L788 192.8 L790 192.4 L792 192 L794 191.5 L796 191 L798 190.6 L800 190.1 L802 189.6 L804 189.1 L806 188.6 L808 188.1 L810 187.6 L812 187 L814 186.5 L816 186 L818 185.5 L820 184.9 L822 184.4 L824 183.9 L826 183.4 L828 182.8 L830 182.3 L832 181.8 L834 181.3 L836 180.8 L838 180.3 L840 179.8 L842 179.3 L844 178.9 L846 178.4 L848 177.9 L850 177.5 L852 177 L854 176.6 L856 176.2 L858 175.8 L860 175.4 L862 175 L864 174.6 L866 174.2 L868 173.8 L870 173.4 L872 173.1 L874 172.8 L876 172.4 L878 172.1 L880 171.8 L882 171.5 L884 171.2 L886 170.9 L888 170.6 L890 170.4 L892 170.1 L894 169.9 L896 169.7 L898 169.5 L900 169.3 L902 169.1 L904 168.9 L906 168.8 L908 168.6 L910 168.5 L912 168.3 L914 168.2 L916 168.1 L918 168 L920 168 L922 167.9 L924 167.9 L926 167.8 L928 167.8 L930 167.8 L932 167.7 L934 167.7 L936 167.7 L938 167.8 L940 167.8 L942 167.8 L944 167.8 L946 167.9 L948 167.9 L950 168 L952 168.1 L954 168.1 L956 168.2 L958 168.3 L960 168.4 L962 168.4 L964 168.5 L966 168.6 L968 168.7 L970 168.8 L972 168.9 L974 169 L976 169.1 L978 169.2 L980 169.4 L982 169.5 L984 169.6 L986 169.7 L988 169.8 L990 169.9 L992 170 L994 170.1 L996 170.2 L998 170.3 L1000 170.4 L1002 170.5 L1004 170.6 L1006 170.7 L1008 170.8 L1010 170.8 L1012 170.9 L1014 171 L1016 171.1 L1018 171.1 L1020 171.2 L1022 171.2 L1024 171.3 L1026 171.3 L1028 171.3 L1030 171.3 L1032 171.4 L1034 171.4 L1036 171.4 L1038 171.4 L1040 171.4 L1042 171.4 L1044 171.4 L1046 171.4 L1048 171.3 L1050 171.3 L1052 171.3 L1054 171.3 L1056 171.2 L1058 171.2 L1060 171.1 L1062 171.1 L1064 171 L1066 171 L1068 170.9 L1070 170.8 L1072 170.8 L1074 170.7 L1076 170.6 L1078 170.5 L1080 170.4 L1082 170.3 L1084 170.3 L1086 170.2 L1088 170.1 L1090 170 L1092 169.9 L1094 169.7 L1096 169.6 L1098 169.5 L1099 169.7" fill="none" stroke="#3854a9" stroke-width="2.1"/>
</g>
<path d="M357 2.2 V697.8" stroke="#666" stroke-width="1.7"/>
<path d="M357 3 H1098.7" stroke="#1e1e1e" stroke-width="1.5"/>
<path d="M357 697 H1098.7" stroke="#1e1e1e" stroke-width="1.5"/>
<path d="M1098.3 2.3 V697.7" stroke="#000" stroke-width="1.3"/>
<path d="M378.9 697 v-7 M378.9 3 v7 M487.8 697 v-7 M487.8 3 v7 M596.6 697 v-7 M596.6 3 v7 M705.5 697 v-7 M705.5 3 v7 M814.5 697 v-7 M814.5 3 v7 M923 697 v-7 M923 3 v7 M1031.5 697 v-7 M1031.5 3 v7 M357 48.2 h7 M1098 48.2 h-7 M357 199.3 h7 M1098 199.3 h-7 M357 350.4 h7 M1098 350.4 h-7 M357 501.3 h7 M1098 501.3 h-7 M357 652.2 h7 M1098 652.2 h-7" stroke="#333" stroke-width="1.1"/>
<text x="378.9" y="742.3" font-family="&apos;Liberation Serif&apos;, serif" font-size="38.5" text-anchor="middle" textLength="45.5" lengthAdjust="spacingAndGlyphs">1.5</text>
<text x="487.8" y="742.3" font-family="&apos;Liberation Serif&apos;, serif" font-size="38.5" text-anchor="middle" textLength="45.5" lengthAdjust="spacingAndGlyphs">2.0</text>
<text x="596.6" y="742.3" font-family="&apos;Liberation Serif&apos;, serif" font-size="38.5" text-anchor="middle" textLength="45.5" lengthAdjust="spacingAndGlyphs">2.5</text>
<text x="705.5" y="742.3" font-family="&apos;Liberation Serif&apos;, serif" font-size="38.5" text-anchor="middle" textLength="45.5" lengthAdjust="spacingAndGlyphs">3.0</text>
<text x="814.5" y="742.3" font-family="&apos;Liberation Serif&apos;, serif" font-size="38.5" text-anchor="middle" textLength="45.5" lengthAdjust="spacingAndGlyphs">3.5</text>
<text x="923" y="742.3" font-family="&apos;Liberation Serif&apos;, serif" font-size="38.5" text-anchor="middle" textLength="45.5" lengthAdjust="spacingAndGlyphs">4.0</text>
<text x="1031.5" y="742.3" font-family="&apos;Liberation Serif&apos;, serif" font-size="38.5" text-anchor="middle" textLength="45.5" lengthAdjust="spacingAndGlyphs">4.5</text>
<text x="292" y="60.5" font-family="&apos;Liberation Serif&apos;, serif" font-size="38.5" textLength="45.5" lengthAdjust="spacingAndGlyphs">1.0</text>
<text x="292" y="211.6" font-family="&apos;Liberation Serif&apos;, serif" font-size="38.5" textLength="45.5" lengthAdjust="spacingAndGlyphs">0.5</text>
<text x="292" y="362.7" font-family="&apos;Liberation Serif&apos;, serif" font-size="38.5" textLength="45.5" lengthAdjust="spacingAndGlyphs">0.0</text>
<text x="292" y="513.6" font-family="&apos;Liberation Serif&apos;, serif" font-size="38.5" textLength="45.5" lengthAdjust="spacingAndGlyphs">0.5</text>
<rect x="265.2" y="501.7" width="23.1" height="1.4" fill="#000"/>
<text x="292" y="664.5" font-family="&apos;Liberation Serif&apos;, serif" font-size="38.5" textLength="45.5" lengthAdjust="spacingAndGlyphs">1.0</text>
<rect x="265.2" y="652.6" width="23.1" height="1.4" fill="#000"/>
<text x="964.7" y="618.6" font-family="&apos;Liberation Serif&apos;, serif" font-size="33" text-anchor="middle">A</text>
<text x="910.2" y="496.1" font-family="&apos;Liberation Serif&apos;, serif" font-size="33" text-anchor="middle">B</text>
<text x="909.6" y="343.5" font-family="&apos;Liberation Serif&apos;, serif" font-size="33" text-anchor="middle">C</text>
<text x="964.6" y="117.4" font-family="&apos;Liberation Serif&apos;, serif" font-size="33" text-anchor="middle">D</text>
<text x="697" y="782" font-family="&apos;Liberation Serif&apos;, serif" font-size="46" font-style="italic">k<tspan font-size="30" dy="5.7" dx="2">x</tspan><tspan dy="-5.7" dx="4">a</tspan></text>
<text transform="translate(243.3,410.2) rotate(-90)" font-family="&apos;Liberation Serif&apos;, serif" font-size="48" font-style="italic">E</text>
<text transform="translate(249.8,378.2) rotate(-90)" font-family="&apos;Liberation Serif&apos;, serif" font-size="32.5" font-style="italic">k</text>
<text transform="translate(243.3,350.3) rotate(-90)" font-family="&apos;Liberation Serif&apos;, serif" font-size="44">e</text>
<text transform="translate(243.3,331.7) rotate(-90)" font-family="&apos;Liberation Serif&apos;, serif" font-size="47.6" textLength="30.5" lengthAdjust="spacingAndGlyphs">V</text>
<path d="M209.6 350.8 V355.8 H253 V350.8 M209.6 299.8 V294.1 H253 V299.8" fill="none" stroke="#000" stroke-width="1.5"/>
<path d="M62.2 869 V1379" stroke="#b4b4b4" stroke-width="1.5"/>
<path d="M62.2 869 H611.5" stroke="#aaa" stroke-width="1.5"/>
<path d="M611.5 869 V1379" stroke="#5a5a5a" stroke-width="1"/>
<path d="M62.2 1379 H611.5" stroke="#666" stroke-width="1"/>
<path d="M62.2 1379 v-5.5 M62.2 869 v5.5 M245.3 1379 v-5.5 M245.3 869 v5.5 M428.4 1379 v-5.5 M428.4 869 v5.5 M611.5 1379 v-5.5 M611.5 869 v5.5 M62.2 1378.6 h5.5 M611.5 1378.6 h-5.5 M62.2 1327.6 h5.5 M611.5 1327.6 h-5.5 M62.2 1276.7 h5.5 M611.5 1276.7 h-5.5 M62.2 1225.7 h5.5 M611.5 1225.7 h-5.5 M62.2 1174.8 h5.5 M611.5 1174.8 h-5.5 M62.2 1123.8 h5.5 M611.5 1123.8 h-5.5 M62.2 1072.8 h5.5 M611.5 1072.8 h-5.5 M62.2 1021.9 h5.5 M611.5 1021.9 h-5.5 M62.2 970.9 h5.5 M611.5 970.9 h-5.5 M62.2 920 h5.5 M611.5 920 h-5.5 M62.2 869 h5.5 M611.5 869 h-5.5" stroke="#a8a8a8" stroke-width="1"/>
<text x="62.2" y="1401.3" font-family="&apos;Liberation Sans&apos;, sans-serif" font-size="20" text-anchor="middle">0</text>
<text x="245.3" y="1401.3" font-family="&apos;Liberation Sans&apos;, sans-serif" font-size="20" text-anchor="middle">50</text>
<text x="428.4" y="1401.3" font-family="&apos;Liberation Sans&apos;, sans-serif" font-size="20" text-anchor="middle">100</text>
<text x="611.5" y="1401.3" font-family="&apos;Liberation Sans&apos;, sans-serif" font-size="20" text-anchor="middle">150</text>
<text x="58.9" y="1386.2" font-family="&apos;Liberation Sans&apos;, sans-serif" font-size="20" text-anchor="end">0</text>
<text x="58.9" y="1335.2" font-family="&apos;Liberation Sans&apos;, sans-serif" font-size="20" text-anchor="end">0.1</text>
<text x="58.9" y="1284.3" font-family="&apos;Liberation Sans&apos;, sans-serif" font-size="20" text-anchor="end">0.2</text>
<text x="58.9" y="1233.3" font-family="&apos;Liberation Sans&apos;, sans-serif" font-size="20" text-anchor="end">0.3</text>
<text x="58.9" y="1182.4" font-family="&apos;Liberation Sans&apos;, sans-serif" font-size="20" text-anchor="end">0.4</text>
<text x="58.9" y="1131.4" font-family="&apos;Liberation Sans&apos;, sans-serif" font-size="20" text-anchor="end">0.5</text>
<text x="58.9" y="1080.4" font-family="&apos;Liberation Sans&apos;, sans-serif" font-size="20" text-anchor="end">0.6</text>
<text x="58.9" y="1029.5" font-family="&apos;Liberation Sans&apos;, sans-serif" font-size="20" text-anchor="end">0.7</text>
<text x="58.9" y="978.5" font-family="&apos;Liberation Sans&apos;, sans-serif" font-size="20" text-anchor="end">0.8</text>
<text x="58.9" y="927.6" font-family="&apos;Liberation Sans&apos;, sans-serif" font-size="20" text-anchor="end">0.9</text>
<text x="58.9" y="876.6" font-family="&apos;Liberation Sans&apos;, sans-serif" font-size="20" text-anchor="end">1</text>
<g clip-path="none">
<path d="M62.2 1372.5 L66.6 1378.6 L81.2 1378.6 L83 1378 L84.8 1377.4 L86.5 1376.7 L88.3 1376 L90 1375.1 L91.8 1374.2 L93.6 1373.2 L95.3 1372.1 L97.1 1371 L98.8 1369.7 L100.6 1368.4 L102.4 1367 L104.1 1365.5 L105.9 1364 L107.6 1362.3 L109.4 1360.6 L111.2 1358.8 L112.9 1357 L114.7 1355 L116.4 1353 L118.2 1350.9 L120 1348.7 L121.7 1346.5 L123.5 1344.2 L125.2 1341.8 L127 1339.3 L128.8 1336.8 L130.5 1334.1 L132.3 1331.5 L134 1328.7 L135.8 1325.9 L137.6 1323 L139.3 1320 L141.1 1316.9 L142.8 1313.8 L144.6 1310.6 L146.4 1307.4 L148.1 1304.1 L149.9 1300.7 L151.6 1297.2 L153.4 1293.7 L155.2 1290.1 L156.9 1286.5 L158.7 1282.8 L160.4 1279 L162.2 1275.2 L164 1271.3 L165.7 1267.4 L167.5 1263.4 L169.2 1259.3 L171 1255.2 L172.8 1251 L174.5 1246.8 L176.3 1242.5 L178 1238.2 L179.8 1233.8 L181.6 1229.3 L183.3 1224.9 L185.1 1220.3 L186.8 1215.7 L188.6 1211.1 L190.4 1206.4 L192.1 1201.6 L193.9 1196.8 L195.6 1192 L197.4 1187.1 L199.2 1182.2 L200.9 1177.2 L202.7 1172.2 L204.4 1167.2 L206.2 1162.1 L208 1156.9 L209.7 1151.8 L211.5 1146.6 L213.2 1141.3 L215 1136 L216.8 1130.7 L218.5 1125.4 L220.3 1120 L222 1114.7 L223.8 1109.3 L225.6 1103.9 L227.3 1098.5 L229.1 1093.1 L230.8 1087.6 L232.6 1082.2 L234.4 1076.8 L236.1 1071.4 L237.9 1066 L239.6 1060.7 L241.4 1055.3 L243.2 1050 L244.9 1044.7 L246.7 1039.4 L248.4 1034.2 L250.2 1029 L252 1023.8 L253.7 1018.7 L255.5 1013.6 L257.2 1008.6 L259 1003.6 L260.8 998.7 L262.5 993.9 L264.3 989.1 L266 984.4 L267.8 979.7 L269.6 975.1 L271.3 970.6 L273.1 966.2 L274.8 961.8 L276.6 957.6 L278.4 953.4 L280.1 949.3 L281.9 945.4 L283.6 941.5 L285.4 937.7 L287.2 934 L288.9 930.5 L290.7 927 L292.4 923.7 L294.2 920.4 L296 917.3 L297.7 914.2 L299.5 911.3 L301.2 908.4 L303 905.7 L304.8 903.1 L306.5 900.5 L308.3 898.1 L310 895.8 L311.8 893.6 L313.6 891.5 L315.3 889.5 L317.1 887.6 L318.8 885.8 L320.6 884.1 L322.4 882.6 L324.1 881.1 L325.9 879.7 L327.6 878.5 L329.4 877.3 L331.2 876.2 L332.9 875.3 L334.7 874.5 L336.4 873.7 L338.2 873.1 L340 872.6 L341.7 872.2 L343.5 871.9 L345.2 871.6 L347 871.5 L348.8 871.6 L350.5 871.7 L352.3 871.9 L354 872.2 L355.8 872.6 L357.6 873.2 L359.3 873.8 L361.1 874.5 L362.8 875.3 L364.6 876.3 L366.4 877.3 L368.1 878.5 L369.9 879.7 L371.6 881 L373.4 882.5 L375.2 884 L376.9 885.6 L378.7 887.3 L380.4 889.2 L382.2 891.1 L384 893.1 L385.7 895.2 L387.5 897.4 L389.2 899.7 L391 902.1 L392.8 904.6 L394.5 907.2 L396.3 909.9 L398 912.6 L399.8 915.5 L401.6 918.4 L403.3 921.5 L405.1 924.6 L406.8 927.8 L408.6 931.1 L410.4 934.5 L412.1 938 L413.9 941.6 L415.6 945.2 L417.4 949 L419.2 952.8 L420.9 956.7 L422.7 960.7 L424.4 964.8 L426.2 969 L428 973.2 L429.7 977.5 L431.5 981.9 L433.2 986.3 L435 990.8 L436.8 995.4 L438.5 1000 L440.3 1004.7 L442 1009.4 L443.8 1014.2 L445.6 1019.1 L447.3 1024 L449.1 1028.9 L450.8 1033.9 L452.6 1038.9 L454.4 1043.9 L456.1 1049 L457.9 1054.2 L459.6 1059.3 L461.4 1064.5 L463.2 1069.7 L464.9 1075 L466.7 1080.2 L468.4 1085.5 L470.2 1090.8 L472 1096.1 L473.7 1101.4 L475.5 1106.8 L477.2 1112.1 L479 1117.5 L480.8 1122.8 L482.5 1128.2 L484.3 1133.5 L486 1138.9 L487.8 1144.2 L489.6 1149.5 L491.3 1154.9 L493.1 1160.2 L494.8 1165.4 L496.6 1170.7 L498.4 1176 L500.1 1181.2 L501.9 1186.4 L503.6 1191.6 L505.4 1196.7 L507.2 1201.9 L508.9 1206.9 L510.7 1212 L512.4 1217 L514.2 1222 L516 1226.9 L517.7 1231.8 L519.5 1236.7 L521.2 1241.5 L523 1246.2 L524.8 1250.9 L526.5 1255.6 L528.3 1260.2 L530 1264.7 L531.8 1269.2 L533.6 1273.6 L535.3 1278 L537.1 1282.3 L538.8 1286.5 L540.6 1290.7 L542.4 1294.8 L544.1 1298.8 L545.9 1302.7 L547.6 1306.6 L549.4 1310.3 L551.2 1314 L552.9 1317.7 L554.7 1321.2 L556.4 1324.6 L558.2 1328 L560 1331.2 L561.7 1334.4 L563.5 1337.5 L565.2 1340.4 L567 1343.3 L568.8 1346.1 L570.5 1348.8 L572.3 1351.3 L574 1353.8 L575.8 1356.1 L577.6 1358.3 L579.3 1360.4 L581.1 1362.4 L582.8 1364.3 L584.6 1366.1 L586.4 1367.7 L588.1 1369.2 L589.9 1370.6 L591.6 1371.9 L593.4 1373 L595.2 1374 L596.9 1374.8 L598.7 1375.6 L600.4 1376.1 L602.2 1376.6 L604 1376.9 L605.7 1377 L607.5 1377" fill="none" stroke="#e8141c" stroke-width="2.6" stroke-linejoin="round"/>
<path d="M62.2 1366.9 L68.1 1378.6 L81.2 1378.6 L83 1378 L84.8 1377.4 L86.5 1376.7 L88.3 1375.9 L90 1375.1 L91.8 1374.2 L93.6 1373.2 L95.3 1372.1 L97.1 1370.9 L98.8 1369.7 L100.6 1368.3 L102.4 1366.9 L104.1 1365.5 L105.9 1363.9 L107.6 1362.3 L109.4 1360.5 L111.2 1358.7 L112.9 1356.9 L114.7 1354.9 L116.4 1352.9 L118.2 1350.8 L120 1348.6 L121.7 1346.3 L123.5 1344 L125.2 1341.6 L127 1339.1 L128.8 1336.6 L130.5 1333.9 L132.3 1331.2 L134 1328.4 L135.8 1325.6 L137.6 1322.7 L139.3 1319.7 L141.1 1316.6 L142.8 1313.5 L144.6 1310.3 L146.4 1307 L148.1 1303.7 L149.9 1300.3 L151.6 1296.8 L153.4 1293.3 L155.2 1289.7 L156.9 1286 L158.7 1282.3 L160.4 1278.5 L162.2 1274.7 L164 1270.8 L165.7 1266.8 L167.5 1262.8 L169.2 1258.7 L171 1254.6 L172.8 1250.4 L174.5 1246.1 L176.3 1241.8 L178 1237.5 L179.8 1233.1 L181.6 1228.6 L183.3 1224.1 L185.1 1219.5 L186.8 1214.9 L188.6 1210.2 L190.4 1205.5 L192.1 1200.7 L193.9 1195.9 L195.6 1191.1 L197.4 1186.2 L199.2 1181.2 L200.9 1176.2 L202.7 1171.2 L204.4 1166.1 L206.2 1161 L208 1155.8 L209.7 1150.6 L211.5 1145.4 L213.2 1140.1 L215 1134.8 L216.8 1129.5 L218.5 1124.1 L220.3 1118.7 L222 1113.3 L223.8 1107.9 L225.6 1102.5 L227.3 1097.1 L229.1 1091.6 L230.8 1086.2 L232.6 1080.7 L234.4 1075.3 L236.1 1069.9 L237.9 1064.5 L239.6 1059.1 L241.4 1053.7 L243.2 1048.4 L244.9 1043 L246.7 1037.7 L248.4 1032.5 L250.2 1027.2 L252 1022 L253.7 1016.9 L255.5 1011.8 L257.2 1006.8 L259 1001.8 L260.8 996.8 L262.5 991.9 L264.3 987.1 L266 982.4 L267.8 977.7 L269.6 973.1 L271.3 968.6 L273.1 964.1 L274.8 959.7 L276.6 955.5 L278.4 951.3 L280.1 947.2 L281.9 943.2 L283.6 939.3 L285.4 935.5 L287.2 931.8 L288.9 928.2 L290.7 924.7 L292.4 921.4 L294.2 918.1 L296 914.9 L297.7 911.9 L299.5 908.9 L301.2 906.1 L303 903.3 L304.8 900.7 L306.5 898.1 L308.3 895.7 L310 893.4 L311.8 891.2 L313.6 889.1 L315.3 887 L317.1 885.1 L318.8 883.3 L320.6 881.7 L322.4 880.1 L324.1 878.6 L325.9 877.2 L327.6 875.9 L329.4 874.8 L331.2 873.7 L332.9 872.8 L334.7 871.9 L336.4 871.2 L338.2 870.6 L340 870 L341.7 869.6 L343.5 869.3 L345.2 869.1 L347 869 L348.8 869 L350.5 869.1 L352.3 869.3 L354 869.7 L355.8 870.1 L357.6 870.6 L359.3 871.2 L361.1 872 L362.8 872.8 L364.6 873.8 L366.4 874.8 L368.1 875.9 L369.9 877.2 L371.6 878.5 L373.4 880 L375.2 881.5 L376.9 883.1 L378.7 884.9 L380.4 886.7 L382.2 888.6 L384 890.7 L385.7 892.8 L387.5 895 L389.2 897.3 L391 899.7 L392.8 902.2 L394.5 904.8 L396.3 907.5 L398 910.3 L399.8 913.1 L401.6 916.1 L403.3 919.2 L405.1 922.3 L406.8 925.5 L408.6 928.9 L410.4 932.3 L412.1 935.8 L413.9 939.4 L415.6 943.1 L417.4 946.8 L419.2 950.7 L420.9 954.6 L422.7 958.6 L424.4 962.7 L426.2 966.9 L428 971.2 L429.7 975.5 L431.5 979.9 L433.2 984.3 L435 988.9 L436.8 993.5 L438.5 998.1 L440.3 1002.8 L442 1007.6 L443.8 1012.4 L445.6 1017.3 L447.3 1022.2 L449.1 1027.1 L450.8 1032.1 L452.6 1037.2 L454.4 1042.3 L456.1 1047.4 L457.9 1052.5 L459.6 1057.7 L461.4 1062.9 L463.2 1068.2 L464.9 1073.4 L466.7 1078.7 L468.4 1084 L470.2 1089.4 L472 1094.7 L473.7 1100 L475.5 1105.4 L477.2 1110.8 L479 1116.2 L480.8 1121.5 L482.5 1126.9 L484.3 1132.3 L486 1137.7 L487.8 1143 L489.6 1148.4 L491.3 1153.7 L493.1 1159.1 L494.8 1164.4 L496.6 1169.7 L498.4 1174.9 L500.1 1180.2 L501.9 1185.4 L503.6 1190.6 L505.4 1195.8 L507.2 1201 L508.9 1206.1 L510.7 1211.2 L512.4 1216.2 L514.2 1221.2 L516 1226.2 L517.7 1231.1 L519.5 1236 L521.2 1240.8 L523 1245.6 L524.8 1250.3 L526.5 1255 L528.3 1259.6 L530 1264.2 L531.8 1268.7 L533.6 1273.1 L535.3 1277.5 L537.1 1281.8 L538.8 1286.1 L540.6 1290.2 L542.4 1294.3 L544.1 1298.4 L545.9 1302.3 L547.6 1306.2 L549.4 1310 L551.2 1313.7 L552.9 1317.4 L554.7 1320.9 L556.4 1324.4 L558.2 1327.7 L560 1331 L561.7 1334.2 L563.5 1337.3 L565.2 1340.3 L567 1343.1 L568.8 1345.9 L570.5 1348.6 L572.3 1351.2 L574 1353.6 L575.8 1356 L577.6 1358.2 L579.3 1360.4 L581.1 1362.4 L582.8 1364.2 L584.6 1366 L586.4 1367.7 L588.1 1369.2 L589.9 1370.6 L591.6 1371.8 L593.4 1373 L595.2 1374 L596.9 1374.8 L598.7 1375.5 L600.4 1376.1 L602.2 1376.6 L604 1376.9 L605.7 1377 L607.5 1377" fill="none" stroke="#5cb847" stroke-width="3.2" stroke-linejoin="round"/>
<path d="M62.2 1378.6 L245.3 1378.3 L428.4 1377.1 L538.3 1377.6 L607.8 1378.6" fill="none" stroke="#2d4a9e" stroke-width="3.0" stroke-linejoin="round"/>
<path d="M62.2 1378.6 L607.8 1378.6" fill="none" stroke="#5fc7dd" stroke-width="2.6" stroke-linejoin="round" stroke-dasharray="6.2 6.2"/>
<path d="M62.2 1378.6 L607.8 1378.6" fill="none" stroke="#b24aa8" stroke-width="2.6" stroke-linejoin="round" stroke-dasharray="6.2 6.2"/>
<path d="M62.2 1378.6 L607.8 1378.6" fill="none" stroke="#000" stroke-width="2.6" stroke-linejoin="round" stroke-dasharray="6.2 6.2"/>
</g>
<path d="M283.2 1025.3 H313.8" stroke="#2d4a9e" stroke-width="2.7"/>
<text x="317.2" y="1028.3" font-family="&apos;Liberation Sans&apos;, sans-serif" font-size="21" font-weight="bold">Mo:d<tspan font-size="16" dy="10.3">z</tspan><tspan font-size="11.3" dy="-10.3" dx="0">2</tspan></text>
<path d="M283.2 1062.5 H313.8" stroke="#e8141c" stroke-width="2.7"/>
<text x="317.2" y="1065.5" font-family="&apos;Liberation Sans&apos;, sans-serif" font-size="21" font-weight="bold">Mo:d<tspan font-size="16" dy="10.3">x</tspan><tspan font-size="11.3" dy="-10.3" dx="1">2</tspan><tspan font-size="16" dy="10.3" dx="0.5">−y</tspan><tspan font-size="11.3" dy="-10.3" dx="1.5">2</tspan></text>
<path d="M283.2 1099.8 H313.8" stroke="#5cb847" stroke-width="2.7"/>
<text x="317.2" y="1102.8" font-family="&apos;Liberation Sans&apos;, sans-serif" font-size="21" font-weight="bold">Mo:d<tspan font-size="16" dy="10.3">xy</tspan></text>
<path d="M283.2 1137 H313.8" stroke="#5fc7dd" stroke-width="2.7" stroke-dasharray="6.2 6.2"/>
<text x="317.2" y="1140" font-family="&apos;Liberation Sans&apos;, sans-serif" font-size="21" font-weight="bold">S:p<tspan font-size="16" dy="10.3">x</tspan></text>
<path d="M283.2 1174.3 H313.8" stroke="#b24aa8" stroke-width="2.7" stroke-dasharray="6.2 6.2"/>
<text x="317.2" y="1177.3" font-family="&apos;Liberation Sans&apos;, sans-serif" font-size="21" font-weight="bold">S:p<tspan font-size="16" dy="10.3">y</tspan></text>
<path d="M283.2 1211.5 H313.8" stroke="#000" stroke-width="2.7" stroke-dasharray="6.2 6.2"/>
<text x="317.2" y="1214.5" font-family="&apos;Liberation Sans&apos;, sans-serif" font-size="21" font-weight="bold">S:p<tspan font-size="16" dy="10.3">z</tspan></text>
<text x="94.1" y="917.2" font-family="&apos;Liberation Sans&apos;, sans-serif" font-size="20.4" font-weight="bold" text-anchor="start">A: Valence band</text>
<text transform="translate(20.7,1124) rotate(-90)" font-family="&apos;Liberation Sans&apos;, sans-serif" font-size="24.5" font-weight="bold" text-anchor="middle">Normalized PLDOS</text>
<text x="336.6" y="1424" font-family="&apos;Liberation Sans&apos;, sans-serif" font-size="24" font-weight="bold" text-anchor="middle">y/a<tspan font-size="18.5" dy="11.8">0</tspan></text>
<path d="M761.5 866.4 V1365.5" stroke="#6a6a6a" stroke-width="1"/>
<path d="M761.5 866.4 H1289.6" stroke="#666" stroke-width="1"/>
<path d="M1289.6 866.4 V1365.5" stroke="#6a6a6a" stroke-width="1"/>
<path d="M761.5 1365.5 H1289.6" stroke="#666" stroke-width="1"/>
<path d="M761.5 1365.5 v-5.5 M761.5 866.4 v5.5 M937.5 1365.5 v-5.5 M937.5 866.4 v5.5 M1113.6 1365.5 v-5.5 M1113.6 866.4 v5.5 M1289.6 1365.5 v-5.5 M1289.6 866.4 v5.5 M761.5 1364.8 h5.5 M1289.6 1364.8 h-5.5 M761.5 1315.2 h5.5 M1289.6 1315.2 h-5.5 M761.5 1265.6 h5.5 M1289.6 1265.6 h-5.5 M761.5 1216.1 h5.5 M1289.6 1216.1 h-5.5 M761.5 1166.5 h5.5 M1289.6 1166.5 h-5.5 M761.5 1116.9 h5.5 M1289.6 1116.9 h-5.5 M761.5 1067.3 h5.5 M1289.6 1067.3 h-5.5 M761.5 1017.7 h5.5 M1289.6 1017.7 h-5.5 M761.5 968.2 h5.5 M1289.6 968.2 h-5.5 M761.5 918.6 h5.5 M1289.6 918.6 h-5.5 M761.5 869 h5.5 M1289.6 869 h-5.5" stroke="#a8a8a8" stroke-width="1"/>
<text x="761.5" y="1387.8" font-family="&apos;Liberation Sans&apos;, sans-serif" font-size="20" text-anchor="middle">0</text>
<text x="937.5" y="1387.8" font-family="&apos;Liberation Sans&apos;, sans-serif" font-size="20" text-anchor="middle">50</text>
<text x="1113.6" y="1387.8" font-family="&apos;Liberation Sans&apos;, sans-serif" font-size="20" text-anchor="middle">100</text>
<text x="1289.6" y="1387.8" font-family="&apos;Liberation Sans&apos;, sans-serif" font-size="20" text-anchor="middle">150</text>
<text x="758.2" y="1372.4" font-family="&apos;Liberation Sans&apos;, sans-serif" font-size="20" text-anchor="end">0</text>
<text x="758.2" y="1322.8" font-family="&apos;Liberation Sans&apos;, sans-serif" font-size="20" text-anchor="end">0.1</text>
<text x="758.2" y="1273.2" font-family="&apos;Liberation Sans&apos;, sans-serif" font-size="20" text-anchor="end">0.2</text>
<text x="758.2" y="1223.7" font-family="&apos;Liberation Sans&apos;, sans-serif" font-size="20" text-anchor="end">0.3</text>
<text x="758.2" y="1174.1" font-family="&apos;Liberation Sans&apos;, sans-serif" font-size="20" text-anchor="end">0.4</text>
<text x="758.2" y="1124.5" font-family="&apos;Liberation Sans&apos;, sans-serif" font-size="20" text-anchor="end">0.5</text>
<text x="758.2" y="1074.9" font-family="&apos;Liberation Sans&apos;, sans-serif" font-size="20" text-anchor="end">0.6</text>
<text x="758.2" y="1025.3" font-family="&apos;Liberation Sans&apos;, sans-serif" font-size="20" text-anchor="end">0.7</text>
<text x="758.2" y="975.8" font-family="&apos;Liberation Sans&apos;, sans-serif" font-size="20" text-anchor="end">0.8</text>
<text x="758.2" y="926.2" font-family="&apos;Liberation Sans&apos;, sans-serif" font-size="20" text-anchor="end">0.9</text>
<text x="758.2" y="876.6" font-family="&apos;Liberation Sans&apos;, sans-serif" font-size="20" text-anchor="end">1</text>
<g clip-path="none">
<path d="M761.5 1364.8 L1284.3 1364.8" fill="none" stroke="#e8141c" stroke-width="2.6" stroke-linejoin="round"/>
<path d="M761.5 1364.8 L1284.3 1364.8" fill="none" stroke="#5cb847" stroke-width="3.0" stroke-linejoin="round"/>
<path d="M761.5 1364.8 L768.5 1364.6 L770.2 1364 L772 1363.4 L773.7 1362.6 L775.4 1361.7 L777.1 1360.7 L778.8 1359.6 L780.5 1358.3 L782.2 1357 L783.9 1355.5 L785.6 1353.9 L787.3 1352.1 L789 1350.3 L790.7 1348.4 L792.4 1346.3 L794.2 1344.2 L795.9 1342 L797.6 1339.6 L799.3 1337.2 L801 1334.6 L802.7 1332 L804.4 1329.3 L806.1 1326.4 L807.8 1323.5 L809.5 1320.5 L811.2 1317.4 L812.9 1314.3 L814.6 1311 L816.3 1307.7 L818.1 1304.3 L819.8 1300.8 L821.5 1297.3 L823.2 1293.6 L824.9 1289.9 L826.6 1286.2 L828.3 1282.3 L830 1278.4 L831.7 1274.5 L833.4 1270.5 L835.1 1266.4 L836.8 1262.2 L838.5 1258.1 L840.3 1253.8 L842 1249.5 L843.7 1245.2 L845.4 1240.8 L847.1 1236.3 L848.8 1231.9 L850.5 1227.3 L852.2 1222.8 L853.9 1218.2 L855.6 1213.5 L857.3 1208.8 L859 1204.1 L860.7 1199.4 L862.4 1194.6 L864.2 1189.8 L865.9 1185 L867.6 1180.2 L869.3 1175.3 L871 1170.4 L872.7 1165.5 L874.4 1160.6 L876.1 1155.7 L877.8 1150.7 L879.5 1145.8 L881.2 1140.8 L882.9 1135.9 L884.6 1130.9 L886.3 1125.9 L888.1 1121 L889.8 1116 L891.5 1111 L893.2 1106.1 L894.9 1101.1 L896.6 1096.2 L898.3 1091.2 L900 1086.3 L901.7 1081.4 L903.4 1076.5 L905.1 1071.6 L906.8 1066.7 L908.5 1061.9 L910.3 1057.1 L912 1052.3 L913.7 1047.5 L915.4 1042.8 L917.1 1038.1 L918.8 1033.4 L920.5 1028.8 L922.2 1024.2 L923.9 1019.6 L925.6 1015 L927.3 1010.6 L929 1006.1 L930.7 1001.7 L932.4 997.3 L934.2 993 L935.9 988.7 L937.6 984.5 L939.3 980.4 L941 976.2 L942.7 972.2 L944.4 968.2 L946.1 964.3 L947.8 960.4 L949.5 956.6 L951.2 952.8 L952.9 949.1 L954.6 945.5 L956.4 942 L958.1 938.5 L959.8 935.1 L961.5 931.8 L963.2 928.5 L964.9 925.4 L966.6 922.3 L968.3 919.3 L970 916.3 L971.7 913.5 L973.4 910.7 L975.1 908 L976.8 905.4 L978.5 902.9 L980.3 900.5 L982 898.1 L983.7 895.8 L985.4 893.7 L987.1 891.6 L988.8 889.6 L990.5 887.7 L992.2 885.8 L993.9 884.1 L995.6 882.4 L997.3 880.9 L999 879.4 L1000.7 878.1 L1002.5 876.8 L1004.2 875.6 L1005.9 874.5 L1007.6 873.5 L1009.3 872.6 L1011 871.8 L1012.7 871.1 L1014.4 870.5 L1016.1 870 L1017.8 869.6 L1019.5 869.3 L1021.2 869.1 L1022.9 869 L1024.6 869 L1026.4 869.1 L1028.1 869.3 L1029.8 869.6 L1031.5 870 L1033.2 870.5 L1034.9 871.1 L1036.6 871.8 L1038.3 872.6 L1040 873.5 L1041.7 874.5 L1043.4 875.6 L1045.1 876.8 L1046.8 878.1 L1048.5 879.4 L1050.3 880.9 L1052 882.4 L1053.7 884.1 L1055.4 885.8 L1057.1 887.7 L1058.8 889.6 L1060.5 891.6 L1062.2 893.7 L1063.9 895.8 L1065.6 898.1 L1067.3 900.5 L1069 902.9 L1070.7 905.4 L1072.5 908 L1074.2 910.7 L1075.9 913.5 L1077.6 916.3 L1079.3 919.3 L1081 922.3 L1082.7 925.4 L1084.4 928.5 L1086.1 931.8 L1087.8 935.1 L1089.5 938.5 L1091.2 942 L1092.9 945.5 L1094.6 949.1 L1096.4 952.8 L1098.1 956.6 L1099.8 960.4 L1101.5 964.3 L1103.2 968.2 L1104.9 972.2 L1106.6 976.2 L1108.3 980.4 L1110 984.5 L1111.7 988.7 L1113.4 993 L1115.1 997.3 L1116.8 1001.7 L1118.6 1006.1 L1120.3 1010.6 L1122 1015 L1123.7 1019.6 L1125.4 1024.2 L1127.1 1028.8 L1128.8 1033.4 L1130.5 1038.1 L1132.2 1042.8 L1133.9 1047.5 L1135.6 1052.3 L1137.3 1057.1 L1139 1061.9 L1140.7 1066.7 L1142.5 1071.6 L1144.2 1076.5 L1145.9 1081.4 L1147.6 1086.3 L1149.3 1091.2 L1151 1096.2 L1152.7 1101.1 L1154.4 1106.1 L1156.1 1111 L1157.8 1116 L1159.5 1121 L1161.2 1125.9 L1162.9 1130.9 L1164.6 1135.9 L1166.4 1140.8 L1168.1 1145.8 L1169.8 1150.7 L1171.5 1155.7 L1173.2 1160.6 L1174.9 1165.5 L1176.6 1170.4 L1178.3 1175.3 L1180 1180.2 L1181.7 1185 L1183.4 1189.8 L1185.1 1194.6 L1186.8 1199.4 L1188.6 1204.1 L1190.3 1208.8 L1192 1213.5 L1193.7 1218.2 L1195.4 1222.8 L1197.1 1227.3 L1198.8 1231.9 L1200.5 1236.3 L1202.2 1240.8 L1203.9 1245.2 L1205.6 1249.5 L1207.3 1253.8 L1209 1258.1 L1210.7 1262.2 L1212.5 1266.4 L1214.2 1270.5 L1215.9 1274.5 L1217.6 1278.4 L1219.3 1282.3 L1221 1286.2 L1222.7 1289.9 L1224.4 1293.6 L1226.1 1297.3 L1227.8 1300.8 L1229.5 1304.3 L1231.2 1307.7 L1232.9 1311 L1234.7 1314.3 L1236.4 1317.4 L1238.1 1320.5 L1239.8 1323.5 L1241.5 1326.4 L1243.2 1329.3 L1244.9 1332 L1246.6 1334.6 L1248.3 1337.2 L1250 1339.6 L1251.7 1342 L1253.4 1344.2 L1255.1 1346.3 L1256.8 1348.4 L1258.6 1350.3 L1260.3 1352.1 L1262 1353.9 L1263.7 1355.5 L1265.4 1357 L1267.1 1358.3 L1268.8 1359.6 L1270.5 1360.7 L1272.2 1361.7 L1273.9 1362.6 L1275.6 1363.4 L1277.3 1364 L1279 1364.6" fill="none" stroke="#2d4a9e" stroke-width="3.2" stroke-linejoin="round"/>
<path d="M761.5 1364.8 L769.6 1364.8 L771.3 1364.8 L773 1364.8 L774.8 1364.8 L776.5 1364.8 L778.2 1364.6 L779.9 1364.4 L781.6 1364.2 L783.4 1364 L785.1 1363.8 L786.8 1363.5 L788.5 1363.2 L790.3 1363 L792 1362.7 L793.7 1362.3 L795.4 1362 L797.1 1361.7 L798.9 1361.3 L800.6 1360.9 L802.3 1360.6 L804 1360.2 L805.7 1359.8 L807.5 1359.3 L809.2 1358.9 L810.9 1358.5 L812.6 1358 L814.4 1357.5 L816.1 1357 L817.8 1356.6 L819.5 1356 L821.2 1355.5 L823 1355 L824.7 1354.5 L826.4 1353.9 L828.1 1353.4 L829.8 1352.8 L831.6 1352.2 L833.3 1351.7 L835 1351.1 L836.7 1350.5 L838.5 1349.9 L840.2 1349.3 L841.9 1348.6 L843.6 1348 L845.3 1347.4 L847.1 1346.7 L848.8 1346.1 L850.5 1345.4 L852.2 1344.8 L854 1344.1 L855.7 1343.4 L857.4 1342.8 L859.1 1342.1 L860.8 1341.4 L862.6 1340.7 L864.3 1340 L866 1339.3 L867.7 1338.6 L869.4 1337.9 L871.2 1337.2 L872.9 1336.5 L874.6 1335.8 L876.3 1335 L878.1 1334.3 L879.8 1333.6 L881.5 1332.9 L883.2 1332.1 L884.9 1331.4 L886.7 1330.7 L888.4 1330 L890.1 1329.2 L891.8 1328.5 L893.5 1327.8 L895.3 1327 L897 1326.3 L898.7 1325.6 L900.4 1324.9 L902.2 1324.1 L903.9 1323.4 L905.6 1322.7 L907.3 1322 L909 1321.2 L910.8 1320.5 L912.5 1319.8 L914.2 1319.1 L915.9 1318.4 L917.6 1317.7 L919.4 1317 L921.1 1316.3 L922.8 1315.6 L924.5 1314.9 L926.3 1314.2 L928 1313.6 L929.7 1312.9 L931.4 1312.2 L933.1 1311.5 L934.9 1310.9 L936.6 1310.2 L938.3 1309.6 L940 1309 L941.7 1308.3 L943.5 1307.7 L945.2 1307.1 L946.9 1306.5 L948.6 1305.9 L950.4 1305.3 L952.1 1304.7 L953.8 1304.1 L955.5 1303.6 L957.2 1303 L959 1302.5 L960.7 1301.9 L962.4 1301.4 L964.1 1300.9 L965.8 1300.4 L967.6 1299.9 L969.3 1299.4 L971 1298.9 L972.7 1298.5 L974.5 1298 L976.2 1297.6 L977.9 1297.2 L979.6 1296.8 L981.3 1296.4 L983.1 1296 L984.8 1295.6 L986.5 1295.2 L988.2 1294.9 L989.9 1294.6 L991.7 1294.2 L993.4 1293.9 L995.1 1293.7 L996.8 1293.4 L998.6 1293.1 L1000.3 1292.9 L1002 1292.7 L1003.7 1292.4 L1005.4 1292.2 L1007.2 1292.1 L1008.9 1291.9 L1010.6 1291.8 L1012.3 1291.6 L1014 1291.5 L1015.8 1291.4 L1017.5 1291.3 L1019.2 1291.3 L1020.9 1291.2 L1022.7 1291.2 L1024.4 1291.2 L1026.1 1291.2 L1027.8 1291.2 L1029.5 1291.2 L1031.3 1291.3 L1033 1291.3 L1034.7 1291.4 L1036.4 1291.5 L1038.2 1291.6 L1039.9 1291.7 L1041.6 1291.8 L1043.3 1292 L1045 1292.1 L1046.8 1292.3 L1048.5 1292.5 L1050.2 1292.7 L1051.9 1292.9 L1053.6 1293.1 L1055.4 1293.3 L1057.1 1293.6 L1058.8 1293.8 L1060.5 1294.1 L1062.3 1294.4 L1064 1294.7 L1065.7 1295 L1067.4 1295.3 L1069.1 1295.6 L1070.9 1296 L1072.6 1296.3 L1074.3 1296.7 L1076 1297 L1077.7 1297.4 L1079.5 1297.8 L1081.2 1298.2 L1082.9 1298.6 L1084.6 1299 L1086.4 1299.4 L1088.1 1299.9 L1089.8 1300.3 L1091.5 1300.8 L1093.2 1301.2 L1095 1301.7 L1096.7 1302.2 L1098.4 1302.7 L1100.1 1303.2 L1101.8 1303.7 L1103.6 1304.2 L1105.3 1304.7 L1107 1305.2 L1108.7 1305.7 L1110.5 1306.3 L1112.2 1306.8 L1113.9 1307.4 L1115.6 1307.9 L1117.3 1308.5 L1119.1 1309.1 L1120.8 1309.6 L1122.5 1310.2 L1124.2 1310.8 L1125.9 1311.4 L1127.7 1312 L1129.4 1312.6 L1131.1 1313.2 L1132.8 1313.8 L1134.6 1314.4 L1136.3 1315.1 L1138 1315.7 L1139.7 1316.3 L1141.4 1316.9 L1143.2 1317.6 L1144.9 1318.2 L1146.6 1318.9 L1148.3 1319.5 L1150 1320.2 L1151.8 1320.8 L1153.5 1321.5 L1155.2 1322.1 L1156.9 1322.8 L1158.7 1323.4 L1160.4 1324.1 L1162.1 1324.8 L1163.8 1325.4 L1165.5 1326.1 L1167.3 1326.8 L1169 1327.4 L1170.7 1328.1 L1172.4 1328.8 L1174.1 1329.5 L1175.9 1330.1 L1177.6 1330.8 L1179.3 1331.5 L1181 1332.1 L1182.8 1332.8 L1184.5 1333.5 L1186.2 1334.2 L1187.9 1334.8 L1189.6 1335.5 L1191.4 1336.2 L1193.1 1336.8 L1194.8 1337.5 L1196.5 1338.2 L1198.2 1338.8 L1200 1339.5 L1201.7 1340.1 L1203.4 1340.8 L1205.1 1341.5 L1206.9 1342.1 L1208.6 1342.7 L1210.3 1343.4 L1212 1344 L1213.7 1344.7 L1215.5 1345.3 L1217.2 1345.9 L1218.9 1346.6 L1220.6 1347.2 L1222.4 1347.8 L1224.1 1348.4 L1225.8 1349 L1227.5 1349.6 L1229.2 1350.2 L1231 1350.8 L1232.7 1351.4 L1234.4 1352 L1236.1 1352.6 L1237.8 1353.1 L1239.6 1353.7 L1241.3 1354.3 L1243 1354.8 L1244.7 1355.4 L1246.5 1355.9 L1248.2 1356.4 L1249.9 1357 L1251.6 1357.5 L1253.3 1358 L1255.1 1358.5 L1256.8 1359 L1258.5 1359.5 L1260.2 1360 L1261.9 1360.4 L1263.7 1360.9 L1265.4 1361.4 L1267.1 1361.8 L1268.8 1362.2 L1270.6 1362.7 L1272.3 1363.1 L1274 1363.5 L1275.7 1363.9 L1277.4 1364.3 L1279.2 1364.7 L1280.9 1364.8 L1282.6 1364.8 L1284.3 1364.8" fill="none" stroke="#5fc7dd" stroke-width="2.6" stroke-linejoin="round" stroke-dasharray="6.2 6.2"/>
<path d="M761.5 1364.8 L769.6 1364.8 L771.3 1364.8 L773 1364.8 L774.8 1364.8 L776.5 1364.8 L778.2 1364.6 L779.9 1364.4 L781.6 1364.2 L783.4 1364 L785.1 1363.8 L786.8 1363.5 L788.5 1363.2 L790.3 1363 L792 1362.7 L793.7 1362.3 L795.4 1362 L797.1 1361.7 L798.9 1361.3 L800.6 1360.9 L802.3 1360.6 L804 1360.2 L805.7 1359.8 L807.5 1359.3 L809.2 1358.9 L810.9 1358.5 L812.6 1358 L814.4 1357.5 L816.1 1357 L817.8 1356.6 L819.5 1356 L821.2 1355.5 L823 1355 L824.7 1354.5 L826.4 1353.9 L828.1 1353.4 L829.8 1352.8 L831.6 1352.2 L833.3 1351.7 L835 1351.1 L836.7 1350.5 L838.5 1349.9 L840.2 1349.3 L841.9 1348.6 L843.6 1348 L845.3 1347.4 L847.1 1346.7 L848.8 1346.1 L850.5 1345.4 L852.2 1344.8 L854 1344.1 L855.7 1343.4 L857.4 1342.8 L859.1 1342.1 L860.8 1341.4 L862.6 1340.7 L864.3 1340 L866 1339.3 L867.7 1338.6 L869.4 1337.9 L871.2 1337.2 L872.9 1336.5 L874.6 1335.8 L876.3 1335 L878.1 1334.3 L879.8 1333.6 L881.5 1332.9 L883.2 1332.1 L884.9 1331.4 L886.7 1330.7 L888.4 1330 L890.1 1329.2 L891.8 1328.5 L893.5 1327.8 L895.3 1327 L897 1326.3 L898.7 1325.6 L900.4 1324.9 L902.2 1324.1 L903.9 1323.4 L905.6 1322.7 L907.3 1322 L909 1321.2 L910.8 1320.5 L912.5 1319.8 L914.2 1319.1 L915.9 1318.4 L917.6 1317.7 L919.4 1317 L921.1 1316.3 L922.8 1315.6 L924.5 1314.9 L926.3 1314.2 L928 1313.6 L929.7 1312.9 L931.4 1312.2 L933.1 1311.5 L934.9 1310.9 L936.6 1310.2 L938.3 1309.6 L940 1309 L941.7 1308.3 L943.5 1307.7 L945.2 1307.1 L946.9 1306.5 L948.6 1305.9 L950.4 1305.3 L952.1 1304.7 L953.8 1304.1 L955.5 1303.6 L957.2 1303 L959 1302.5 L960.7 1301.9 L962.4 1301.4 L964.1 1300.9 L965.8 1300.4 L967.6 1299.9 L969.3 1299.4 L971 1298.9 L972.7 1298.5 L974.5 1298 L976.2 1297.6 L977.9 1297.2 L979.6 1296.8 L981.3 1296.4 L983.1 1296 L984.8 1295.6 L986.5 1295.2 L988.2 1294.9 L989.9 1294.6 L991.7 1294.2 L993.4 1293.9 L995.1 1293.7 L996.8 1293.4 L998.6 1293.1 L1000.3 1292.9 L1002 1292.7 L1003.7 1292.4 L1005.4 1292.2 L1007.2 1292.1 L1008.9 1291.9 L1010.6 1291.8 L1012.3 1291.6 L1014 1291.5 L1015.8 1291.4 L1017.5 1291.3 L1019.2 1291.3 L1020.9 1291.2 L1022.7 1291.2 L1024.4 1291.2 L1026.1 1291.2 L1027.8 1291.2 L1029.5 1291.2 L1031.3 1291.3 L1033 1291.3 L1034.7 1291.4 L1036.4 1291.5 L1038.2 1291.6 L1039.9 1291.7 L1041.6 1291.8 L1043.3 1292 L1045 1292.1 L1046.8 1292.3 L1048.5 1292.5 L1050.2 1292.7 L1051.9 1292.9 L1053.6 1293.1 L1055.4 1293.3 L1057.1 1293.6 L1058.8 1293.8 L1060.5 1294.1 L1062.3 1294.4 L1064 1294.7 L1065.7 1295 L1067.4 1295.3 L1069.1 1295.6 L1070.9 1296 L1072.6 1296.3 L1074.3 1296.7 L1076 1297 L1077.7 1297.4 L1079.5 1297.8 L1081.2 1298.2 L1082.9 1298.6 L1084.6 1299 L1086.4 1299.4 L1088.1 1299.9 L1089.8 1300.3 L1091.5 1300.8 L1093.2 1301.2 L1095 1301.7 L1096.7 1302.2 L1098.4 1302.7 L1100.1 1303.2 L1101.8 1303.7 L1103.6 1304.2 L1105.3 1304.7 L1107 1305.2 L1108.7 1305.7 L1110.5 1306.3 L1112.2 1306.8 L1113.9 1307.4 L1115.6 1307.9 L1117.3 1308.5 L1119.1 1309.1 L1120.8 1309.6 L1122.5 1310.2 L1124.2 1310.8 L1125.9 1311.4 L1127.7 1312 L1129.4 1312.6 L1131.1 1313.2 L1132.8 1313.8 L1134.6 1314.4 L1136.3 1315.1 L1138 1315.7 L1139.7 1316.3 L1141.4 1316.9 L1143.2 1317.6 L1144.9 1318.2 L1146.6 1318.9 L1148.3 1319.5 L1150 1320.2 L1151.8 1320.8 L1153.5 1321.5 L1155.2 1322.1 L1156.9 1322.8 L1158.7 1323.4 L1160.4 1324.1 L1162.1 1324.8 L1163.8 1325.4 L1165.5 1326.1 L1167.3 1326.8 L1169 1327.4 L1170.7 1328.1 L1172.4 1328.8 L1174.1 1329.5 L1175.9 1330.1 L1177.6 1330.8 L1179.3 1331.5 L1181 1332.1 L1182.8 1332.8 L1184.5 1333.5 L1186.2 1334.2 L1187.9 1334.8 L1189.6 1335.5 L1191.4 1336.2 L1193.1 1336.8 L1194.8 1337.5 L1196.5 1338.2 L1198.2 1338.8 L1200 1339.5 L1201.7 1340.1 L1203.4 1340.8 L1205.1 1341.5 L1206.9 1342.1 L1208.6 1342.7 L1210.3 1343.4 L1212 1344 L1213.7 1344.7 L1215.5 1345.3 L1217.2 1345.9 L1218.9 1346.6 L1220.6 1347.2 L1222.4 1347.8 L1224.1 1348.4 L1225.8 1349 L1227.5 1349.6 L1229.2 1350.2 L1231 1350.8 L1232.7 1351.4 L1234.4 1352 L1236.1 1352.6 L1237.8 1353.1 L1239.6 1353.7 L1241.3 1354.3 L1243 1354.8 L1244.7 1355.4 L1246.5 1355.9 L1248.2 1356.4 L1249.9 1357 L1251.6 1357.5 L1253.3 1358 L1255.1 1358.5 L1256.8 1359 L1258.5 1359.5 L1260.2 1360 L1261.9 1360.4 L1263.7 1360.9 L1265.4 1361.4 L1267.1 1361.8 L1268.8 1362.2 L1270.6 1362.7 L1272.3 1363.1 L1274 1363.5 L1275.7 1363.9 L1277.4 1364.3 L1279.2 1364.7 L1280.9 1364.8 L1282.6 1364.8 L1284.3 1364.8" fill="none" stroke="#b24aa8" stroke-width="2.6" stroke-linejoin="round" stroke-dasharray="6.2 6.2"/>
<path d="M761.5 1364.8 L1284.3 1364.8" fill="none" stroke="#000" stroke-width="2.6" stroke-linejoin="round" stroke-dasharray="6.2 6.2"/>
</g>
<path d="M959.1 1000.1 H988.4" stroke="#2d4a9e" stroke-width="2.7"/>
<text x="991.4" y="1003.1" font-family="&apos;Liberation Sans&apos;, sans-serif" font-size="21" font-weight="bold">Mo:d<tspan font-size="16" dy="10.3">z</tspan><tspan font-size="11.3" dy="-10.3" dx="0">2</tspan></text>
<path d="M959.1 1037.3 H988.4" stroke="#e8141c" stroke-width="2.7"/>
<text x="991.4" y="1040.3" font-family="&apos;Liberation Sans&apos;, sans-serif" font-size="21" font-weight="bold">Mo:d<tspan font-size="16" dy="10.3">x</tspan><tspan font-size="11.3" dy="-10.3" dx="1">2</tspan><tspan font-size="16" dy="10.3" dx="0.5">−y</tspan><tspan font-size="11.3" dy="-10.3" dx="1.5">2</tspan></text>
<path d="M959.1 1074.6 H988.4" stroke="#5cb847" stroke-width="2.7"/>
<text x="991.4" y="1077.6" font-family="&apos;Liberation Sans&apos;, sans-serif" font-size="21" font-weight="bold">Mo:d<tspan font-size="16" dy="10.3">xy</tspan></text>
<path d="M959.1 1111.8 H988.4" stroke="#5fc7dd" stroke-width="2.7" stroke-dasharray="6.2 6.2"/>
<text x="991.4" y="1114.8" font-family="&apos;Liberation Sans&apos;, sans-serif" font-size="21" font-weight="bold">S:p<tspan font-size="16" dy="10.3">x</tspan></text>
<path d="M959.1 1149.1 H988.4" stroke="#b24aa8" stroke-width="2.7" stroke-dasharray="6.2 6.2"/>
<text x="991.4" y="1152.1" font-family="&apos;Liberation Sans&apos;, sans-serif" font-size="21" font-weight="bold">S:p<tspan font-size="16" dy="10.3">y</tspan></text>
<path d="M959.1 1186.3 H988.4" stroke="#000" stroke-width="2.7" stroke-dasharray="6.2 6.2"/>
<text x="991.4" y="1189.3" font-family="&apos;Liberation Sans&apos;, sans-serif" font-size="21" font-weight="bold">S:p<tspan font-size="16" dy="10.3">z</tspan></text>
<text x="776.6" y="902.3" font-family="&apos;Liberation Sans&apos;, sans-serif" font-size="20.4" font-weight="bold" text-anchor="start">D: Conduction band</text>
<text transform="translate(720.5,1116) rotate(-90)" font-family="&apos;Liberation Sans&apos;, sans-serif" font-size="24.5" font-weight="bold" text-anchor="middle">Normalized PLDOS</text>
<text x="1025.1" y="1411.2" font-family="&apos;Liberation Sans&apos;, sans-serif" font-size="24" font-weight="bold" text-anchor="middle">y/a<tspan font-size="18.5" dy="11.8">0</tspan></text>
<path d="M69.6 1522 V2054.3" stroke="#777" stroke-width="1"/>
<path d="M69.6 1522 H621.6" stroke="#aaa" stroke-width="1.5"/>
<path d="M621.6 1522 V2054.3" stroke="#aaa" stroke-width="1.5"/>
<path d="M69.6 2054.3 H621.6" stroke="#666" stroke-width="1"/>
<path d="M72.4 2054.3 v-5.5 M72.4 1522 v5.5 M163.7 2054.3 v-5.5 M163.7 1522 v5.5 M254.9 2054.3 v-5.5 M254.9 1522 v5.5 M346.1 2054.3 v-5.5 M346.1 1522 v5.5 M437.4 2054.3 v-5.5 M437.4 1522 v5.5 M528.6 2054.3 v-5.5 M528.6 1522 v5.5 M619.9 2054.3 v-5.5 M619.9 1522 v5.5 M69.6 2049.2 h5.5 M621.6 2049.2 h-5.5 M69.6 1997.1 h5.5 M621.6 1997.1 h-5.5 M69.6 1945 h5.5 M621.6 1945 h-5.5 M69.6 1893 h5.5 M621.6 1893 h-5.5 M69.6 1840.9 h5.5 M621.6 1840.9 h-5.5 M69.6 1788.8 h5.5 M621.6 1788.8 h-5.5 M69.6 1736.7 h5.5 M621.6 1736.7 h-5.5 M69.6 1684.6 h5.5 M621.6 1684.6 h-5.5 M69.6 1632.6 h5.5 M621.6 1632.6 h-5.5 M69.6 1580.5 h5.5 M621.6 1580.5 h-5.5 M69.6 1528.4 h5.5 M621.6 1528.4 h-5.5" stroke="#a8a8a8" stroke-width="1"/>
<text x="72.4" y="2076.6" font-family="&apos;Liberation Sans&apos;, sans-serif" font-size="20" text-anchor="middle">0</text>
<text x="163.7" y="2076.6" font-family="&apos;Liberation Sans&apos;, sans-serif" font-size="20" text-anchor="middle">5</text>
<text x="254.9" y="2076.6" font-family="&apos;Liberation Sans&apos;, sans-serif" font-size="20" text-anchor="middle">10</text>
<text x="346.1" y="2076.6" font-family="&apos;Liberation Sans&apos;, sans-serif" font-size="20" text-anchor="middle">15</text>
<text x="437.4" y="2076.6" font-family="&apos;Liberation Sans&apos;, sans-serif" font-size="20" text-anchor="middle">20</text>
<text x="528.6" y="2076.6" font-family="&apos;Liberation Sans&apos;, sans-serif" font-size="20" text-anchor="middle">25</text>
<text x="619.9" y="2076.6" font-family="&apos;Liberation Sans&apos;, sans-serif" font-size="20" text-anchor="middle">30</text>
<text x="66.3" y="2056.8" font-family="&apos;Liberation Sans&apos;, sans-serif" font-size="20" text-anchor="end">0</text>
<text x="66.3" y="2004.7" font-family="&apos;Liberation Sans&apos;, sans-serif" font-size="20" text-anchor="end">0.1</text>
<text x="66.3" y="1952.6" font-family="&apos;Liberation Sans&apos;, sans-serif" font-size="20" text-anchor="end">0.2</text>
<text x="66.3" y="1900.6" font-family="&apos;Liberation Sans&apos;, sans-serif" font-size="20" text-anchor="end">0.3</text>
<text x="66.3" y="1848.5" font-family="&apos;Liberation Sans&apos;, sans-serif" font-size="20" text-anchor="end">0.4</text>
<text x="66.3" y="1796.4" font-family="&apos;Liberation Sans&apos;, sans-serif" font-size="20" text-anchor="end">0.5</text>
<text x="66.3" y="1744.3" font-family="&apos;Liberation Sans&apos;, sans-serif" font-size="20" text-anchor="end">0.6</text>
<text x="66.3" y="1692.2" font-family="&apos;Liberation Sans&apos;, sans-serif" font-size="20" text-anchor="end">0.7</text>
<text x="66.3" y="1640.2" font-family="&apos;Liberation Sans&apos;, sans-serif" font-size="20" text-anchor="end">0.8</text>
<text x="66.3" y="1588.1" font-family="&apos;Liberation Sans&apos;, sans-serif" font-size="20" text-anchor="end">0.9</text>
<text x="66.3" y="1536" font-family="&apos;Liberation Sans&apos;, sans-serif" font-size="20" text-anchor="end">1</text>
<g clip-path="none">
<path d="M72.4 1924.2 L99.8 2039.3 L127.2 2049.2 L154.5 2049.2 L181.9 2049.2 L619.9 2049.2" fill="none" stroke="#2d4a9e" stroke-width="2.5" stroke-linejoin="round"/>
<path d="M72.4 1852.9 L99.8 1997.1 L127.2 2042.4 L154.5 2048.7 L181.9 2049.2 L619.9 2049.2" fill="none" stroke="#e8141c" stroke-width="2.5" stroke-linejoin="round"/>
<path d="M72.4 1528.4 L99.8 2046.1 L127.2 2039 L154.5 2048.2 L181.9 2049.2 L619.9 2049.2" fill="none" stroke="#5cb847" stroke-width="2.5" stroke-linejoin="round"/>
<path d="M81.5 2048.7 L108.9 2047.6 L136.3 2048.7 L163.7 2049.2 L191 2049.2 L619.9 2049.2" fill="none" stroke="#5fc7dd" stroke-width="2.6" stroke-linejoin="round" stroke-dasharray="6.2 6.2"/>
<path d="M81.5 2044.5 L108.9 2047.1 L136.3 2048.7 L163.7 2049.2 L191 2049.2 L619.9 2049.2" fill="none" stroke="#b24aa8" stroke-width="2.6" stroke-linejoin="round" stroke-dasharray="6.2 6.2"/>
<path d="M81.5 1987.2 L108.9 2038.3 L136.3 2047.1 L163.7 2048.9 L191 2049.2 L619.9 2049.2" fill="none" stroke="#000" stroke-width="2.6" stroke-linejoin="round" stroke-dasharray="6.2 6.2"/>
</g>
<path d="M482.4 1553.7 H512.2" stroke="#2d4a9e" stroke-width="2.7"/>
<text x="516.4" y="1556.7" font-family="&apos;Liberation Sans&apos;, sans-serif" font-size="21" font-weight="bold">Mo:d<tspan font-size="16" dy="10.3">z</tspan><tspan font-size="11.3" dy="-10.3" dx="0">2</tspan></text>
<path d="M482.4 1591 H512.2" stroke="#e8141c" stroke-width="2.7"/>
<text x="516.4" y="1594" font-family="&apos;Liberation Sans&apos;, sans-serif" font-size="21" font-weight="bold">Mo:d<tspan font-size="16" dy="10.3">x</tspan><tspan font-size="11.3" dy="-10.3" dx="1">2</tspan><tspan font-size="16" dy="10.3" dx="0.5">−y</tspan><tspan font-size="11.3" dy="-10.3" dx="1.5">2</tspan></text>
<path d="M482.4 1628.2 H512.2" stroke="#5cb847" stroke-width="2.7"/>
<text x="516.4" y="1631.2" font-family="&apos;Liberation Sans&apos;, sans-serif" font-size="21" font-weight="bold">Mo:d<tspan font-size="16" dy="10.3">xy</tspan></text>
<path d="M482.4 1665.5 H512.2" stroke="#5fc7dd" stroke-width="2.7" stroke-dasharray="6.2 6.2"/>
<text x="516.4" y="1668.5" font-family="&apos;Liberation Sans&apos;, sans-serif" font-size="21" font-weight="bold">S:p<tspan font-size="16" dy="10.3">x</tspan></text>
<path d="M482.4 1702.7 H512.2" stroke="#b24aa8" stroke-width="2.7" stroke-dasharray="6.2 6.2"/>
<text x="516.4" y="1705.7" font-family="&apos;Liberation Sans&apos;, sans-serif" font-size="21" font-weight="bold">S:p<tspan font-size="16" dy="10.3">y</tspan></text>
<path d="M482.4 1740 H512.2" stroke="#000" stroke-width="2.7" stroke-dasharray="6.2 6.2"/>
<text x="516.4" y="1743" font-family="&apos;Liberation Sans&apos;, sans-serif" font-size="21" font-weight="bold">S:p<tspan font-size="16" dy="10.3">z</tspan></text>
<text x="116" y="1576.7" font-family="&apos;Liberation Sans&apos;, sans-serif" font-size="20.4" font-weight="bold" text-anchor="start">B: Edge mode</text>
<text transform="translate(28.5,1788) rotate(-90)" font-family="&apos;Liberation Sans&apos;, sans-serif" font-size="24.5" font-weight="bold" text-anchor="middle">Normalized PLDOS</text>
<text x="345.5" y="2099.5" font-family="&apos;Liberation Sans&apos;, sans-serif" font-size="24" font-weight="bold" text-anchor="middle">y/a<tspan font-size="18.5" dy="11.8">0</tspan></text>
<path d="M768.7 1522 V2044.6" stroke="#666" stroke-width="1"/>
<path d="M768.7 1522 H1297.4" stroke="#aaa" stroke-width="1.5"/>
<path d="M1297.4 1522 V2044.6" stroke="#6a6a6a" stroke-width="1"/>
<path d="M768.7 2044.6 H1297.4" stroke="#666" stroke-width="1"/>
<path d="M768.7 2044.6 v-5.5 M768.7 1522 v5.5 M859.4 2044.6 v-5.5 M859.4 1522 v5.5 M950.2 2044.6 v-5.5 M950.2 1522 v5.5 M1040.9 2044.6 v-5.5 M1040.9 1522 v5.5 M1131.7 2044.6 v-5.5 M1131.7 1522 v5.5 M1222.4 2044.6 v-5.5 M1222.4 1522 v5.5 M768.7 2040.5 h5.5 M1297.4 2040.5 h-5.5 M768.7 1989.2 h5.5 M1297.4 1989.2 h-5.5 M768.7 1937.8 h5.5 M1297.4 1937.8 h-5.5 M768.7 1886.5 h5.5 M1297.4 1886.5 h-5.5 M768.7 1835.1 h5.5 M1297.4 1835.1 h-5.5 M768.7 1783.8 h5.5 M1297.4 1783.8 h-5.5 M768.7 1732.4 h5.5 M1297.4 1732.4 h-5.5 M768.7 1681 h5.5 M1297.4 1681 h-5.5 M768.7 1629.7 h5.5 M1297.4 1629.7 h-5.5 M768.7 1578.3 h5.5 M1297.4 1578.3 h-5.5 M768.7 1527 h5.5 M1297.4 1527 h-5.5" stroke="#a8a8a8" stroke-width="1"/>
<text x="768.7" y="2066.9" font-family="&apos;Liberation Sans&apos;, sans-serif" font-size="20" text-anchor="middle">120</text>
<text x="859.4" y="2066.9" font-family="&apos;Liberation Sans&apos;, sans-serif" font-size="20" text-anchor="middle">125</text>
<text x="950.2" y="2066.9" font-family="&apos;Liberation Sans&apos;, sans-serif" font-size="20" text-anchor="middle">130</text>
<text x="1040.9" y="2066.9" font-family="&apos;Liberation Sans&apos;, sans-serif" font-size="20" text-anchor="middle">135</text>
<text x="1131.7" y="2066.9" font-family="&apos;Liberation Sans&apos;, sans-serif" font-size="20" text-anchor="middle">140</text>
<text x="1222.4" y="2066.9" font-family="&apos;Liberation Sans&apos;, sans-serif" font-size="20" text-anchor="middle">145</text>
<text x="765.4" y="2048.1" font-family="&apos;Liberation Sans&apos;, sans-serif" font-size="20" text-anchor="end">0</text>
<text x="765.4" y="1996.8" font-family="&apos;Liberation Sans&apos;, sans-serif" font-size="20" text-anchor="end">0.1</text>
<text x="765.4" y="1945.4" font-family="&apos;Liberation Sans&apos;, sans-serif" font-size="20" text-anchor="end">0.2</text>
<text x="765.4" y="1894" font-family="&apos;Liberation Sans&apos;, sans-serif" font-size="20" text-anchor="end">0.3</text>
<text x="765.4" y="1842.7" font-family="&apos;Liberation Sans&apos;, sans-serif" font-size="20" text-anchor="end">0.4</text>
<text x="765.4" y="1791.3" font-family="&apos;Liberation Sans&apos;, sans-serif" font-size="20" text-anchor="end">0.5</text>
<text x="765.4" y="1740" font-family="&apos;Liberation Sans&apos;, sans-serif" font-size="20" text-anchor="end">0.6</text>
<text x="765.4" y="1688.6" font-family="&apos;Liberation Sans&apos;, sans-serif" font-size="20" text-anchor="end">0.7</text>
<text x="765.4" y="1637.3" font-family="&apos;Liberation Sans&apos;, sans-serif" font-size="20" text-anchor="end">0.8</text>
<text x="765.4" y="1585.9" font-family="&apos;Liberation Sans&apos;, sans-serif" font-size="20" text-anchor="end">0.9</text>
<text x="765.4" y="1534.6" font-family="&apos;Liberation Sans&apos;, sans-serif" font-size="20" text-anchor="end">1</text>
<g clip-path="none">
<path d="M768.7 2040.5 L1204.3 2039 L1231.5 2022 L1258.7 2020.5 L1285.9 1527" fill="none" stroke="#2d4a9e" stroke-width="2.5" stroke-linejoin="round"/>
<path d="M768.7 2040.5 L1204.3 2040.5 L1231.5 2033.8 L1258.7 2035.9 L1285.9 1727.3" fill="none" stroke="#e8141c" stroke-width="2.5" stroke-linejoin="round"/>
<path d="M768.7 2040.5 L1204.3 2040.5 L1231.5 2036.9 L1258.7 2039.5 L1285.9 2003.5" fill="none" stroke="#5cb847" stroke-width="2.5" stroke-linejoin="round"/>
<path d="M768.7 2040.5 L1213.3 2040.5 L1240.5 2039.5 L1267.8 2034.3 L1295 1919.8" fill="none" stroke="#5fc7dd" stroke-width="2.6" stroke-linejoin="round" stroke-dasharray="6.2 6.2"/>
<path d="M768.7 2040.5 L1213.3 2040.5 L1240.5 2037.4 L1267.8 2037.9 L1295 1947.6" fill="none" stroke="#b24aa8" stroke-width="2.6" stroke-linejoin="round" stroke-dasharray="6.2 6.2"/>
<path d="M768.7 2040.5 L1213.3 2040.5 L1240.5 2039.5 L1267.8 1988.6 L1295 2035.9" fill="none" stroke="#000" stroke-width="2.6" stroke-linejoin="round" stroke-dasharray="6.2 6.2"/>
</g>
<path d="M797.8 1555.9 H828" stroke="#2d4a9e" stroke-width="2.7"/>
<text x="831.9" y="1558.9" font-family="&apos;Liberation Sans&apos;, sans-serif" font-size="21" font-weight="bold">Mo:d<tspan font-size="16" dy="10.3">z</tspan><tspan font-size="11.3" dy="-10.3" dx="0">2</tspan></text>
<path d="M797.8 1593.2 H828" stroke="#e8141c" stroke-width="2.7"/>
<text x="831.9" y="1596.2" font-family="&apos;Liberation Sans&apos;, sans-serif" font-size="21" font-weight="bold">Mo:d<tspan font-size="16" dy="10.3">x</tspan><tspan font-size="11.3" dy="-10.3" dx="1">2</tspan><tspan font-size="16" dy="10.3" dx="0.5">−y</tspan><tspan font-size="11.3" dy="-10.3" dx="1.5">2</tspan></text>
<path d="M797.8 1630.4 H828" stroke="#5cb847" stroke-width="2.7"/>
<text x="831.9" y="1633.4" font-family="&apos;Liberation Sans&apos;, sans-serif" font-size="21" font-weight="bold">Mo:d<tspan font-size="16" dy="10.3">xy</tspan></text>
<path d="M797.8 1667.7 H828" stroke="#5fc7dd" stroke-width="2.7" stroke-dasharray="6.2 6.2"/>
<text x="831.9" y="1670.7" font-family="&apos;Liberation Sans&apos;, sans-serif" font-size="21" font-weight="bold">S:p<tspan font-size="16" dy="10.3">x</tspan></text>
<path d="M797.8 1704.9 H828" stroke="#b24aa8" stroke-width="2.7" stroke-dasharray="6.2 6.2"/>
<text x="831.9" y="1707.9" font-family="&apos;Liberation Sans&apos;, sans-serif" font-size="21" font-weight="bold">S:p<tspan font-size="16" dy="10.3">y</tspan></text>
<path d="M797.8 1742.2 H828" stroke="#000" stroke-width="2.7" stroke-dasharray="6.2 6.2"/>
<text x="831.9" y="1745.2" font-family="&apos;Liberation Sans&apos;, sans-serif" font-size="21" font-weight="bold">S:p<tspan font-size="16" dy="10.3">z</tspan></text>
<text x="1247.2" y="1571" font-family="&apos;Liberation Sans&apos;, sans-serif" font-size="20.4" font-weight="bold" text-anchor="end">C: Edge mode</text>
<text transform="translate(727.5,1783) rotate(-90)" font-family="&apos;Liberation Sans&apos;, sans-serif" font-size="24.5" font-weight="bold" text-anchor="middle">Normalized PLDOS</text>
<text x="1032.2" y="2094.7" font-family="&apos;Liberation Sans&apos;, sans-serif" font-size="24" font-weight="bold" text-anchor="middle">y/a<tspan font-size="18.5" dy="11.8">0</tspan></text>
</svg></body></html>
